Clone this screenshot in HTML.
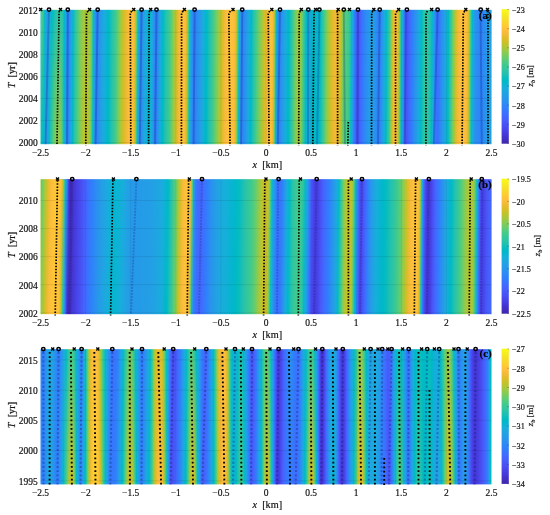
<!DOCTYPE html>
<html lang="en">
<head>
<meta charset="utf-8">
<title>Sand wave bed level evolution</title>
<style>
html,body{margin:0;padding:0;background:#fff;}
body{width:550px;height:515px;overflow:hidden;}
svg{display:block;font-family:'Liberation Serif', serif;fill:#1a1a1a;}
svg text{fill:#111;stroke:#111;stroke-width:0.18px;}
</style>
</head>
<body>
<svg width="550" height="515" viewBox="0 0 550 515">
<rect width="550" height="515" fill="#fff"/>
<defs>
<linearGradient id="cbar" x1="0" y1="0" x2="0" y2="1"><stop offset="0.0000" stop-color="#f9fb15"/><stop offset="0.0156" stop-color="#f7f51b"/><stop offset="0.0312" stop-color="#f6ef20"/><stop offset="0.0469" stop-color="#f5e924"/><stop offset="0.0625" stop-color="#f5e327"/><stop offset="0.0781" stop-color="#f7dd2a"/><stop offset="0.0938" stop-color="#f9d62d"/><stop offset="0.1094" stop-color="#fcd030"/><stop offset="0.1250" stop-color="#feca33"/><stop offset="0.1406" stop-color="#fec437"/><stop offset="0.1562" stop-color="#febe3c"/><stop offset="0.1719" stop-color="#f9bb3d"/><stop offset="0.1875" stop-color="#f1ba37"/><stop offset="0.2031" stop-color="#e8bb2f"/><stop offset="0.2188" stop-color="#debc2a"/><stop offset="0.2344" stop-color="#d4bf28"/><stop offset="0.2500" stop-color="#c8c129"/><stop offset="0.2656" stop-color="#bcc42f"/><stop offset="0.2812" stop-color="#afc637"/><stop offset="0.2969" stop-color="#a2c840"/><stop offset="0.3125" stop-color="#94ca4a"/><stop offset="0.3281" stop-color="#85cb55"/><stop offset="0.3438" stop-color="#77cc60"/><stop offset="0.3594" stop-color="#69cd6b"/><stop offset="0.3750" stop-color="#5ccc76"/><stop offset="0.3906" stop-color="#4fcc80"/><stop offset="0.4062" stop-color="#44ca8a"/><stop offset="0.4219" stop-color="#3ac993"/><stop offset="0.4375" stop-color="#34c79c"/><stop offset="0.4531" stop-color="#2ec5a4"/><stop offset="0.4688" stop-color="#28c2ab"/><stop offset="0.4844" stop-color="#1ec0b2"/><stop offset="0.5000" stop-color="#12beb9"/><stop offset="0.5156" stop-color="#07bcc0"/><stop offset="0.5312" stop-color="#01b9c6"/><stop offset="0.5469" stop-color="#04b6cd"/><stop offset="0.5625" stop-color="#0cb3d3"/><stop offset="0.5781" stop-color="#14b0d8"/><stop offset="0.5938" stop-color="#1aacdd"/><stop offset="0.6094" stop-color="#1ea7e1"/><stop offset="0.6250" stop-color="#21a3e3"/><stop offset="0.6406" stop-color="#249ee6"/><stop offset="0.6562" stop-color="#269ae9"/><stop offset="0.6719" stop-color="#2895ec"/><stop offset="0.6875" stop-color="#2c90f0"/><stop offset="0.7031" stop-color="#2d8bf4"/><stop offset="0.7188" stop-color="#2e85f8"/><stop offset="0.7344" stop-color="#3080fa"/><stop offset="0.7500" stop-color="#347afd"/><stop offset="0.7656" stop-color="#3a74fe"/><stop offset="0.7812" stop-color="#3f6efe"/><stop offset="0.7969" stop-color="#4368fe"/><stop offset="0.8125" stop-color="#4562fc"/><stop offset="0.8281" stop-color="#475dfa"/><stop offset="0.8438" stop-color="#4757f7"/><stop offset="0.8594" stop-color="#4852f4"/><stop offset="0.8750" stop-color="#484cef"/><stop offset="0.8906" stop-color="#4746ea"/><stop offset="0.9062" stop-color="#4741e5"/><stop offset="0.9219" stop-color="#463bdd"/><stop offset="0.9375" stop-color="#4536d5"/><stop offset="0.9531" stop-color="#4332ca"/><stop offset="0.9688" stop-color="#422ebf"/><stop offset="0.9844" stop-color="#402ab4"/><stop offset="1.0000" stop-color="#3e26a8"/></linearGradient>
<linearGradient id="gt1" gradientUnits="userSpaceOnUse" x1="40.5" y1="0" x2="491.5" y2="0"><stop offset="0.0000" stop-color="#64cd6f"/><stop offset="0.0022" stop-color="#5acc77"/><stop offset="0.0044" stop-color="#45cb89"/><stop offset="0.0067" stop-color="#2fc5a2"/><stop offset="0.0089" stop-color="#08bcbf"/><stop offset="0.0111" stop-color="#16afd9"/><stop offset="0.0133" stop-color="#239fe5"/><stop offset="0.0155" stop-color="#269ae9"/><stop offset="0.0177" stop-color="#23a0e5"/><stop offset="0.0200" stop-color="#1caadf"/><stop offset="0.0222" stop-color="#10b2d5"/><stop offset="0.0244" stop-color="#02b7cb"/><stop offset="0.0266" stop-color="#03bbc3"/><stop offset="0.0288" stop-color="#0dbdbc"/><stop offset="0.0310" stop-color="#18bfb6"/><stop offset="0.0333" stop-color="#21c1b0"/><stop offset="0.0355" stop-color="#27c2ab"/><stop offset="0.0377" stop-color="#2cc4a7"/><stop offset="0.0399" stop-color="#2ec5a4"/><stop offset="0.0421" stop-color="#2fc5a2"/><stop offset="0.0443" stop-color="#2fc5a2"/><stop offset="0.0466" stop-color="#2ec4a4"/><stop offset="0.0488" stop-color="#28c3ab"/><stop offset="0.0510" stop-color="#13beb8"/><stop offset="0.0532" stop-color="#03b7cc"/><stop offset="0.0554" stop-color="#1da9e0"/><stop offset="0.0576" stop-color="#2896ec"/><stop offset="0.0599" stop-color="#2e87f7"/><stop offset="0.0621" stop-color="#2e84f8"/><stop offset="0.0643" stop-color="#2d8df2"/><stop offset="0.0665" stop-color="#269ae8"/><stop offset="0.0687" stop-color="#1ea7e1"/><stop offset="0.0710" stop-color="#0eb2d4"/><stop offset="0.0732" stop-color="#03bbc3"/><stop offset="0.0754" stop-color="#1fc0b2"/><stop offset="0.0776" stop-color="#2fc5a3"/><stop offset="0.0798" stop-color="#39c895"/><stop offset="0.0820" stop-color="#48cb86"/><stop offset="0.0843" stop-color="#59cc78"/><stop offset="0.0865" stop-color="#69cd6a"/><stop offset="0.0887" stop-color="#79cc5e"/><stop offset="0.0909" stop-color="#88cb54"/><stop offset="0.0931" stop-color="#93ca4a"/><stop offset="0.0953" stop-color="#9dc943"/><stop offset="0.0976" stop-color="#a5c83d"/><stop offset="0.0998" stop-color="#aac73a"/><stop offset="0.1020" stop-color="#acc738"/><stop offset="0.1042" stop-color="#abc739"/><stop offset="0.1064" stop-color="#a7c73c"/><stop offset="0.1086" stop-color="#9fc942"/><stop offset="0.1109" stop-color="#8ccb50"/><stop offset="0.1131" stop-color="#64cd6f"/><stop offset="0.1153" stop-color="#35c79b"/><stop offset="0.1175" stop-color="#02bac5"/><stop offset="0.1197" stop-color="#20a5e2"/><stop offset="0.1220" stop-color="#2c90f0"/><stop offset="0.1242" stop-color="#2e84f9"/><stop offset="0.1264" stop-color="#2e84f8"/><stop offset="0.1286" stop-color="#2d8bf4"/><stop offset="0.1308" stop-color="#2a93ee"/><stop offset="0.1330" stop-color="#2699e9"/><stop offset="0.1353" stop-color="#249fe5"/><stop offset="0.1375" stop-color="#20a4e3"/><stop offset="0.1397" stop-color="#1da9e0"/><stop offset="0.1419" stop-color="#19acdc"/><stop offset="0.1441" stop-color="#14b0d8"/><stop offset="0.1463" stop-color="#0cb3d3"/><stop offset="0.1486" stop-color="#04b6cd"/><stop offset="0.1508" stop-color="#01b9c7"/><stop offset="0.1530" stop-color="#06bcc0"/><stop offset="0.1552" stop-color="#11beb9"/><stop offset="0.1574" stop-color="#1ec0b2"/><stop offset="0.1596" stop-color="#28c3aa"/><stop offset="0.1619" stop-color="#2fc5a2"/><stop offset="0.1641" stop-color="#36c899"/><stop offset="0.1663" stop-color="#3eca8f"/><stop offset="0.1685" stop-color="#4bcb83"/><stop offset="0.1707" stop-color="#5ccc76"/><stop offset="0.1729" stop-color="#6fcd66"/><stop offset="0.1752" stop-color="#86cb55"/><stop offset="0.1774" stop-color="#9cc944"/><stop offset="0.1796" stop-color="#afc636"/><stop offset="0.1818" stop-color="#bfc32d"/><stop offset="0.1840" stop-color="#cdc028"/><stop offset="0.1863" stop-color="#d9be28"/><stop offset="0.1885" stop-color="#e3bc2c"/><stop offset="0.1907" stop-color="#ecba32"/><stop offset="0.1929" stop-color="#f3ba39"/><stop offset="0.1951" stop-color="#fabb3d"/><stop offset="0.1973" stop-color="#febd3c"/><stop offset="0.1996" stop-color="#fec03a"/><stop offset="0.2018" stop-color="#fec239"/><stop offset="0.2040" stop-color="#fec03a"/><stop offset="0.2062" stop-color="#fdbd3d"/><stop offset="0.2084" stop-color="#f1ba37"/><stop offset="0.2106" stop-color="#c7c129"/><stop offset="0.2129" stop-color="#6ecd67"/><stop offset="0.2151" stop-color="#26c2ad"/><stop offset="0.2173" stop-color="#15afd8"/><stop offset="0.2195" stop-color="#2699e9"/><stop offset="0.2217" stop-color="#2d8af4"/><stop offset="0.2239" stop-color="#2d89f5"/><stop offset="0.2262" stop-color="#2b92ee"/><stop offset="0.2284" stop-color="#259ce7"/><stop offset="0.2306" stop-color="#20a4e3"/><stop offset="0.2328" stop-color="#1caadf"/><stop offset="0.2350" stop-color="#15afd9"/><stop offset="0.2373" stop-color="#0cb3d3"/><stop offset="0.2395" stop-color="#05b6ce"/><stop offset="0.2417" stop-color="#04b6cd"/><stop offset="0.2439" stop-color="#0bb4d2"/><stop offset="0.2461" stop-color="#17aeda"/><stop offset="0.2483" stop-color="#1fa6e2"/><stop offset="0.2506" stop-color="#269ae8"/><stop offset="0.2528" stop-color="#2d8df2"/><stop offset="0.2550" stop-color="#2e83f9"/><stop offset="0.2572" stop-color="#2f81fa"/><stop offset="0.2594" stop-color="#2d88f6"/><stop offset="0.2616" stop-color="#2994ed"/><stop offset="0.2639" stop-color="#249fe5"/><stop offset="0.2661" stop-color="#1ca9df"/><stop offset="0.2683" stop-color="#12b1d7"/><stop offset="0.2705" stop-color="#04b6cd"/><stop offset="0.2727" stop-color="#02bbc3"/><stop offset="0.2749" stop-color="#11beba"/><stop offset="0.2772" stop-color="#20c1b1"/><stop offset="0.2794" stop-color="#29c3a9"/><stop offset="0.2816" stop-color="#30c5a1"/><stop offset="0.2838" stop-color="#36c899"/><stop offset="0.2860" stop-color="#3eca8f"/><stop offset="0.2882" stop-color="#4ccb83"/><stop offset="0.2905" stop-color="#5ecd74"/><stop offset="0.2927" stop-color="#73cd62"/><stop offset="0.2949" stop-color="#8bcb51"/><stop offset="0.2971" stop-color="#a2c840"/><stop offset="0.2993" stop-color="#b8c431"/><stop offset="0.3016" stop-color="#cdc028"/><stop offset="0.3038" stop-color="#dfbc2a"/><stop offset="0.3060" stop-color="#edba34"/><stop offset="0.3082" stop-color="#f8ba3d"/><stop offset="0.3104" stop-color="#fdbd3d"/><stop offset="0.3126" stop-color="#fec03a"/><stop offset="0.3149" stop-color="#fec239"/><stop offset="0.3171" stop-color="#fec13a"/><stop offset="0.3193" stop-color="#febe3c"/><stop offset="0.3215" stop-color="#f9bb3d"/><stop offset="0.3237" stop-color="#e5bb2d"/><stop offset="0.3259" stop-color="#afc636"/><stop offset="0.3282" stop-color="#55cc7c"/><stop offset="0.3304" stop-color="#19bfb6"/><stop offset="0.3326" stop-color="#17aeda"/><stop offset="0.3348" stop-color="#259be8"/><stop offset="0.3370" stop-color="#2c8ef1"/><stop offset="0.3392" stop-color="#2e86f8"/><stop offset="0.3415" stop-color="#2f81fa"/><stop offset="0.3437" stop-color="#2f81fa"/><stop offset="0.3459" stop-color="#2e86f7"/><stop offset="0.3481" stop-color="#2d8cf3"/><stop offset="0.3503" stop-color="#2a92ee"/><stop offset="0.3525" stop-color="#2798ea"/><stop offset="0.3548" stop-color="#249de6"/><stop offset="0.3570" stop-color="#21a3e3"/><stop offset="0.3592" stop-color="#1da8e0"/><stop offset="0.3614" stop-color="#19addc"/><stop offset="0.3636" stop-color="#11b1d6"/><stop offset="0.3659" stop-color="#06b5cf"/><stop offset="0.3681" stop-color="#01b9c8"/><stop offset="0.3703" stop-color="#06bcc0"/><stop offset="0.3725" stop-color="#13beb8"/><stop offset="0.3747" stop-color="#21c1b0"/><stop offset="0.3769" stop-color="#2bc3a8"/><stop offset="0.3792" stop-color="#32c69f"/><stop offset="0.3814" stop-color="#39c995"/><stop offset="0.3836" stop-color="#44cb8a"/><stop offset="0.3858" stop-color="#52cc7e"/><stop offset="0.3880" stop-color="#61cd71"/><stop offset="0.3902" stop-color="#72cd63"/><stop offset="0.3925" stop-color="#84cb56"/><stop offset="0.3947" stop-color="#96ca48"/><stop offset="0.3969" stop-color="#a8c73b"/><stop offset="0.3991" stop-color="#b9c430"/><stop offset="0.4013" stop-color="#c9c129"/><stop offset="0.4035" stop-color="#d8be28"/><stop offset="0.4058" stop-color="#e5bb2d"/><stop offset="0.4080" stop-color="#f0ba36"/><stop offset="0.4102" stop-color="#f8ba3d"/><stop offset="0.4124" stop-color="#fcbc3d"/><stop offset="0.4146" stop-color="#febe3c"/><stop offset="0.4169" stop-color="#fec03a"/><stop offset="0.4191" stop-color="#fec239"/><stop offset="0.4213" stop-color="#fec339"/><stop offset="0.4235" stop-color="#fec239"/><stop offset="0.4257" stop-color="#fec03a"/><stop offset="0.4279" stop-color="#febe3c"/><stop offset="0.4302" stop-color="#fbbc3d"/><stop offset="0.4324" stop-color="#f0ba36"/><stop offset="0.4346" stop-color="#c7c12a"/><stop offset="0.4368" stop-color="#6ecd67"/><stop offset="0.4390" stop-color="#27c2ac"/><stop offset="0.4412" stop-color="#13b0d7"/><stop offset="0.4435" stop-color="#269ae8"/><stop offset="0.4457" stop-color="#2d8af4"/><stop offset="0.4479" stop-color="#2e83f9"/><stop offset="0.4501" stop-color="#2e85f8"/><stop offset="0.4523" stop-color="#2d8cf3"/><stop offset="0.4545" stop-color="#2994ed"/><stop offset="0.4568" stop-color="#269be8"/><stop offset="0.4590" stop-color="#22a1e4"/><stop offset="0.4612" stop-color="#1da8e0"/><stop offset="0.4634" stop-color="#16afd9"/><stop offset="0.4656" stop-color="#07b5d0"/><stop offset="0.4678" stop-color="#02bac4"/><stop offset="0.4701" stop-color="#12beb9"/><stop offset="0.4723" stop-color="#25c2ad"/><stop offset="0.4745" stop-color="#30c5a2"/><stop offset="0.4767" stop-color="#39c895"/><stop offset="0.4789" stop-color="#46cb88"/><stop offset="0.4812" stop-color="#57cc7a"/><stop offset="0.4834" stop-color="#68cd6c"/><stop offset="0.4856" stop-color="#78cc5f"/><stop offset="0.4878" stop-color="#89cb52"/><stop offset="0.4900" stop-color="#9ac945"/><stop offset="0.4922" stop-color="#abc739"/><stop offset="0.4945" stop-color="#bdc32e"/><stop offset="0.4967" stop-color="#cfc028"/><stop offset="0.4989" stop-color="#debc2a"/><stop offset="0.5011" stop-color="#ebba31"/><stop offset="0.5033" stop-color="#f5ba3a"/><stop offset="0.5055" stop-color="#fbbc3d"/><stop offset="0.5078" stop-color="#febf3b"/><stop offset="0.5100" stop-color="#fec13a"/><stop offset="0.5122" stop-color="#fec03b"/><stop offset="0.5144" stop-color="#fbbc3d"/><stop offset="0.5166" stop-color="#e9bb30"/><stop offset="0.5188" stop-color="#abc739"/><stop offset="0.5211" stop-color="#3bc992"/><stop offset="0.5233" stop-color="#0bb3d2"/><stop offset="0.5255" stop-color="#2797ea"/><stop offset="0.5277" stop-color="#2e87f7"/><stop offset="0.5299" stop-color="#2e84f9"/><stop offset="0.5322" stop-color="#2d89f5"/><stop offset="0.5344" stop-color="#2c90f0"/><stop offset="0.5366" stop-color="#2797eb"/><stop offset="0.5388" stop-color="#249ee6"/><stop offset="0.5410" stop-color="#20a4e3"/><stop offset="0.5432" stop-color="#1baade"/><stop offset="0.5455" stop-color="#14b0d8"/><stop offset="0.5477" stop-color="#09b4d1"/><stop offset="0.5499" stop-color="#01b8c9"/><stop offset="0.5521" stop-color="#06bcc0"/><stop offset="0.5543" stop-color="#18bfb6"/><stop offset="0.5565" stop-color="#29c3a9"/><stop offset="0.5588" stop-color="#35c79a"/><stop offset="0.5610" stop-color="#45cb89"/><stop offset="0.5632" stop-color="#5ccc76"/><stop offset="0.5654" stop-color="#71cd64"/><stop offset="0.5676" stop-color="#85cb55"/><stop offset="0.5698" stop-color="#97ca47"/><stop offset="0.5721" stop-color="#a5c83d"/><stop offset="0.5743" stop-color="#a7c73c"/><stop offset="0.5765" stop-color="#99c946"/><stop offset="0.5787" stop-color="#7fcc5a"/><stop offset="0.5809" stop-color="#5fcd73"/><stop offset="0.5831" stop-color="#3fca8e"/><stop offset="0.5854" stop-color="#2dc4a5"/><stop offset="0.5876" stop-color="#13beb9"/><stop offset="0.5898" stop-color="#01b8c9"/><stop offset="0.5920" stop-color="#11b2d5"/><stop offset="0.5942" stop-color="#1aacdd"/><stop offset="0.5965" stop-color="#1babde"/><stop offset="0.5987" stop-color="#17aeda"/><stop offset="0.6009" stop-color="#0cb3d3"/><stop offset="0.6031" stop-color="#01b7ca"/><stop offset="0.6053" stop-color="#02bbc3"/><stop offset="0.6075" stop-color="#05bbc1"/><stop offset="0.6098" stop-color="#01bac6"/><stop offset="0.6120" stop-color="#04b6cd"/><stop offset="0.6142" stop-color="#0bb3d2"/><stop offset="0.6164" stop-color="#0ab4d1"/><stop offset="0.6186" stop-color="#02b7cb"/><stop offset="0.6208" stop-color="#04bbc1"/><stop offset="0.6231" stop-color="#18bfb6"/><stop offset="0.6253" stop-color="#2bc3a8"/><stop offset="0.6275" stop-color="#36c898"/><stop offset="0.6297" stop-color="#48cb86"/><stop offset="0.6319" stop-color="#5fcd73"/><stop offset="0.6341" stop-color="#76cc60"/><stop offset="0.6364" stop-color="#8ecb4f"/><stop offset="0.6386" stop-color="#a4c83e"/><stop offset="0.6408" stop-color="#b7c532"/><stop offset="0.6430" stop-color="#c8c129"/><stop offset="0.6452" stop-color="#d5be28"/><stop offset="0.6475" stop-color="#e0bc2a"/><stop offset="0.6497" stop-color="#e8bb2f"/><stop offset="0.6519" stop-color="#edba33"/><stop offset="0.6541" stop-color="#f1ba36"/><stop offset="0.6563" stop-color="#f2ba38"/><stop offset="0.6585" stop-color="#f1ba37"/><stop offset="0.6608" stop-color="#ecba32"/><stop offset="0.6630" stop-color="#e2bc2b"/><stop offset="0.6652" stop-color="#cfc028"/><stop offset="0.6674" stop-color="#afc636"/><stop offset="0.6696" stop-color="#8ccb50"/><stop offset="0.6718" stop-color="#6dcd67"/><stop offset="0.6741" stop-color="#5bcc77"/><stop offset="0.6763" stop-color="#53cc7d"/><stop offset="0.6785" stop-color="#4ecc81"/><stop offset="0.6807" stop-color="#49cb85"/><stop offset="0.6829" stop-color="#3fca8e"/><stop offset="0.6851" stop-color="#33c79d"/><stop offset="0.6874" stop-color="#25c2ae"/><stop offset="0.6896" stop-color="#02bac4"/><stop offset="0.6918" stop-color="#19addc"/><stop offset="0.6940" stop-color="#2798ea"/><stop offset="0.6962" stop-color="#2e83f9"/><stop offset="0.6984" stop-color="#3d70ff"/><stop offset="0.7007" stop-color="#4562fc"/><stop offset="0.7029" stop-color="#4759f8"/><stop offset="0.7051" stop-color="#4756f6"/><stop offset="0.7073" stop-color="#475af9"/><stop offset="0.7095" stop-color="#4562fc"/><stop offset="0.7118" stop-color="#416cfe"/><stop offset="0.7140" stop-color="#3975fe"/><stop offset="0.7162" stop-color="#317dfc"/><stop offset="0.7184" stop-color="#2e84f9"/><stop offset="0.7206" stop-color="#2d89f5"/><stop offset="0.7228" stop-color="#2d8df2"/><stop offset="0.7251" stop-color="#2b92ee"/><stop offset="0.7273" stop-color="#2796eb"/><stop offset="0.7295" stop-color="#269ae8"/><stop offset="0.7317" stop-color="#249ee6"/><stop offset="0.7339" stop-color="#23a1e4"/><stop offset="0.7361" stop-color="#23a1e4"/><stop offset="0.7384" stop-color="#249ee6"/><stop offset="0.7406" stop-color="#2699e9"/><stop offset="0.7428" stop-color="#2994ed"/><stop offset="0.7450" stop-color="#2d8df2"/><stop offset="0.7472" stop-color="#2e86f7"/><stop offset="0.7494" stop-color="#2f81fa"/><stop offset="0.7517" stop-color="#2f81fa"/><stop offset="0.7539" stop-color="#2e86f7"/><stop offset="0.7561" stop-color="#2c8ef1"/><stop offset="0.7583" stop-color="#2798ea"/><stop offset="0.7605" stop-color="#22a2e4"/><stop offset="0.7627" stop-color="#1babde"/><stop offset="0.7650" stop-color="#0cb3d3"/><stop offset="0.7672" stop-color="#01b9c6"/><stop offset="0.7694" stop-color="#15bfb8"/><stop offset="0.7716" stop-color="#2ac3a8"/><stop offset="0.7738" stop-color="#38c896"/><stop offset="0.7761" stop-color="#58cc79"/><stop offset="0.7783" stop-color="#8ecb4f"/><stop offset="0.7805" stop-color="#c3c22b"/><stop offset="0.7827" stop-color="#e7bb2e"/><stop offset="0.7849" stop-color="#fabb3d"/><stop offset="0.7871" stop-color="#fec13a"/><stop offset="0.7894" stop-color="#fec03b"/><stop offset="0.7916" stop-color="#f4ba39"/><stop offset="0.7938" stop-color="#d1bf27"/><stop offset="0.7960" stop-color="#8fcb4e"/><stop offset="0.7982" stop-color="#42ca8b"/><stop offset="0.8004" stop-color="#11beb9"/><stop offset="0.8027" stop-color="#19addc"/><stop offset="0.8049" stop-color="#2a93ed"/><stop offset="0.8071" stop-color="#3479fd"/><stop offset="0.8093" stop-color="#4563fd"/><stop offset="0.8115" stop-color="#4758f8"/><stop offset="0.8137" stop-color="#4757f7"/><stop offset="0.8160" stop-color="#465efb"/><stop offset="0.8182" stop-color="#4367fd"/><stop offset="0.8204" stop-color="#3e6fff"/><stop offset="0.8226" stop-color="#3777fe"/><stop offset="0.8248" stop-color="#307ffb"/><stop offset="0.8271" stop-color="#2e86f8"/><stop offset="0.8293" stop-color="#2d8cf3"/><stop offset="0.8315" stop-color="#2a93ee"/><stop offset="0.8337" stop-color="#2699e9"/><stop offset="0.8359" stop-color="#239fe5"/><stop offset="0.8381" stop-color="#1fa6e1"/><stop offset="0.8404" stop-color="#18aedb"/><stop offset="0.8426" stop-color="#09b4d1"/><stop offset="0.8448" stop-color="#01bac5"/><stop offset="0.8470" stop-color="#10beba"/><stop offset="0.8492" stop-color="#20c1b1"/><stop offset="0.8514" stop-color="#2bc3a8"/><stop offset="0.8537" stop-color="#30c5a1"/><stop offset="0.8559" stop-color="#32c69e"/><stop offset="0.8581" stop-color="#31c6a0"/><stop offset="0.8603" stop-color="#2dc4a6"/><stop offset="0.8625" stop-color="#27c2ab"/><stop offset="0.8647" stop-color="#1fc0b2"/><stop offset="0.8670" stop-color="#0dbdbc"/><stop offset="0.8692" stop-color="#05b6ce"/><stop offset="0.8714" stop-color="#1ea7e1"/><stop offset="0.8736" stop-color="#2895ec"/><stop offset="0.8758" stop-color="#2e85f8"/><stop offset="0.8780" stop-color="#3678fe"/><stop offset="0.8803" stop-color="#3d70ff"/><stop offset="0.8825" stop-color="#3c72ff"/><stop offset="0.8847" stop-color="#337bfd"/><stop offset="0.8869" stop-color="#2e84f8"/><stop offset="0.8891" stop-color="#2d8df2"/><stop offset="0.8914" stop-color="#2994ed"/><stop offset="0.8936" stop-color="#259be8"/><stop offset="0.8958" stop-color="#22a1e4"/><stop offset="0.8980" stop-color="#1da8e0"/><stop offset="0.9002" stop-color="#16afd9"/><stop offset="0.9024" stop-color="#07b5d0"/><stop offset="0.9047" stop-color="#02bac3"/><stop offset="0.9069" stop-color="#1ac0b5"/><stop offset="0.9091" stop-color="#2fc5a2"/><stop offset="0.9113" stop-color="#42ca8c"/><stop offset="0.9135" stop-color="#5fcd73"/><stop offset="0.9157" stop-color="#7ccc5c"/><stop offset="0.9180" stop-color="#9bc945"/><stop offset="0.9202" stop-color="#bbc430"/><stop offset="0.9224" stop-color="#d8be28"/><stop offset="0.9246" stop-color="#ebba31"/><stop offset="0.9268" stop-color="#f4ba39"/><stop offset="0.9290" stop-color="#f9bb3d"/><stop offset="0.9313" stop-color="#fdbd3d"/><stop offset="0.9335" stop-color="#fec03a"/><stop offset="0.9357" stop-color="#fec239"/><stop offset="0.9379" stop-color="#fec13a"/><stop offset="0.9401" stop-color="#febf3b"/><stop offset="0.9424" stop-color="#fdbd3d"/><stop offset="0.9446" stop-color="#fabb3d"/><stop offset="0.9468" stop-color="#f3ba39"/><stop offset="0.9490" stop-color="#dbbd29"/><stop offset="0.9512" stop-color="#9fc942"/><stop offset="0.9534" stop-color="#4dcc82"/><stop offset="0.9557" stop-color="#23c1af"/><stop offset="0.9579" stop-color="#04b6cd"/><stop offset="0.9601" stop-color="#1da9e0"/><stop offset="0.9623" stop-color="#259ce7"/><stop offset="0.9645" stop-color="#2a93ed"/><stop offset="0.9667" stop-color="#2c8ff1"/><stop offset="0.9690" stop-color="#2d8cf3"/><stop offset="0.9712" stop-color="#2d89f5"/><stop offset="0.9734" stop-color="#2e87f7"/><stop offset="0.9756" stop-color="#2e84f8"/><stop offset="0.9778" stop-color="#2e84f8"/><stop offset="0.9800" stop-color="#2e86f8"/><stop offset="0.9823" stop-color="#2d89f5"/><stop offset="0.9845" stop-color="#2d8cf3"/><stop offset="0.9867" stop-color="#2b91ef"/><stop offset="0.9889" stop-color="#2797ea"/><stop offset="0.9911" stop-color="#249de6"/><stop offset="0.9933" stop-color="#22a2e4"/><stop offset="0.9956" stop-color="#21a3e3"/><stop offset="0.9978" stop-color="#21a3e4"/><stop offset="1.0000" stop-color="#22a2e4"/></linearGradient>
<linearGradient id="gb1" gradientUnits="userSpaceOnUse" x1="40.5" y1="0" x2="491.5" y2="0"><stop offset="0.0000" stop-color="#16bfb7"/><stop offset="0.0022" stop-color="#08bcbf"/><stop offset="0.0044" stop-color="#01bac5"/><stop offset="0.0067" stop-color="#04b6cd"/><stop offset="0.0089" stop-color="#16aeda"/><stop offset="0.0111" stop-color="#22a2e4"/><stop offset="0.0133" stop-color="#259de7"/><stop offset="0.0155" stop-color="#20a4e3"/><stop offset="0.0177" stop-color="#10b2d5"/><stop offset="0.0200" stop-color="#06bcc0"/><stop offset="0.0222" stop-color="#27c2ac"/><stop offset="0.0244" stop-color="#36c898"/><stop offset="0.0266" stop-color="#49cb85"/><stop offset="0.0288" stop-color="#5fcd73"/><stop offset="0.0310" stop-color="#73cd62"/><stop offset="0.0333" stop-color="#84cc56"/><stop offset="0.0355" stop-color="#90ca4d"/><stop offset="0.0377" stop-color="#98c947"/><stop offset="0.0399" stop-color="#99c946"/><stop offset="0.0421" stop-color="#96ca49"/><stop offset="0.0443" stop-color="#8dcb50"/><stop offset="0.0466" stop-color="#71cd64"/><stop offset="0.0488" stop-color="#40ca8d"/><stop offset="0.0510" stop-color="#17bfb6"/><stop offset="0.0532" stop-color="#15afd9"/><stop offset="0.0554" stop-color="#269ae9"/><stop offset="0.0576" stop-color="#2d89f5"/><stop offset="0.0599" stop-color="#2e84f9"/><stop offset="0.0621" stop-color="#2d8bf4"/><stop offset="0.0643" stop-color="#2798ea"/><stop offset="0.0665" stop-color="#20a5e2"/><stop offset="0.0687" stop-color="#13b1d7"/><stop offset="0.0710" stop-color="#01b9c6"/><stop offset="0.0732" stop-color="#19bfb5"/><stop offset="0.0754" stop-color="#2dc4a6"/><stop offset="0.0776" stop-color="#37c898"/><stop offset="0.0798" stop-color="#44cb89"/><stop offset="0.0820" stop-color="#55cc7b"/><stop offset="0.0843" stop-color="#66cd6d"/><stop offset="0.0865" stop-color="#78cc5f"/><stop offset="0.0887" stop-color="#8bcb51"/><stop offset="0.0909" stop-color="#9cc943"/><stop offset="0.0931" stop-color="#acc739"/><stop offset="0.0953" stop-color="#b7c532"/><stop offset="0.0976" stop-color="#bfc32d"/><stop offset="0.0998" stop-color="#c3c22b"/><stop offset="0.1020" stop-color="#c2c22c"/><stop offset="0.1042" stop-color="#bdc32f"/><stop offset="0.1064" stop-color="#b4c533"/><stop offset="0.1086" stop-color="#a1c840"/><stop offset="0.1109" stop-color="#77cc60"/><stop offset="0.1131" stop-color="#3eca8f"/><stop offset="0.1153" stop-color="#0cbdbc"/><stop offset="0.1175" stop-color="#1caadf"/><stop offset="0.1197" stop-color="#2a93ed"/><stop offset="0.1220" stop-color="#2e85f8"/><stop offset="0.1242" stop-color="#2e83f9"/><stop offset="0.1264" stop-color="#2d8af5"/><stop offset="0.1286" stop-color="#2b91ef"/><stop offset="0.1308" stop-color="#2798ea"/><stop offset="0.1330" stop-color="#249ee6"/><stop offset="0.1353" stop-color="#21a3e3"/><stop offset="0.1375" stop-color="#1da8e0"/><stop offset="0.1397" stop-color="#1aacdd"/><stop offset="0.1419" stop-color="#15afd9"/><stop offset="0.1441" stop-color="#0eb3d4"/><stop offset="0.1463" stop-color="#06b6ce"/><stop offset="0.1486" stop-color="#01b8c8"/><stop offset="0.1508" stop-color="#04bbc2"/><stop offset="0.1530" stop-color="#0fbebb"/><stop offset="0.1552" stop-color="#1cc0b4"/><stop offset="0.1574" stop-color="#27c2ac"/><stop offset="0.1596" stop-color="#2ec5a4"/><stop offset="0.1619" stop-color="#35c79b"/><stop offset="0.1641" stop-color="#3cc991"/><stop offset="0.1663" stop-color="#48cb86"/><stop offset="0.1685" stop-color="#58cc79"/><stop offset="0.1707" stop-color="#6bcd69"/><stop offset="0.1729" stop-color="#81cc58"/><stop offset="0.1752" stop-color="#98ca47"/><stop offset="0.1774" stop-color="#acc739"/><stop offset="0.1796" stop-color="#bcc42f"/><stop offset="0.1818" stop-color="#cac129"/><stop offset="0.1840" stop-color="#d6be28"/><stop offset="0.1863" stop-color="#e1bc2b"/><stop offset="0.1885" stop-color="#eaba30"/><stop offset="0.1907" stop-color="#f2ba38"/><stop offset="0.1929" stop-color="#f9ba3d"/><stop offset="0.1951" stop-color="#fdbd3d"/><stop offset="0.1973" stop-color="#fec03b"/><stop offset="0.1996" stop-color="#fec239"/><stop offset="0.2018" stop-color="#fec13a"/><stop offset="0.2040" stop-color="#febe3c"/><stop offset="0.2062" stop-color="#f5ba3a"/><stop offset="0.2084" stop-color="#d3bf27"/><stop offset="0.2106" stop-color="#83cc57"/><stop offset="0.2129" stop-color="#30c5a1"/><stop offset="0.2151" stop-color="#0ab4d2"/><stop offset="0.2173" stop-color="#259de7"/><stop offset="0.2195" stop-color="#2d8cf3"/><stop offset="0.2217" stop-color="#2d89f6"/><stop offset="0.2239" stop-color="#2c90f0"/><stop offset="0.2262" stop-color="#269ae8"/><stop offset="0.2284" stop-color="#22a2e4"/><stop offset="0.2306" stop-color="#1da9e0"/><stop offset="0.2328" stop-color="#17aeda"/><stop offset="0.2350" stop-color="#0eb2d4"/><stop offset="0.2373" stop-color="#06b5ce"/><stop offset="0.2395" stop-color="#04b6cd"/><stop offset="0.2417" stop-color="#08b4d1"/><stop offset="0.2439" stop-color="#14b0d8"/><stop offset="0.2461" stop-color="#1da8e0"/><stop offset="0.2483" stop-color="#259de7"/><stop offset="0.2506" stop-color="#2c8ff0"/><stop offset="0.2528" stop-color="#2e84f8"/><stop offset="0.2550" stop-color="#2f81fa"/><stop offset="0.2572" stop-color="#2e86f7"/><stop offset="0.2594" stop-color="#2b91ef"/><stop offset="0.2616" stop-color="#249de6"/><stop offset="0.2639" stop-color="#1ea7e1"/><stop offset="0.2661" stop-color="#15afd9"/><stop offset="0.2683" stop-color="#06b5cf"/><stop offset="0.2705" stop-color="#01bac5"/><stop offset="0.2727" stop-color="#0dbdbb"/><stop offset="0.2749" stop-color="#1dc0b3"/><stop offset="0.2772" stop-color="#28c2ab"/><stop offset="0.2794" stop-color="#2fc5a3"/><stop offset="0.2816" stop-color="#35c79a"/><stop offset="0.2838" stop-color="#3cc991"/><stop offset="0.2860" stop-color="#49cb85"/><stop offset="0.2882" stop-color="#5acc77"/><stop offset="0.2905" stop-color="#6fcd66"/><stop offset="0.2927" stop-color="#86cb55"/><stop offset="0.2949" stop-color="#9dc943"/><stop offset="0.2971" stop-color="#b4c534"/><stop offset="0.2993" stop-color="#c9c129"/><stop offset="0.3016" stop-color="#dbbd29"/><stop offset="0.3038" stop-color="#ebba31"/><stop offset="0.3060" stop-color="#f6ba3c"/><stop offset="0.3082" stop-color="#fcbd3d"/><stop offset="0.3104" stop-color="#fec03b"/><stop offset="0.3126" stop-color="#fec239"/><stop offset="0.3149" stop-color="#fec13a"/><stop offset="0.3171" stop-color="#febf3b"/><stop offset="0.3193" stop-color="#fbbc3d"/><stop offset="0.3215" stop-color="#ebba32"/><stop offset="0.3237" stop-color="#bec32e"/><stop offset="0.3259" stop-color="#67cd6d"/><stop offset="0.3282" stop-color="#26c2ac"/><stop offset="0.3304" stop-color="#0fb2d5"/><stop offset="0.3326" stop-color="#249fe6"/><stop offset="0.3348" stop-color="#2b90ef"/><stop offset="0.3370" stop-color="#2e87f7"/><stop offset="0.3392" stop-color="#2f81fa"/><stop offset="0.3415" stop-color="#2f81fa"/><stop offset="0.3437" stop-color="#2e85f8"/><stop offset="0.3459" stop-color="#2d8bf4"/><stop offset="0.3481" stop-color="#2b91ef"/><stop offset="0.3503" stop-color="#2797eb"/><stop offset="0.3525" stop-color="#259ce7"/><stop offset="0.3548" stop-color="#22a2e4"/><stop offset="0.3570" stop-color="#1ea7e1"/><stop offset="0.3592" stop-color="#1aacdd"/><stop offset="0.3614" stop-color="#13b0d7"/><stop offset="0.3636" stop-color="#08b4d0"/><stop offset="0.3659" stop-color="#01b8c9"/><stop offset="0.3681" stop-color="#04bbc2"/><stop offset="0.3703" stop-color="#10beba"/><stop offset="0.3725" stop-color="#1fc0b2"/><stop offset="0.3747" stop-color="#29c3a9"/><stop offset="0.3769" stop-color="#31c6a0"/><stop offset="0.3792" stop-color="#37c897"/><stop offset="0.3814" stop-color="#41ca8c"/><stop offset="0.3836" stop-color="#4fcc80"/><stop offset="0.3858" stop-color="#5ecd74"/><stop offset="0.3880" stop-color="#6fcd66"/><stop offset="0.3902" stop-color="#81cc59"/><stop offset="0.3925" stop-color="#93ca4b"/><stop offset="0.3947" stop-color="#a5c83e"/><stop offset="0.3969" stop-color="#b6c532"/><stop offset="0.3991" stop-color="#c6c22a"/><stop offset="0.4013" stop-color="#d5be28"/><stop offset="0.4035" stop-color="#e3bc2c"/><stop offset="0.4058" stop-color="#eeba34"/><stop offset="0.4080" stop-color="#f7ba3c"/><stop offset="0.4102" stop-color="#fbbc3d"/><stop offset="0.4124" stop-color="#febe3c"/><stop offset="0.4146" stop-color="#fec03b"/><stop offset="0.4169" stop-color="#fec239"/><stop offset="0.4191" stop-color="#fec339"/><stop offset="0.4213" stop-color="#fec239"/><stop offset="0.4235" stop-color="#fec13a"/><stop offset="0.4257" stop-color="#febf3c"/><stop offset="0.4279" stop-color="#fcbd3d"/><stop offset="0.4302" stop-color="#f4ba39"/><stop offset="0.4324" stop-color="#d3bf27"/><stop offset="0.4346" stop-color="#83cc57"/><stop offset="0.4368" stop-color="#31c5a1"/><stop offset="0.4390" stop-color="#08b5d0"/><stop offset="0.4412" stop-color="#249ee6"/><stop offset="0.4435" stop-color="#2d8df2"/><stop offset="0.4457" stop-color="#2e84f8"/><stop offset="0.4479" stop-color="#2e84f8"/><stop offset="0.4501" stop-color="#2d8bf4"/><stop offset="0.4523" stop-color="#2a92ee"/><stop offset="0.4545" stop-color="#2699e9"/><stop offset="0.4568" stop-color="#23a0e5"/><stop offset="0.4590" stop-color="#1ea7e1"/><stop offset="0.4612" stop-color="#18addb"/><stop offset="0.4634" stop-color="#0ab4d2"/><stop offset="0.4656" stop-color="#01b9c7"/><stop offset="0.4678" stop-color="#0ebdbb"/><stop offset="0.4701" stop-color="#22c1b0"/><stop offset="0.4723" stop-color="#2ec4a4"/><stop offset="0.4745" stop-color="#36c898"/><stop offset="0.4767" stop-color="#43ca8a"/><stop offset="0.4789" stop-color="#54cc7c"/><stop offset="0.4812" stop-color="#64cd6f"/><stop offset="0.4834" stop-color="#75cc61"/><stop offset="0.4856" stop-color="#86cb55"/><stop offset="0.4878" stop-color="#96ca48"/><stop offset="0.4900" stop-color="#a8c73b"/><stop offset="0.4922" stop-color="#bac430"/><stop offset="0.4945" stop-color="#cbc029"/><stop offset="0.4967" stop-color="#dbbd29"/><stop offset="0.4989" stop-color="#e9bb2f"/><stop offset="0.5011" stop-color="#f3ba39"/><stop offset="0.5033" stop-color="#fabb3d"/><stop offset="0.5055" stop-color="#febe3c"/><stop offset="0.5078" stop-color="#fec13a"/><stop offset="0.5100" stop-color="#fec03a"/><stop offset="0.5122" stop-color="#fdbd3d"/><stop offset="0.5144" stop-color="#efba35"/><stop offset="0.5166" stop-color="#bdc32e"/><stop offset="0.5188" stop-color="#4fcc81"/><stop offset="0.5211" stop-color="#01b8c8"/><stop offset="0.5233" stop-color="#259ce7"/><stop offset="0.5255" stop-color="#2d89f6"/><stop offset="0.5277" stop-color="#2e83f9"/><stop offset="0.5299" stop-color="#2d88f6"/><stop offset="0.5322" stop-color="#2c8ff1"/><stop offset="0.5344" stop-color="#2896ec"/><stop offset="0.5366" stop-color="#259de7"/><stop offset="0.5388" stop-color="#21a3e3"/><stop offset="0.5410" stop-color="#1ca9df"/><stop offset="0.5432" stop-color="#16afda"/><stop offset="0.5455" stop-color="#0cb3d3"/><stop offset="0.5477" stop-color="#02b7cb"/><stop offset="0.5499" stop-color="#03bbc2"/><stop offset="0.5521" stop-color="#13beb8"/><stop offset="0.5543" stop-color="#27c2ac"/><stop offset="0.5565" stop-color="#33c69d"/><stop offset="0.5588" stop-color="#41ca8c"/><stop offset="0.5610" stop-color="#57cc7a"/><stop offset="0.5632" stop-color="#6dcd67"/><stop offset="0.5654" stop-color="#81cc58"/><stop offset="0.5676" stop-color="#94ca4a"/><stop offset="0.5698" stop-color="#a3c83f"/><stop offset="0.5721" stop-color="#a8c73b"/><stop offset="0.5743" stop-color="#9dc943"/><stop offset="0.5765" stop-color="#85cb55"/><stop offset="0.5787" stop-color="#66cd6d"/><stop offset="0.5809" stop-color="#45cb88"/><stop offset="0.5831" stop-color="#30c5a1"/><stop offset="0.5854" stop-color="#19bfb5"/><stop offset="0.5876" stop-color="#01b9c6"/><stop offset="0.5898" stop-color="#0db3d3"/><stop offset="0.5920" stop-color="#19addc"/><stop offset="0.5942" stop-color="#1babde"/><stop offset="0.5965" stop-color="#18addb"/><stop offset="0.5987" stop-color="#0eb2d4"/><stop offset="0.6009" stop-color="#03b7cc"/><stop offset="0.6031" stop-color="#02bac4"/><stop offset="0.6053" stop-color="#06bbc1"/><stop offset="0.6075" stop-color="#02bac4"/><stop offset="0.6098" stop-color="#03b7cb"/><stop offset="0.6120" stop-color="#0ab4d1"/><stop offset="0.6142" stop-color="#0bb4d2"/><stop offset="0.6164" stop-color="#04b6cd"/><stop offset="0.6186" stop-color="#02bac4"/><stop offset="0.6208" stop-color="#13beb8"/><stop offset="0.6231" stop-color="#27c2ab"/><stop offset="0.6253" stop-color="#34c79b"/><stop offset="0.6275" stop-color="#44cb8a"/><stop offset="0.6297" stop-color="#5acc77"/><stop offset="0.6319" stop-color="#71cd64"/><stop offset="0.6341" stop-color="#89cb52"/><stop offset="0.6364" stop-color="#9fc941"/><stop offset="0.6386" stop-color="#b3c534"/><stop offset="0.6408" stop-color="#c5c22a"/><stop offset="0.6430" stop-color="#d3bf27"/><stop offset="0.6452" stop-color="#debc2a"/><stop offset="0.6475" stop-color="#e7bb2e"/><stop offset="0.6497" stop-color="#ecba33"/><stop offset="0.6519" stop-color="#f0ba36"/><stop offset="0.6541" stop-color="#f2ba38"/><stop offset="0.6563" stop-color="#f1ba37"/><stop offset="0.6585" stop-color="#edba33"/><stop offset="0.6608" stop-color="#e5bb2c"/><stop offset="0.6630" stop-color="#d3bf27"/><stop offset="0.6652" stop-color="#b6c532"/><stop offset="0.6674" stop-color="#93ca4b"/><stop offset="0.6696" stop-color="#73cd63"/><stop offset="0.6718" stop-color="#5ecc74"/><stop offset="0.6741" stop-color="#54cc7c"/><stop offset="0.6763" stop-color="#4fcc80"/><stop offset="0.6785" stop-color="#4acb84"/><stop offset="0.6807" stop-color="#41ca8c"/><stop offset="0.6829" stop-color="#35c799"/><stop offset="0.6851" stop-color="#29c3aa"/><stop offset="0.6874" stop-color="#08bcbf"/><stop offset="0.6896" stop-color="#13b0d8"/><stop offset="0.6918" stop-color="#259ce7"/><stop offset="0.6940" stop-color="#2d87f6"/><stop offset="0.6962" stop-color="#3a74fe"/><stop offset="0.6984" stop-color="#4465fd"/><stop offset="0.7007" stop-color="#475af9"/><stop offset="0.7029" stop-color="#4756f6"/><stop offset="0.7051" stop-color="#4759f8"/><stop offset="0.7073" stop-color="#4661fc"/><stop offset="0.7095" stop-color="#426afe"/><stop offset="0.7118" stop-color="#3a73fe"/><stop offset="0.7140" stop-color="#327cfc"/><stop offset="0.7162" stop-color="#2f83f9"/><stop offset="0.7184" stop-color="#2d88f6"/><stop offset="0.7206" stop-color="#2d8df3"/><stop offset="0.7228" stop-color="#2b91ef"/><stop offset="0.7251" stop-color="#2895ec"/><stop offset="0.7273" stop-color="#269ae9"/><stop offset="0.7295" stop-color="#249de6"/><stop offset="0.7317" stop-color="#23a0e5"/><stop offset="0.7339" stop-color="#23a1e4"/><stop offset="0.7361" stop-color="#249ee6"/><stop offset="0.7384" stop-color="#269ae8"/><stop offset="0.7406" stop-color="#2895ec"/><stop offset="0.7428" stop-color="#2c8ff1"/><stop offset="0.7450" stop-color="#2d88f6"/><stop offset="0.7472" stop-color="#2f82f9"/><stop offset="0.7494" stop-color="#2f81fa"/><stop offset="0.7517" stop-color="#2e85f8"/><stop offset="0.7539" stop-color="#2d8cf3"/><stop offset="0.7561" stop-color="#2896ec"/><stop offset="0.7583" stop-color="#23a0e5"/><stop offset="0.7605" stop-color="#1ca9df"/><stop offset="0.7627" stop-color="#11b1d6"/><stop offset="0.7650" stop-color="#01b8c9"/><stop offset="0.7672" stop-color="#0fbebb"/><stop offset="0.7694" stop-color="#27c2ac"/><stop offset="0.7716" stop-color="#35c79a"/><stop offset="0.7738" stop-color="#50cc80"/><stop offset="0.7761" stop-color="#82cc58"/><stop offset="0.7783" stop-color="#b9c430"/><stop offset="0.7805" stop-color="#e1bc2b"/><stop offset="0.7827" stop-color="#f8ba3d"/><stop offset="0.7849" stop-color="#fec03b"/><stop offset="0.7871" stop-color="#fec13a"/><stop offset="0.7894" stop-color="#f8ba3d"/><stop offset="0.7916" stop-color="#dabd28"/><stop offset="0.7938" stop-color="#9ec942"/><stop offset="0.7960" stop-color="#50cc80"/><stop offset="0.7982" stop-color="#20c1b1"/><stop offset="0.8004" stop-color="#12b1d6"/><stop offset="0.8027" stop-color="#2699ea"/><stop offset="0.8049" stop-color="#307efb"/><stop offset="0.8071" stop-color="#4367fd"/><stop offset="0.8093" stop-color="#475af9"/><stop offset="0.8115" stop-color="#4757f7"/><stop offset="0.8137" stop-color="#475cfa"/><stop offset="0.8160" stop-color="#4465fd"/><stop offset="0.8182" stop-color="#406dfe"/><stop offset="0.8204" stop-color="#3875fe"/><stop offset="0.8226" stop-color="#317dfc"/><stop offset="0.8248" stop-color="#2e84f8"/><stop offset="0.8271" stop-color="#2d8bf4"/><stop offset="0.8293" stop-color="#2b92ef"/><stop offset="0.8315" stop-color="#2798ea"/><stop offset="0.8337" stop-color="#249ee6"/><stop offset="0.8359" stop-color="#20a5e2"/><stop offset="0.8381" stop-color="#19acdc"/><stop offset="0.8404" stop-color="#0cb3d3"/><stop offset="0.8426" stop-color="#01b9c7"/><stop offset="0.8448" stop-color="#0cbdbc"/><stop offset="0.8470" stop-color="#1ec0b2"/><stop offset="0.8492" stop-color="#29c3aa"/><stop offset="0.8514" stop-color="#2fc5a2"/><stop offset="0.8537" stop-color="#32c69e"/><stop offset="0.8559" stop-color="#31c69f"/><stop offset="0.8581" stop-color="#2ec4a4"/><stop offset="0.8603" stop-color="#29c3aa"/><stop offset="0.8625" stop-color="#21c1b0"/><stop offset="0.8647" stop-color="#11beb9"/><stop offset="0.8670" stop-color="#01b8ca"/><stop offset="0.8692" stop-color="#1babde"/><stop offset="0.8714" stop-color="#2698ea"/><stop offset="0.8736" stop-color="#2d88f6"/><stop offset="0.8758" stop-color="#337afd"/><stop offset="0.8780" stop-color="#3c71ff"/><stop offset="0.8803" stop-color="#3d71ff"/><stop offset="0.8825" stop-color="#3579fd"/><stop offset="0.8847" stop-color="#2e83f9"/><stop offset="0.8869" stop-color="#2d8bf4"/><stop offset="0.8891" stop-color="#2a93ee"/><stop offset="0.8914" stop-color="#269ae9"/><stop offset="0.8936" stop-color="#23a0e5"/><stop offset="0.8958" stop-color="#1ea7e1"/><stop offset="0.8980" stop-color="#18addb"/><stop offset="0.9002" stop-color="#0ab4d2"/><stop offset="0.9024" stop-color="#01b9c6"/><stop offset="0.9047" stop-color="#14beb8"/><stop offset="0.9069" stop-color="#2cc4a6"/><stop offset="0.9091" stop-color="#3dc990"/><stop offset="0.9113" stop-color="#59cc78"/><stop offset="0.9135" stop-color="#76cc60"/><stop offset="0.9157" stop-color="#94ca4a"/><stop offset="0.9180" stop-color="#b4c533"/><stop offset="0.9202" stop-color="#d4bf27"/><stop offset="0.9224" stop-color="#e8bb2f"/><stop offset="0.9246" stop-color="#f2ba38"/><stop offset="0.9268" stop-color="#f9ba3d"/><stop offset="0.9290" stop-color="#fcbd3d"/><stop offset="0.9313" stop-color="#fec03b"/><stop offset="0.9335" stop-color="#fec239"/><stop offset="0.9357" stop-color="#fec239"/><stop offset="0.9379" stop-color="#fec03b"/><stop offset="0.9401" stop-color="#febd3c"/><stop offset="0.9424" stop-color="#fbbc3d"/><stop offset="0.9446" stop-color="#f6ba3b"/><stop offset="0.9468" stop-color="#e2bc2b"/><stop offset="0.9490" stop-color="#aec637"/><stop offset="0.9512" stop-color="#5ccc76"/><stop offset="0.9534" stop-color="#2bc3a8"/><stop offset="0.9557" stop-color="#01b9c8"/><stop offset="0.9579" stop-color="#1aacdd"/><stop offset="0.9601" stop-color="#249ee6"/><stop offset="0.9623" stop-color="#2995ec"/><stop offset="0.9645" stop-color="#2c8ff0"/><stop offset="0.9667" stop-color="#2d8cf3"/><stop offset="0.9690" stop-color="#2d8af5"/><stop offset="0.9712" stop-color="#2e87f7"/><stop offset="0.9734" stop-color="#2e85f8"/><stop offset="0.9756" stop-color="#2e84f9"/><stop offset="0.9778" stop-color="#2e85f8"/><stop offset="0.9800" stop-color="#2d88f6"/><stop offset="0.9823" stop-color="#2d8cf3"/><stop offset="0.9845" stop-color="#2b90f0"/><stop offset="0.9867" stop-color="#2896eb"/><stop offset="0.9889" stop-color="#259ce7"/><stop offset="0.9911" stop-color="#22a1e4"/><stop offset="0.9933" stop-color="#21a3e3"/><stop offset="0.9956" stop-color="#21a3e3"/><stop offset="0.9978" stop-color="#22a2e4"/><stop offset="1.0000" stop-color="#22a2e4"/></linearGradient>
<linearGradient id="mg1" x1="0" y1="0" x2="0" y2="1"><stop offset="0" stop-color="#fff"/><stop offset="1" stop-color="#000"/></linearGradient>
<mask id="mk1" maskUnits="userSpaceOnUse" x="40.5" y="9.8" width="451" height="134.4"><rect x="40.5" y="9.8" width="451" height="134.4" fill="url(#mg1)"/></mask>
<linearGradient id="gt2" gradientUnits="userSpaceOnUse" x1="40.5" y1="0" x2="491.5" y2="0"><stop offset="0.0000" stop-color="#4dcc82"/><stop offset="0.0022" stop-color="#59cc78"/><stop offset="0.0044" stop-color="#6ccd69"/><stop offset="0.0067" stop-color="#84cc56"/><stop offset="0.0089" stop-color="#9bc944"/><stop offset="0.0111" stop-color="#b1c635"/><stop offset="0.0133" stop-color="#c5c22a"/><stop offset="0.0155" stop-color="#d6be28"/><stop offset="0.0177" stop-color="#e5bb2d"/><stop offset="0.0200" stop-color="#f0ba36"/><stop offset="0.0222" stop-color="#f9ba3d"/><stop offset="0.0244" stop-color="#fdbd3d"/><stop offset="0.0266" stop-color="#fec03a"/><stop offset="0.0288" stop-color="#fec239"/><stop offset="0.0310" stop-color="#fec437"/><stop offset="0.0333" stop-color="#fec636"/><stop offset="0.0355" stop-color="#fec736"/><stop offset="0.0377" stop-color="#fec636"/><stop offset="0.0399" stop-color="#fec537"/><stop offset="0.0421" stop-color="#fec338"/><stop offset="0.0443" stop-color="#fec03b"/><stop offset="0.0466" stop-color="#f9ba3d"/><stop offset="0.0488" stop-color="#d8be28"/><stop offset="0.0510" stop-color="#8bcb51"/><stop offset="0.0532" stop-color="#36c799"/><stop offset="0.0554" stop-color="#02b7cb"/><stop offset="0.0576" stop-color="#2798ea"/><stop offset="0.0599" stop-color="#416bfe"/><stop offset="0.0621" stop-color="#4743e7"/><stop offset="0.0643" stop-color="#422ebf"/><stop offset="0.0665" stop-color="#3f28af"/><stop offset="0.0687" stop-color="#402ab4"/><stop offset="0.0710" stop-color="#422fc0"/><stop offset="0.0732" stop-color="#4433cc"/><stop offset="0.0754" stop-color="#4537d5"/><stop offset="0.0776" stop-color="#463adb"/><stop offset="0.0798" stop-color="#463de0"/><stop offset="0.0820" stop-color="#4741e5"/><stop offset="0.0843" stop-color="#4744e8"/><stop offset="0.0865" stop-color="#4848ec"/><stop offset="0.0887" stop-color="#484bef"/><stop offset="0.0909" stop-color="#484ff2"/><stop offset="0.0931" stop-color="#4853f5"/><stop offset="0.0953" stop-color="#4757f7"/><stop offset="0.0976" stop-color="#475cfa"/><stop offset="0.0998" stop-color="#4661fc"/><stop offset="0.1020" stop-color="#4466fd"/><stop offset="0.1042" stop-color="#416bfe"/><stop offset="0.1064" stop-color="#3e6fff"/><stop offset="0.1086" stop-color="#3a74fe"/><stop offset="0.1109" stop-color="#3678fe"/><stop offset="0.1131" stop-color="#327cfc"/><stop offset="0.1153" stop-color="#307ffb"/><stop offset="0.1175" stop-color="#2e83f9"/><stop offset="0.1197" stop-color="#2e86f7"/><stop offset="0.1220" stop-color="#2d8af5"/><stop offset="0.1242" stop-color="#2d8df2"/><stop offset="0.1264" stop-color="#2b90f0"/><stop offset="0.1286" stop-color="#2a93ed"/><stop offset="0.1308" stop-color="#2797eb"/><stop offset="0.1330" stop-color="#269ae9"/><stop offset="0.1353" stop-color="#259ce7"/><stop offset="0.1375" stop-color="#249fe6"/><stop offset="0.1397" stop-color="#23a1e4"/><stop offset="0.1419" stop-color="#21a3e3"/><stop offset="0.1441" stop-color="#1fa5e2"/><stop offset="0.1463" stop-color="#1ea7e1"/><stop offset="0.1486" stop-color="#1caadf"/><stop offset="0.1508" stop-color="#19acdc"/><stop offset="0.1530" stop-color="#16afd9"/><stop offset="0.1552" stop-color="#11b1d6"/><stop offset="0.1574" stop-color="#0bb4d2"/><stop offset="0.1596" stop-color="#07b5d0"/><stop offset="0.1619" stop-color="#07b5cf"/><stop offset="0.1641" stop-color="#07b5d0"/><stop offset="0.1663" stop-color="#09b4d1"/><stop offset="0.1685" stop-color="#0ab4d2"/><stop offset="0.1707" stop-color="#0cb3d2"/><stop offset="0.1729" stop-color="#0db3d3"/><stop offset="0.1752" stop-color="#0fb2d4"/><stop offset="0.1774" stop-color="#11b1d6"/><stop offset="0.1796" stop-color="#13b0d8"/><stop offset="0.1818" stop-color="#17aeda"/><stop offset="0.1840" stop-color="#1aacdd"/><stop offset="0.1863" stop-color="#1da9e0"/><stop offset="0.1885" stop-color="#1fa6e1"/><stop offset="0.1907" stop-color="#20a4e3"/><stop offset="0.1929" stop-color="#22a2e4"/><stop offset="0.1951" stop-color="#23a0e5"/><stop offset="0.1973" stop-color="#249ee6"/><stop offset="0.1996" stop-color="#259ce7"/><stop offset="0.2018" stop-color="#269be8"/><stop offset="0.2040" stop-color="#2699e9"/><stop offset="0.2062" stop-color="#2699e9"/><stop offset="0.2084" stop-color="#2699e9"/><stop offset="0.2106" stop-color="#2699e9"/><stop offset="0.2129" stop-color="#269ae9"/><stop offset="0.2151" stop-color="#269ae8"/><stop offset="0.2173" stop-color="#269ae8"/><stop offset="0.2195" stop-color="#259be8"/><stop offset="0.2217" stop-color="#259be8"/><stop offset="0.2239" stop-color="#259be7"/><stop offset="0.2262" stop-color="#259ce7"/><stop offset="0.2284" stop-color="#259ce7"/><stop offset="0.2306" stop-color="#259ce7"/><stop offset="0.2328" stop-color="#259de7"/><stop offset="0.2350" stop-color="#249de7"/><stop offset="0.2373" stop-color="#249de6"/><stop offset="0.2395" stop-color="#249ee6"/><stop offset="0.2417" stop-color="#249ee6"/><stop offset="0.2439" stop-color="#249ee6"/><stop offset="0.2461" stop-color="#249fe5"/><stop offset="0.2483" stop-color="#23a0e5"/><stop offset="0.2506" stop-color="#22a1e4"/><stop offset="0.2528" stop-color="#22a2e4"/><stop offset="0.2550" stop-color="#21a3e3"/><stop offset="0.2572" stop-color="#20a4e3"/><stop offset="0.2594" stop-color="#1fa5e2"/><stop offset="0.2616" stop-color="#1ea6e1"/><stop offset="0.2639" stop-color="#1ea8e1"/><stop offset="0.2661" stop-color="#1da9e0"/><stop offset="0.2683" stop-color="#1caadf"/><stop offset="0.2705" stop-color="#1aacdd"/><stop offset="0.2727" stop-color="#17aeda"/><stop offset="0.2749" stop-color="#12b1d7"/><stop offset="0.2772" stop-color="#0cb3d3"/><stop offset="0.2794" stop-color="#06b5cf"/><stop offset="0.2816" stop-color="#01b8ca"/><stop offset="0.2838" stop-color="#02bac4"/><stop offset="0.2860" stop-color="#0cbdbc"/><stop offset="0.2882" stop-color="#1dc0b3"/><stop offset="0.2905" stop-color="#2ac3a9"/><stop offset="0.2927" stop-color="#33c69e"/><stop offset="0.2949" stop-color="#3cc991"/><stop offset="0.2971" stop-color="#4bcb84"/><stop offset="0.2993" stop-color="#5dcc75"/><stop offset="0.3016" stop-color="#71cd64"/><stop offset="0.3038" stop-color="#8acb52"/><stop offset="0.3060" stop-color="#a4c83e"/><stop offset="0.3082" stop-color="#bdc42f"/><stop offset="0.3104" stop-color="#d3bf27"/><stop offset="0.3126" stop-color="#e5bb2c"/><stop offset="0.3149" stop-color="#f1ba37"/><stop offset="0.3171" stop-color="#f9bb3d"/><stop offset="0.3193" stop-color="#fdbd3d"/><stop offset="0.3215" stop-color="#febf3b"/><stop offset="0.3237" stop-color="#fec239"/><stop offset="0.3259" stop-color="#fec339"/><stop offset="0.3282" stop-color="#fec239"/><stop offset="0.3304" stop-color="#febf3b"/><stop offset="0.3326" stop-color="#f8ba3d"/><stop offset="0.3348" stop-color="#c9c129"/><stop offset="0.3370" stop-color="#50cc80"/><stop offset="0.3392" stop-color="#05b6ce"/><stop offset="0.3415" stop-color="#2896eb"/><stop offset="0.3437" stop-color="#2f80fa"/><stop offset="0.3459" stop-color="#3974fe"/><stop offset="0.3481" stop-color="#3f6efe"/><stop offset="0.3503" stop-color="#4269fe"/><stop offset="0.3525" stop-color="#4367fd"/><stop offset="0.3548" stop-color="#4466fd"/><stop offset="0.3570" stop-color="#4367fd"/><stop offset="0.3592" stop-color="#426afe"/><stop offset="0.3614" stop-color="#3f6efe"/><stop offset="0.3636" stop-color="#3c71ff"/><stop offset="0.3659" stop-color="#3975fe"/><stop offset="0.3681" stop-color="#347afd"/><stop offset="0.3703" stop-color="#307ffb"/><stop offset="0.3725" stop-color="#2e83f9"/><stop offset="0.3747" stop-color="#2d88f6"/><stop offset="0.3769" stop-color="#2d8df2"/><stop offset="0.3792" stop-color="#2b90ef"/><stop offset="0.3814" stop-color="#2994ed"/><stop offset="0.3836" stop-color="#2796eb"/><stop offset="0.3858" stop-color="#2699e9"/><stop offset="0.3880" stop-color="#259ce7"/><stop offset="0.3902" stop-color="#249fe6"/><stop offset="0.3925" stop-color="#22a1e4"/><stop offset="0.3947" stop-color="#20a4e3"/><stop offset="0.3969" stop-color="#1fa6e1"/><stop offset="0.3991" stop-color="#1da9e0"/><stop offset="0.4013" stop-color="#1baade"/><stop offset="0.4035" stop-color="#1aacdd"/><stop offset="0.4058" stop-color="#19addc"/><stop offset="0.4080" stop-color="#18aedb"/><stop offset="0.4102" stop-color="#16afd9"/><stop offset="0.4124" stop-color="#14b0d8"/><stop offset="0.4146" stop-color="#13b1d7"/><stop offset="0.4169" stop-color="#11b1d6"/><stop offset="0.4191" stop-color="#0eb2d4"/><stop offset="0.4213" stop-color="#0cb3d3"/><stop offset="0.4235" stop-color="#09b4d1"/><stop offset="0.4257" stop-color="#07b5d0"/><stop offset="0.4279" stop-color="#05b6ce"/><stop offset="0.4302" stop-color="#03b7cc"/><stop offset="0.4324" stop-color="#01b8c9"/><stop offset="0.4346" stop-color="#01b9c7"/><stop offset="0.4368" stop-color="#02bac4"/><stop offset="0.4390" stop-color="#04bbc2"/><stop offset="0.4412" stop-color="#07bcbf"/><stop offset="0.4435" stop-color="#0bbdbd"/><stop offset="0.4457" stop-color="#10beba"/><stop offset="0.4479" stop-color="#17bfb6"/><stop offset="0.4501" stop-color="#1ec0b2"/><stop offset="0.4523" stop-color="#24c1ae"/><stop offset="0.4545" stop-color="#29c3aa"/><stop offset="0.4568" stop-color="#2dc4a6"/><stop offset="0.4590" stop-color="#30c5a1"/><stop offset="0.4612" stop-color="#33c79c"/><stop offset="0.4634" stop-color="#37c898"/><stop offset="0.4656" stop-color="#3bc992"/><stop offset="0.4678" stop-color="#40ca8d"/><stop offset="0.4701" stop-color="#47cb87"/><stop offset="0.4723" stop-color="#4ecc81"/><stop offset="0.4745" stop-color="#56cc7b"/><stop offset="0.4767" stop-color="#60cd72"/><stop offset="0.4789" stop-color="#6ccd68"/><stop offset="0.4812" stop-color="#7acc5e"/><stop offset="0.4834" stop-color="#88cb53"/><stop offset="0.4856" stop-color="#97ca48"/><stop offset="0.4878" stop-color="#a5c83d"/><stop offset="0.4900" stop-color="#b2c535"/><stop offset="0.4922" stop-color="#bdc32e"/><stop offset="0.4945" stop-color="#c5c22a"/><stop offset="0.4967" stop-color="#ccc028"/><stop offset="0.4989" stop-color="#cfc028"/><stop offset="0.5011" stop-color="#cfc028"/><stop offset="0.5033" stop-color="#cbc129"/><stop offset="0.5055" stop-color="#bdc32e"/><stop offset="0.5078" stop-color="#98ca47"/><stop offset="0.5100" stop-color="#52cc7e"/><stop offset="0.5122" stop-color="#1ec0b2"/><stop offset="0.5144" stop-color="#0db3d4"/><stop offset="0.5166" stop-color="#20a4e3"/><stop offset="0.5188" stop-color="#2797eb"/><stop offset="0.5211" stop-color="#2d8af4"/><stop offset="0.5233" stop-color="#307ffb"/><stop offset="0.5255" stop-color="#3875fe"/><stop offset="0.5277" stop-color="#3d70ff"/><stop offset="0.5299" stop-color="#3d70ff"/><stop offset="0.5322" stop-color="#3974fe"/><stop offset="0.5344" stop-color="#337afd"/><stop offset="0.5366" stop-color="#2f81fa"/><stop offset="0.5388" stop-color="#2d8af4"/><stop offset="0.5410" stop-color="#2994ed"/><stop offset="0.5432" stop-color="#249ee6"/><stop offset="0.5455" stop-color="#1ea8e1"/><stop offset="0.5477" stop-color="#15afd9"/><stop offset="0.5499" stop-color="#07b5d0"/><stop offset="0.5521" stop-color="#01b9c7"/><stop offset="0.5543" stop-color="#0abdbd"/><stop offset="0.5565" stop-color="#1bc0b4"/><stop offset="0.5588" stop-color="#27c2ac"/><stop offset="0.5610" stop-color="#2ec4a4"/><stop offset="0.5632" stop-color="#33c69d"/><stop offset="0.5654" stop-color="#38c896"/><stop offset="0.5676" stop-color="#3cc991"/><stop offset="0.5698" stop-color="#40ca8d"/><stop offset="0.5721" stop-color="#43ca8b"/><stop offset="0.5743" stop-color="#43ca8a"/><stop offset="0.5765" stop-color="#3fca8e"/><stop offset="0.5787" stop-color="#39c895"/><stop offset="0.5809" stop-color="#32c69e"/><stop offset="0.5831" stop-color="#29c3aa"/><stop offset="0.5854" stop-color="#12beb9"/><stop offset="0.5876" stop-color="#02b7cb"/><stop offset="0.5898" stop-color="#18addb"/><stop offset="0.5920" stop-color="#23a0e5"/><stop offset="0.5942" stop-color="#2b90ef"/><stop offset="0.5965" stop-color="#307ffb"/><stop offset="0.5987" stop-color="#406dfe"/><stop offset="0.6009" stop-color="#475cfa"/><stop offset="0.6031" stop-color="#4850f3"/><stop offset="0.6053" stop-color="#4747eb"/><stop offset="0.6075" stop-color="#4740e3"/><stop offset="0.6098" stop-color="#463cdf"/><stop offset="0.6120" stop-color="#463de0"/><stop offset="0.6142" stop-color="#473fe3"/><stop offset="0.6164" stop-color="#4743e7"/><stop offset="0.6186" stop-color="#4849ed"/><stop offset="0.6208" stop-color="#484ff2"/><stop offset="0.6231" stop-color="#4756f7"/><stop offset="0.6253" stop-color="#465dfa"/><stop offset="0.6275" stop-color="#4563fc"/><stop offset="0.6297" stop-color="#4368fd"/><stop offset="0.6319" stop-color="#406cfe"/><stop offset="0.6341" stop-color="#3c71ff"/><stop offset="0.6364" stop-color="#3777fe"/><stop offset="0.6386" stop-color="#327cfc"/><stop offset="0.6408" stop-color="#2f81fa"/><stop offset="0.6430" stop-color="#2e86f7"/><stop offset="0.6452" stop-color="#2d8cf3"/><stop offset="0.6475" stop-color="#2b92ef"/><stop offset="0.6497" stop-color="#2797eb"/><stop offset="0.6519" stop-color="#259ce7"/><stop offset="0.6541" stop-color="#22a2e4"/><stop offset="0.6563" stop-color="#1ea7e1"/><stop offset="0.6585" stop-color="#17aeda"/><stop offset="0.6608" stop-color="#05b6cd"/><stop offset="0.6630" stop-color="#0abdbd"/><stop offset="0.6652" stop-color="#28c3ab"/><stop offset="0.6674" stop-color="#38c896"/><stop offset="0.6696" stop-color="#52cc7e"/><stop offset="0.6718" stop-color="#71cd64"/><stop offset="0.6741" stop-color="#8fca4d"/><stop offset="0.6763" stop-color="#a7c73c"/><stop offset="0.6785" stop-color="#b7c532"/><stop offset="0.6807" stop-color="#c0c32d"/><stop offset="0.6829" stop-color="#c6c22a"/><stop offset="0.6851" stop-color="#c8c129"/><stop offset="0.6874" stop-color="#c6c22a"/><stop offset="0.6896" stop-color="#bec32e"/><stop offset="0.6918" stop-color="#a8c73b"/><stop offset="0.6940" stop-color="#78cc5f"/><stop offset="0.6962" stop-color="#3bc993"/><stop offset="0.6984" stop-color="#08bcbe"/><stop offset="0.7007" stop-color="#1ea7e1"/><stop offset="0.7029" stop-color="#2d89f5"/><stop offset="0.7051" stop-color="#406dfe"/><stop offset="0.7073" stop-color="#4758f8"/><stop offset="0.7095" stop-color="#484aee"/><stop offset="0.7118" stop-color="#4746ea"/><stop offset="0.7140" stop-color="#484bef"/><stop offset="0.7162" stop-color="#4854f5"/><stop offset="0.7184" stop-color="#475cfa"/><stop offset="0.7206" stop-color="#4466fd"/><stop offset="0.7228" stop-color="#3e6fff"/><stop offset="0.7251" stop-color="#3479fd"/><stop offset="0.7273" stop-color="#2e83f9"/><stop offset="0.7295" stop-color="#2d8bf3"/><stop offset="0.7317" stop-color="#2a93ee"/><stop offset="0.7339" stop-color="#2699ea"/><stop offset="0.7361" stop-color="#249de6"/><stop offset="0.7384" stop-color="#22a1e4"/><stop offset="0.7406" stop-color="#1fa5e2"/><stop offset="0.7428" stop-color="#1ca9df"/><stop offset="0.7450" stop-color="#19addc"/><stop offset="0.7472" stop-color="#15afd8"/><stop offset="0.7494" stop-color="#11b1d6"/><stop offset="0.7517" stop-color="#0cb3d3"/><stop offset="0.7539" stop-color="#08b4d0"/><stop offset="0.7561" stop-color="#05b6ce"/><stop offset="0.7583" stop-color="#02b7cb"/><stop offset="0.7605" stop-color="#01b8c8"/><stop offset="0.7627" stop-color="#01bac5"/><stop offset="0.7650" stop-color="#03bbc2"/><stop offset="0.7672" stop-color="#07bcc0"/><stop offset="0.7694" stop-color="#0bbdbd"/><stop offset="0.7716" stop-color="#12beb9"/><stop offset="0.7738" stop-color="#19bfb5"/><stop offset="0.7761" stop-color="#1fc1b1"/><stop offset="0.7783" stop-color="#25c2ad"/><stop offset="0.7805" stop-color="#2ac3a9"/><stop offset="0.7827" stop-color="#2ec4a4"/><stop offset="0.7849" stop-color="#31c69f"/><stop offset="0.7871" stop-color="#35c79a"/><stop offset="0.7894" stop-color="#3ac993"/><stop offset="0.7916" stop-color="#41ca8c"/><stop offset="0.7938" stop-color="#4acb84"/><stop offset="0.7960" stop-color="#54cc7c"/><stop offset="0.7982" stop-color="#60cd73"/><stop offset="0.8004" stop-color="#6dcd67"/><stop offset="0.8027" stop-color="#7dcc5c"/><stop offset="0.8049" stop-color="#8dcb4f"/><stop offset="0.8071" stop-color="#9ec942"/><stop offset="0.8093" stop-color="#b1c635"/><stop offset="0.8115" stop-color="#c3c22b"/><stop offset="0.8137" stop-color="#d4bf28"/><stop offset="0.8160" stop-color="#e2bc2b"/><stop offset="0.8182" stop-color="#edba34"/><stop offset="0.8204" stop-color="#f6ba3b"/><stop offset="0.8226" stop-color="#fabb3d"/><stop offset="0.8248" stop-color="#febe3c"/><stop offset="0.8271" stop-color="#fec03a"/><stop offset="0.8293" stop-color="#fec239"/><stop offset="0.8315" stop-color="#fec339"/><stop offset="0.8337" stop-color="#fec239"/><stop offset="0.8359" stop-color="#fec03b"/><stop offset="0.8381" stop-color="#fcbd3d"/><stop offset="0.8404" stop-color="#eabb30"/><stop offset="0.8426" stop-color="#a2c840"/><stop offset="0.8448" stop-color="#30c5a2"/><stop offset="0.8470" stop-color="#1ea8e1"/><stop offset="0.8492" stop-color="#307ffb"/><stop offset="0.8514" stop-color="#465efb"/><stop offset="0.8537" stop-color="#484bef"/><stop offset="0.8559" stop-color="#473fe3"/><stop offset="0.8581" stop-color="#4639d9"/><stop offset="0.8603" stop-color="#4537d5"/><stop offset="0.8625" stop-color="#4538d8"/><stop offset="0.8647" stop-color="#463de0"/><stop offset="0.8670" stop-color="#4744e8"/><stop offset="0.8692" stop-color="#484cef"/><stop offset="0.8714" stop-color="#4755f6"/><stop offset="0.8736" stop-color="#465dfb"/><stop offset="0.8758" stop-color="#4465fd"/><stop offset="0.8780" stop-color="#416bfe"/><stop offset="0.8803" stop-color="#3c72ff"/><stop offset="0.8825" stop-color="#3578fd"/><stop offset="0.8847" stop-color="#307ffb"/><stop offset="0.8869" stop-color="#2e85f8"/><stop offset="0.8891" stop-color="#2d8bf4"/><stop offset="0.8914" stop-color="#2b91ef"/><stop offset="0.8936" stop-color="#2797eb"/><stop offset="0.8958" stop-color="#259de7"/><stop offset="0.8980" stop-color="#21a3e4"/><stop offset="0.9002" stop-color="#1da8e0"/><stop offset="0.9024" stop-color="#19acdc"/><stop offset="0.9047" stop-color="#13b0d7"/><stop offset="0.9069" stop-color="#0ab4d2"/><stop offset="0.9091" stop-color="#03b7cc"/><stop offset="0.9113" stop-color="#01bac5"/><stop offset="0.9135" stop-color="#08bcbf"/><stop offset="0.9157" stop-color="#13beb8"/><stop offset="0.9180" stop-color="#1fc0b2"/><stop offset="0.9202" stop-color="#27c2ab"/><stop offset="0.9224" stop-color="#2ec4a5"/><stop offset="0.9246" stop-color="#33c69d"/><stop offset="0.9268" stop-color="#38c896"/><stop offset="0.9290" stop-color="#3fca8e"/><stop offset="0.9313" stop-color="#49cb85"/><stop offset="0.9335" stop-color="#55cc7c"/><stop offset="0.9357" stop-color="#61cd72"/><stop offset="0.9379" stop-color="#6ecd66"/><stop offset="0.9401" stop-color="#7ecc5b"/><stop offset="0.9424" stop-color="#8ecb4f"/><stop offset="0.9446" stop-color="#9bc944"/><stop offset="0.9468" stop-color="#a5c83d"/><stop offset="0.9490" stop-color="#adc638"/><stop offset="0.9512" stop-color="#b3c534"/><stop offset="0.9534" stop-color="#b4c533"/><stop offset="0.9557" stop-color="#b2c635"/><stop offset="0.9579" stop-color="#adc638"/><stop offset="0.9601" stop-color="#9fc942"/><stop offset="0.9623" stop-color="#7bcc5d"/><stop offset="0.9645" stop-color="#45cb89"/><stop offset="0.9667" stop-color="#19bfb5"/><stop offset="0.9690" stop-color="#1caadf"/><stop offset="0.9712" stop-color="#2e87f7"/><stop offset="0.9734" stop-color="#4465fd"/><stop offset="0.9756" stop-color="#4850f3"/><stop offset="0.9778" stop-color="#4744e8"/><stop offset="0.9800" stop-color="#473fe2"/><stop offset="0.9823" stop-color="#4741e4"/><stop offset="0.9845" stop-color="#4746eb"/><stop offset="0.9867" stop-color="#484df0"/><stop offset="0.9889" stop-color="#4853f5"/><stop offset="0.9911" stop-color="#4759f8"/><stop offset="0.9933" stop-color="#465efb"/><stop offset="0.9956" stop-color="#4561fc"/><stop offset="0.9978" stop-color="#4564fd"/><stop offset="1.0000" stop-color="#4465fd"/></linearGradient>
<linearGradient id="gb2" gradientUnits="userSpaceOnUse" x1="40.5" y1="0" x2="491.5" y2="0"><stop offset="0.0000" stop-color="#9cc944"/><stop offset="0.0022" stop-color="#9ec942"/><stop offset="0.0044" stop-color="#a8c73b"/><stop offset="0.0067" stop-color="#b9c430"/><stop offset="0.0089" stop-color="#ccc028"/><stop offset="0.0111" stop-color="#dcbd29"/><stop offset="0.0133" stop-color="#eabb30"/><stop offset="0.0155" stop-color="#f4ba39"/><stop offset="0.0177" stop-color="#fabc3d"/><stop offset="0.0200" stop-color="#febe3c"/><stop offset="0.0222" stop-color="#fec13a"/><stop offset="0.0244" stop-color="#fec338"/><stop offset="0.0266" stop-color="#fec537"/><stop offset="0.0288" stop-color="#fec636"/><stop offset="0.0310" stop-color="#fec736"/><stop offset="0.0333" stop-color="#fec636"/><stop offset="0.0355" stop-color="#fec437"/><stop offset="0.0377" stop-color="#fec239"/><stop offset="0.0399" stop-color="#febe3c"/><stop offset="0.0421" stop-color="#f2ba37"/><stop offset="0.0443" stop-color="#c4c22b"/><stop offset="0.0466" stop-color="#6acd6a"/><stop offset="0.0488" stop-color="#28c2ab"/><stop offset="0.0510" stop-color="#15afd9"/><stop offset="0.0532" stop-color="#2d8bf4"/><stop offset="0.0554" stop-color="#465dfa"/><stop offset="0.0576" stop-color="#463adb"/><stop offset="0.0599" stop-color="#402bb7"/><stop offset="0.0621" stop-color="#3f28af"/><stop offset="0.0643" stop-color="#402bb7"/><stop offset="0.0665" stop-color="#4230c4"/><stop offset="0.0687" stop-color="#4434cf"/><stop offset="0.0710" stop-color="#4538d7"/><stop offset="0.0732" stop-color="#463bdc"/><stop offset="0.0754" stop-color="#473ee1"/><stop offset="0.0776" stop-color="#4742e6"/><stop offset="0.0798" stop-color="#4745e9"/><stop offset="0.0820" stop-color="#4849ed"/><stop offset="0.0843" stop-color="#484cf0"/><stop offset="0.0865" stop-color="#4850f3"/><stop offset="0.0887" stop-color="#4854f5"/><stop offset="0.0909" stop-color="#4758f8"/><stop offset="0.0931" stop-color="#465dfa"/><stop offset="0.0953" stop-color="#4562fc"/><stop offset="0.0976" stop-color="#4367fd"/><stop offset="0.0998" stop-color="#406cfe"/><stop offset="0.1020" stop-color="#3d70ff"/><stop offset="0.1042" stop-color="#3975fe"/><stop offset="0.1064" stop-color="#3579fd"/><stop offset="0.1086" stop-color="#327cfc"/><stop offset="0.1109" stop-color="#3080fa"/><stop offset="0.1131" stop-color="#2e84f9"/><stop offset="0.1153" stop-color="#2e87f7"/><stop offset="0.1175" stop-color="#2d8af4"/><stop offset="0.1197" stop-color="#2c8ef2"/><stop offset="0.1220" stop-color="#2b91ef"/><stop offset="0.1242" stop-color="#2994ed"/><stop offset="0.1264" stop-color="#2797ea"/><stop offset="0.1286" stop-color="#269ae8"/><stop offset="0.1308" stop-color="#259de7"/><stop offset="0.1330" stop-color="#249fe5"/><stop offset="0.1353" stop-color="#22a1e4"/><stop offset="0.1375" stop-color="#21a4e3"/><stop offset="0.1397" stop-color="#1fa6e2"/><stop offset="0.1419" stop-color="#1da8e0"/><stop offset="0.1441" stop-color="#1baade"/><stop offset="0.1463" stop-color="#19addc"/><stop offset="0.1486" stop-color="#15afd9"/><stop offset="0.1508" stop-color="#10b2d5"/><stop offset="0.1530" stop-color="#0ab4d1"/><stop offset="0.1552" stop-color="#07b5d0"/><stop offset="0.1574" stop-color="#07b5cf"/><stop offset="0.1596" stop-color="#08b5d0"/><stop offset="0.1619" stop-color="#09b4d1"/><stop offset="0.1641" stop-color="#0ab4d2"/><stop offset="0.1663" stop-color="#0cb3d3"/><stop offset="0.1685" stop-color="#0db3d3"/><stop offset="0.1707" stop-color="#0fb2d4"/><stop offset="0.1729" stop-color="#11b1d6"/><stop offset="0.1752" stop-color="#14b0d8"/><stop offset="0.1774" stop-color="#18aedb"/><stop offset="0.1796" stop-color="#1aabdd"/><stop offset="0.1818" stop-color="#1da9e0"/><stop offset="0.1840" stop-color="#1fa6e2"/><stop offset="0.1863" stop-color="#21a4e3"/><stop offset="0.1885" stop-color="#22a2e4"/><stop offset="0.1907" stop-color="#23a0e5"/><stop offset="0.1929" stop-color="#249ee6"/><stop offset="0.1951" stop-color="#259ce7"/><stop offset="0.1973" stop-color="#269ae8"/><stop offset="0.1996" stop-color="#2699e9"/><stop offset="0.2018" stop-color="#2699e9"/><stop offset="0.2040" stop-color="#2699e9"/><stop offset="0.2062" stop-color="#269ae9"/><stop offset="0.2084" stop-color="#269ae9"/><stop offset="0.2106" stop-color="#269ae8"/><stop offset="0.2129" stop-color="#269be8"/><stop offset="0.2151" stop-color="#259be8"/><stop offset="0.2173" stop-color="#259be8"/><stop offset="0.2195" stop-color="#259be7"/><stop offset="0.2217" stop-color="#259ce7"/><stop offset="0.2239" stop-color="#259ce7"/><stop offset="0.2262" stop-color="#259ce7"/><stop offset="0.2284" stop-color="#259de7"/><stop offset="0.2306" stop-color="#249de6"/><stop offset="0.2328" stop-color="#249de6"/><stop offset="0.2350" stop-color="#249ee6"/><stop offset="0.2373" stop-color="#249ee6"/><stop offset="0.2395" stop-color="#249fe6"/><stop offset="0.2417" stop-color="#249fe5"/><stop offset="0.2439" stop-color="#23a0e5"/><stop offset="0.2461" stop-color="#22a1e4"/><stop offset="0.2483" stop-color="#22a2e4"/><stop offset="0.2506" stop-color="#21a3e3"/><stop offset="0.2528" stop-color="#20a4e3"/><stop offset="0.2550" stop-color="#1fa5e2"/><stop offset="0.2572" stop-color="#1ea7e1"/><stop offset="0.2594" stop-color="#1ea8e1"/><stop offset="0.2616" stop-color="#1da9e0"/><stop offset="0.2639" stop-color="#1caadf"/><stop offset="0.2661" stop-color="#1aacdd"/><stop offset="0.2683" stop-color="#17aeda"/><stop offset="0.2705" stop-color="#12b1d7"/><stop offset="0.2727" stop-color="#0cb3d3"/><stop offset="0.2749" stop-color="#06b5cf"/><stop offset="0.2772" stop-color="#01b8ca"/><stop offset="0.2794" stop-color="#02bac4"/><stop offset="0.2816" stop-color="#0cbdbc"/><stop offset="0.2838" stop-color="#1dc0b3"/><stop offset="0.2860" stop-color="#2ac3a9"/><stop offset="0.2882" stop-color="#33c69e"/><stop offset="0.2905" stop-color="#3cc991"/><stop offset="0.2927" stop-color="#4acb84"/><stop offset="0.2949" stop-color="#5dcc75"/><stop offset="0.2971" stop-color="#71cd64"/><stop offset="0.2993" stop-color="#89cb52"/><stop offset="0.3016" stop-color="#a3c83f"/><stop offset="0.3038" stop-color="#bcc42f"/><stop offset="0.3060" stop-color="#d2bf27"/><stop offset="0.3082" stop-color="#e4bb2c"/><stop offset="0.3104" stop-color="#f1ba37"/><stop offset="0.3126" stop-color="#f9ba3d"/><stop offset="0.3149" stop-color="#fcbd3d"/><stop offset="0.3171" stop-color="#febf3b"/><stop offset="0.3193" stop-color="#fec239"/><stop offset="0.3215" stop-color="#fec339"/><stop offset="0.3237" stop-color="#fec239"/><stop offset="0.3259" stop-color="#fec03b"/><stop offset="0.3282" stop-color="#f9bb3d"/><stop offset="0.3304" stop-color="#cfc028"/><stop offset="0.3326" stop-color="#59cc78"/><stop offset="0.3348" stop-color="#01b8c9"/><stop offset="0.3370" stop-color="#2698ea"/><stop offset="0.3392" stop-color="#2f82fa"/><stop offset="0.3415" stop-color="#3875fe"/><stop offset="0.3437" stop-color="#3f6eff"/><stop offset="0.3459" stop-color="#426afe"/><stop offset="0.3481" stop-color="#4367fd"/><stop offset="0.3503" stop-color="#4466fd"/><stop offset="0.3525" stop-color="#4367fd"/><stop offset="0.3548" stop-color="#426afe"/><stop offset="0.3570" stop-color="#406dfe"/><stop offset="0.3592" stop-color="#3d71ff"/><stop offset="0.3614" stop-color="#3975fe"/><stop offset="0.3636" stop-color="#3579fd"/><stop offset="0.3659" stop-color="#317efb"/><stop offset="0.3681" stop-color="#2e83f9"/><stop offset="0.3703" stop-color="#2d88f6"/><stop offset="0.3725" stop-color="#2d8cf3"/><stop offset="0.3747" stop-color="#2c90f0"/><stop offset="0.3769" stop-color="#2a93ed"/><stop offset="0.3792" stop-color="#2896eb"/><stop offset="0.3814" stop-color="#2699e9"/><stop offset="0.3836" stop-color="#259ce7"/><stop offset="0.3858" stop-color="#249ee6"/><stop offset="0.3880" stop-color="#23a1e4"/><stop offset="0.3902" stop-color="#21a3e3"/><stop offset="0.3925" stop-color="#1fa6e2"/><stop offset="0.3947" stop-color="#1da8e0"/><stop offset="0.3969" stop-color="#1baade"/><stop offset="0.3991" stop-color="#1aabdd"/><stop offset="0.4013" stop-color="#19addc"/><stop offset="0.4035" stop-color="#18aedb"/><stop offset="0.4058" stop-color="#16aeda"/><stop offset="0.4080" stop-color="#15afd8"/><stop offset="0.4102" stop-color="#13b0d7"/><stop offset="0.4124" stop-color="#11b1d6"/><stop offset="0.4146" stop-color="#0fb2d4"/><stop offset="0.4169" stop-color="#0cb3d3"/><stop offset="0.4191" stop-color="#0ab4d1"/><stop offset="0.4213" stop-color="#07b5d0"/><stop offset="0.4235" stop-color="#06b6ce"/><stop offset="0.4257" stop-color="#03b7cc"/><stop offset="0.4279" stop-color="#01b8ca"/><stop offset="0.4302" stop-color="#01b9c7"/><stop offset="0.4324" stop-color="#02bac5"/><stop offset="0.4346" stop-color="#03bbc2"/><stop offset="0.4368" stop-color="#06bcc0"/><stop offset="0.4390" stop-color="#0abdbd"/><stop offset="0.4412" stop-color="#0fbeba"/><stop offset="0.4435" stop-color="#16bfb7"/><stop offset="0.4457" stop-color="#1cc0b3"/><stop offset="0.4479" stop-color="#23c1af"/><stop offset="0.4501" stop-color="#28c2ab"/><stop offset="0.4523" stop-color="#2cc4a7"/><stop offset="0.4545" stop-color="#2fc5a2"/><stop offset="0.4568" stop-color="#33c69e"/><stop offset="0.4590" stop-color="#36c899"/><stop offset="0.4612" stop-color="#3ac994"/><stop offset="0.4634" stop-color="#3fca8e"/><stop offset="0.4656" stop-color="#45cb89"/><stop offset="0.4678" stop-color="#4ccb83"/><stop offset="0.4701" stop-color="#54cc7d"/><stop offset="0.4723" stop-color="#5dcc75"/><stop offset="0.4745" stop-color="#69cd6b"/><stop offset="0.4767" stop-color="#76cc60"/><stop offset="0.4789" stop-color="#84cb56"/><stop offset="0.4812" stop-color="#93ca4b"/><stop offset="0.4834" stop-color="#a1c840"/><stop offset="0.4856" stop-color="#afc637"/><stop offset="0.4878" stop-color="#bac430"/><stop offset="0.4900" stop-color="#c3c22b"/><stop offset="0.4922" stop-color="#cac129"/><stop offset="0.4945" stop-color="#cfc028"/><stop offset="0.4967" stop-color="#d0c028"/><stop offset="0.4989" stop-color="#cdc028"/><stop offset="0.5011" stop-color="#c3c22b"/><stop offset="0.5033" stop-color="#a7c73c"/><stop offset="0.5055" stop-color="#68cd6c"/><stop offset="0.5078" stop-color="#2ec4a4"/><stop offset="0.5100" stop-color="#02b7cb"/><stop offset="0.5122" stop-color="#1da9e0"/><stop offset="0.5144" stop-color="#259be8"/><stop offset="0.5166" stop-color="#2c8ef1"/><stop offset="0.5188" stop-color="#2f82f9"/><stop offset="0.5211" stop-color="#3678fd"/><stop offset="0.5233" stop-color="#3c71ff"/><stop offset="0.5255" stop-color="#3e70ff"/><stop offset="0.5277" stop-color="#3b73fe"/><stop offset="0.5299" stop-color="#3578fd"/><stop offset="0.5322" stop-color="#307ffb"/><stop offset="0.5344" stop-color="#2e87f7"/><stop offset="0.5366" stop-color="#2b91ef"/><stop offset="0.5388" stop-color="#259be8"/><stop offset="0.5410" stop-color="#20a4e3"/><stop offset="0.5432" stop-color="#19addc"/><stop offset="0.5455" stop-color="#0cb3d3"/><stop offset="0.5477" stop-color="#01b8ca"/><stop offset="0.5499" stop-color="#05bbc1"/><stop offset="0.5521" stop-color="#15bfb7"/><stop offset="0.5543" stop-color="#23c1af"/><stop offset="0.5565" stop-color="#2cc4a7"/><stop offset="0.5588" stop-color="#31c6a0"/><stop offset="0.5610" stop-color="#36c899"/><stop offset="0.5632" stop-color="#3bc993"/><stop offset="0.5654" stop-color="#3eca8f"/><stop offset="0.5676" stop-color="#42ca8c"/><stop offset="0.5698" stop-color="#43ca8a"/><stop offset="0.5721" stop-color="#41ca8c"/><stop offset="0.5743" stop-color="#3cc992"/><stop offset="0.5765" stop-color="#35c79a"/><stop offset="0.5787" stop-color="#2ec4a5"/><stop offset="0.5809" stop-color="#1ec0b2"/><stop offset="0.5831" stop-color="#02bbc3"/><stop offset="0.5854" stop-color="#0fb2d4"/><stop offset="0.5876" stop-color="#1fa6e2"/><stop offset="0.5898" stop-color="#2797eb"/><stop offset="0.5920" stop-color="#2e87f7"/><stop offset="0.5942" stop-color="#3975fe"/><stop offset="0.5965" stop-color="#4563fc"/><stop offset="0.5987" stop-color="#4755f6"/><stop offset="0.6009" stop-color="#484bee"/><stop offset="0.6031" stop-color="#4742e7"/><stop offset="0.6053" stop-color="#463de0"/><stop offset="0.6075" stop-color="#463cdf"/><stop offset="0.6098" stop-color="#463ee1"/><stop offset="0.6120" stop-color="#4741e5"/><stop offset="0.6142" stop-color="#4746ea"/><stop offset="0.6164" stop-color="#484cf0"/><stop offset="0.6186" stop-color="#4853f5"/><stop offset="0.6208" stop-color="#475af9"/><stop offset="0.6231" stop-color="#4660fb"/><stop offset="0.6253" stop-color="#4465fd"/><stop offset="0.6275" stop-color="#426afe"/><stop offset="0.6297" stop-color="#3e6fff"/><stop offset="0.6319" stop-color="#3a74fe"/><stop offset="0.6341" stop-color="#3579fd"/><stop offset="0.6364" stop-color="#317efb"/><stop offset="0.6386" stop-color="#2e83f9"/><stop offset="0.6408" stop-color="#2d89f5"/><stop offset="0.6430" stop-color="#2c8ff1"/><stop offset="0.6452" stop-color="#2994ed"/><stop offset="0.6475" stop-color="#269ae9"/><stop offset="0.6497" stop-color="#249fe6"/><stop offset="0.6519" stop-color="#20a4e3"/><stop offset="0.6541" stop-color="#1babde"/><stop offset="0.6563" stop-color="#0fb2d5"/><stop offset="0.6585" stop-color="#01b9c6"/><stop offset="0.6608" stop-color="#1ac0b4"/><stop offset="0.6630" stop-color="#30c5a1"/><stop offset="0.6652" stop-color="#42ca8b"/><stop offset="0.6674" stop-color="#60cd72"/><stop offset="0.6696" stop-color="#80cc59"/><stop offset="0.6718" stop-color="#9bc945"/><stop offset="0.6741" stop-color="#afc637"/><stop offset="0.6763" stop-color="#bcc42f"/><stop offset="0.6785" stop-color="#c4c22b"/><stop offset="0.6807" stop-color="#c8c129"/><stop offset="0.6829" stop-color="#c8c129"/><stop offset="0.6851" stop-color="#c4c22b"/><stop offset="0.6874" stop-color="#b7c532"/><stop offset="0.6896" stop-color="#97ca48"/><stop offset="0.6918" stop-color="#5ccc76"/><stop offset="0.6940" stop-color="#2cc4a6"/><stop offset="0.6962" stop-color="#07b5cf"/><stop offset="0.6984" stop-color="#269be8"/><stop offset="0.7007" stop-color="#317dfc"/><stop offset="0.7029" stop-color="#4563fd"/><stop offset="0.7051" stop-color="#4851f3"/><stop offset="0.7073" stop-color="#4747eb"/><stop offset="0.7095" stop-color="#4747eb"/><stop offset="0.7118" stop-color="#484ef1"/><stop offset="0.7140" stop-color="#4757f7"/><stop offset="0.7162" stop-color="#4660fc"/><stop offset="0.7184" stop-color="#4269fe"/><stop offset="0.7206" stop-color="#3a73fe"/><stop offset="0.7228" stop-color="#317dfc"/><stop offset="0.7251" stop-color="#2e86f7"/><stop offset="0.7273" stop-color="#2c8ef1"/><stop offset="0.7295" stop-color="#2895ec"/><stop offset="0.7317" stop-color="#269ae8"/><stop offset="0.7339" stop-color="#249fe6"/><stop offset="0.7361" stop-color="#21a3e3"/><stop offset="0.7384" stop-color="#1ea7e1"/><stop offset="0.7406" stop-color="#1babde"/><stop offset="0.7428" stop-color="#17aedb"/><stop offset="0.7450" stop-color="#13b0d7"/><stop offset="0.7472" stop-color="#0fb2d5"/><stop offset="0.7494" stop-color="#0bb3d2"/><stop offset="0.7517" stop-color="#07b5d0"/><stop offset="0.7539" stop-color="#04b6cd"/><stop offset="0.7561" stop-color="#01b8ca"/><stop offset="0.7583" stop-color="#01b9c7"/><stop offset="0.7605" stop-color="#02bac4"/><stop offset="0.7627" stop-color="#04bbc2"/><stop offset="0.7650" stop-color="#08bcbf"/><stop offset="0.7672" stop-color="#0dbdbb"/><stop offset="0.7694" stop-color="#14beb8"/><stop offset="0.7716" stop-color="#1bc0b4"/><stop offset="0.7738" stop-color="#21c1b0"/><stop offset="0.7761" stop-color="#27c2ac"/><stop offset="0.7783" stop-color="#2bc3a7"/><stop offset="0.7805" stop-color="#2fc5a3"/><stop offset="0.7827" stop-color="#32c69e"/><stop offset="0.7849" stop-color="#37c898"/><stop offset="0.7871" stop-color="#3cc991"/><stop offset="0.7894" stop-color="#44cb8a"/><stop offset="0.7916" stop-color="#4dcc82"/><stop offset="0.7938" stop-color="#57cc7a"/><stop offset="0.7960" stop-color="#63cd70"/><stop offset="0.7982" stop-color="#71cd64"/><stop offset="0.8004" stop-color="#81cc58"/><stop offset="0.8027" stop-color="#92ca4c"/><stop offset="0.8049" stop-color="#a3c83e"/><stop offset="0.8071" stop-color="#b6c532"/><stop offset="0.8093" stop-color="#c8c129"/><stop offset="0.8115" stop-color="#d8be28"/><stop offset="0.8137" stop-color="#e5bb2d"/><stop offset="0.8160" stop-color="#f0ba36"/><stop offset="0.8182" stop-color="#f7ba3c"/><stop offset="0.8204" stop-color="#fbbc3d"/><stop offset="0.8226" stop-color="#febe3c"/><stop offset="0.8248" stop-color="#fec13a"/><stop offset="0.8271" stop-color="#fec339"/><stop offset="0.8293" stop-color="#fec239"/><stop offset="0.8315" stop-color="#fec13a"/><stop offset="0.8337" stop-color="#febf3b"/><stop offset="0.8359" stop-color="#fbbc3d"/><stop offset="0.8381" stop-color="#e0bc2a"/><stop offset="0.8404" stop-color="#86cb55"/><stop offset="0.8426" stop-color="#1dc0b3"/><stop offset="0.8448" stop-color="#249fe6"/><stop offset="0.8470" stop-color="#3777fe"/><stop offset="0.8492" stop-color="#475af9"/><stop offset="0.8514" stop-color="#4848ec"/><stop offset="0.8537" stop-color="#463ee1"/><stop offset="0.8559" stop-color="#4538d8"/><stop offset="0.8581" stop-color="#4537d5"/><stop offset="0.8603" stop-color="#4639d9"/><stop offset="0.8625" stop-color="#463ee1"/><stop offset="0.8647" stop-color="#4745e9"/><stop offset="0.8670" stop-color="#484ef1"/><stop offset="0.8692" stop-color="#4757f7"/><stop offset="0.8714" stop-color="#465ffb"/><stop offset="0.8736" stop-color="#4466fd"/><stop offset="0.8758" stop-color="#406cfe"/><stop offset="0.8780" stop-color="#3b73fe"/><stop offset="0.8803" stop-color="#3479fd"/><stop offset="0.8825" stop-color="#3080fb"/><stop offset="0.8847" stop-color="#2e86f8"/><stop offset="0.8869" stop-color="#2d8cf3"/><stop offset="0.8891" stop-color="#2b92ee"/><stop offset="0.8914" stop-color="#2798ea"/><stop offset="0.8936" stop-color="#249ee6"/><stop offset="0.8958" stop-color="#21a3e3"/><stop offset="0.8980" stop-color="#1da9e0"/><stop offset="0.9002" stop-color="#19addc"/><stop offset="0.9024" stop-color="#12b1d7"/><stop offset="0.9047" stop-color="#09b4d1"/><stop offset="0.9069" stop-color="#02b7cb"/><stop offset="0.9091" stop-color="#02bac5"/><stop offset="0.9113" stop-color="#09bcbe"/><stop offset="0.9135" stop-color="#15bfb8"/><stop offset="0.9157" stop-color="#20c1b1"/><stop offset="0.9180" stop-color="#28c3ab"/><stop offset="0.9202" stop-color="#2ec5a4"/><stop offset="0.9224" stop-color="#33c79d"/><stop offset="0.9246" stop-color="#39c895"/><stop offset="0.9268" stop-color="#40ca8d"/><stop offset="0.9290" stop-color="#4acb84"/><stop offset="0.9313" stop-color="#56cc7b"/><stop offset="0.9335" stop-color="#62cd71"/><stop offset="0.9357" stop-color="#70cd65"/><stop offset="0.9379" stop-color="#80cc5a"/><stop offset="0.9401" stop-color="#8fcb4e"/><stop offset="0.9424" stop-color="#9cc944"/><stop offset="0.9446" stop-color="#a6c83d"/><stop offset="0.9468" stop-color="#aec637"/><stop offset="0.9490" stop-color="#b3c534"/><stop offset="0.9512" stop-color="#b4c533"/><stop offset="0.9534" stop-color="#b2c635"/><stop offset="0.9557" stop-color="#acc738"/><stop offset="0.9579" stop-color="#9ec942"/><stop offset="0.9601" stop-color="#79cc5f"/><stop offset="0.9623" stop-color="#42ca8b"/><stop offset="0.9645" stop-color="#15bfb7"/><stop offset="0.9667" stop-color="#1da8e0"/><stop offset="0.9690" stop-color="#2e85f8"/><stop offset="0.9712" stop-color="#4464fd"/><stop offset="0.9734" stop-color="#4850f2"/><stop offset="0.9756" stop-color="#4743e7"/><stop offset="0.9778" stop-color="#473fe2"/><stop offset="0.9800" stop-color="#4741e5"/><stop offset="0.9823" stop-color="#4747eb"/><stop offset="0.9845" stop-color="#484df1"/><stop offset="0.9867" stop-color="#4854f5"/><stop offset="0.9889" stop-color="#4759f8"/><stop offset="0.9911" stop-color="#465efb"/><stop offset="0.9933" stop-color="#4561fc"/><stop offset="0.9956" stop-color="#4564fd"/><stop offset="0.9978" stop-color="#4367fd"/><stop offset="1.0000" stop-color="#416bfe"/></linearGradient>
<linearGradient id="mg2" x1="0" y1="0" x2="0" y2="1"><stop offset="0" stop-color="#fff"/><stop offset="1" stop-color="#000"/></linearGradient>
<mask id="mk2" maskUnits="userSpaceOnUse" x="40.5" y="179.3" width="451" height="134.9"><rect x="40.5" y="179.3" width="451" height="134.9" fill="url(#mg2)"/></mask>
<linearGradient id="gt3" gradientUnits="userSpaceOnUse" x1="40.5" y1="0" x2="491.5" y2="0"><stop offset="0.0000" stop-color="#2d89f5"/><stop offset="0.0022" stop-color="#2e85f8"/><stop offset="0.0044" stop-color="#2f81fa"/><stop offset="0.0067" stop-color="#2f81fa"/><stop offset="0.0089" stop-color="#2e86f7"/><stop offset="0.0111" stop-color="#2c8ef1"/><stop offset="0.0133" stop-color="#2896eb"/><stop offset="0.0155" stop-color="#249ee6"/><stop offset="0.0177" stop-color="#20a5e2"/><stop offset="0.0200" stop-color="#1caadf"/><stop offset="0.0222" stop-color="#1baade"/><stop offset="0.0244" stop-color="#1ea7e1"/><stop offset="0.0266" stop-color="#22a1e4"/><stop offset="0.0288" stop-color="#259ce7"/><stop offset="0.0310" stop-color="#2895ec"/><stop offset="0.0333" stop-color="#2c8ef1"/><stop offset="0.0355" stop-color="#2e87f7"/><stop offset="0.0377" stop-color="#2f81fa"/><stop offset="0.0399" stop-color="#317efb"/><stop offset="0.0421" stop-color="#2f81fa"/><stop offset="0.0443" stop-color="#2d89f5"/><stop offset="0.0466" stop-color="#2b92ee"/><stop offset="0.0488" stop-color="#259be8"/><stop offset="0.0510" stop-color="#20a4e3"/><stop offset="0.0532" stop-color="#18addb"/><stop offset="0.0554" stop-color="#06b5cf"/><stop offset="0.0576" stop-color="#05bbc1"/><stop offset="0.0599" stop-color="#1dc0b3"/><stop offset="0.0621" stop-color="#2ec4a5"/><stop offset="0.0643" stop-color="#38c896"/><stop offset="0.0665" stop-color="#45cb89"/><stop offset="0.0687" stop-color="#48cb86"/><stop offset="0.0710" stop-color="#40ca8d"/><stop offset="0.0732" stop-color="#36c799"/><stop offset="0.0754" stop-color="#2ac3a9"/><stop offset="0.0776" stop-color="#0abdbd"/><stop offset="0.0798" stop-color="#0db3d3"/><stop offset="0.0820" stop-color="#1fa5e2"/><stop offset="0.0843" stop-color="#2798ea"/><stop offset="0.0865" stop-color="#2d8cf3"/><stop offset="0.0887" stop-color="#2f83f9"/><stop offset="0.0909" stop-color="#2f81fa"/><stop offset="0.0931" stop-color="#2d8bf4"/><stop offset="0.0953" stop-color="#259de7"/><stop offset="0.0976" stop-color="#16afd9"/><stop offset="0.0998" stop-color="#07bcc0"/><stop offset="0.1020" stop-color="#30c5a1"/><stop offset="0.1042" stop-color="#58cc79"/><stop offset="0.1064" stop-color="#94ca4a"/><stop offset="0.1086" stop-color="#c5c22a"/><stop offset="0.1109" stop-color="#e4bb2c"/><stop offset="0.1131" stop-color="#f4ba3a"/><stop offset="0.1153" stop-color="#fbbc3d"/><stop offset="0.1175" stop-color="#febe3c"/><stop offset="0.1197" stop-color="#febf3b"/><stop offset="0.1220" stop-color="#febe3c"/><stop offset="0.1242" stop-color="#fcbd3d"/><stop offset="0.1264" stop-color="#f8ba3d"/><stop offset="0.1286" stop-color="#eabb30"/><stop offset="0.1308" stop-color="#cfc028"/><stop offset="0.1330" stop-color="#a5c83d"/><stop offset="0.1353" stop-color="#73cd63"/><stop offset="0.1375" stop-color="#47cb87"/><stop offset="0.1397" stop-color="#30c5a2"/><stop offset="0.1419" stop-color="#14bfb8"/><stop offset="0.1441" stop-color="#03b7cc"/><stop offset="0.1463" stop-color="#1aabdd"/><stop offset="0.1486" stop-color="#249ee6"/><stop offset="0.1508" stop-color="#2a93ee"/><stop offset="0.1530" stop-color="#2d89f5"/><stop offset="0.1552" stop-color="#2f80fa"/><stop offset="0.1574" stop-color="#3678fd"/><stop offset="0.1596" stop-color="#3b73fe"/><stop offset="0.1619" stop-color="#3b72ff"/><stop offset="0.1641" stop-color="#3974fe"/><stop offset="0.1663" stop-color="#3777fe"/><stop offset="0.1685" stop-color="#337afd"/><stop offset="0.1707" stop-color="#307ffb"/><stop offset="0.1729" stop-color="#2e87f7"/><stop offset="0.1752" stop-color="#2a93ee"/><stop offset="0.1774" stop-color="#249fe6"/><stop offset="0.1796" stop-color="#1caadf"/><stop offset="0.1818" stop-color="#0ab4d2"/><stop offset="0.1840" stop-color="#03bbc2"/><stop offset="0.1863" stop-color="#1ec0b2"/><stop offset="0.1885" stop-color="#2fc5a2"/><stop offset="0.1907" stop-color="#3cc991"/><stop offset="0.1929" stop-color="#51cc7f"/><stop offset="0.1951" stop-color="#67cd6c"/><stop offset="0.1973" stop-color="#77cc60"/><stop offset="0.1996" stop-color="#77cc60"/><stop offset="0.2018" stop-color="#66cd6d"/><stop offset="0.2040" stop-color="#4fcc81"/><stop offset="0.2062" stop-color="#37c897"/><stop offset="0.2084" stop-color="#24c1ae"/><stop offset="0.2106" stop-color="#02bac3"/><stop offset="0.2129" stop-color="#11b1d6"/><stop offset="0.2151" stop-color="#1fa6e2"/><stop offset="0.2173" stop-color="#269ae8"/><stop offset="0.2195" stop-color="#2c90f0"/><stop offset="0.2217" stop-color="#2e85f8"/><stop offset="0.2239" stop-color="#317dfc"/><stop offset="0.2262" stop-color="#327bfc"/><stop offset="0.2284" stop-color="#2f81fa"/><stop offset="0.2306" stop-color="#2d89f5"/><stop offset="0.2328" stop-color="#2b91ef"/><stop offset="0.2350" stop-color="#2699e9"/><stop offset="0.2373" stop-color="#22a2e4"/><stop offset="0.2395" stop-color="#1babde"/><stop offset="0.2417" stop-color="#0ab4d1"/><stop offset="0.2439" stop-color="#06bcc0"/><stop offset="0.2461" stop-color="#29c3aa"/><stop offset="0.2483" stop-color="#43ca8b"/><stop offset="0.2506" stop-color="#76cc60"/><stop offset="0.2528" stop-color="#abc739"/><stop offset="0.2550" stop-color="#ccc028"/><stop offset="0.2572" stop-color="#dbbd28"/><stop offset="0.2594" stop-color="#e2bc2b"/><stop offset="0.2616" stop-color="#e5bb2d"/><stop offset="0.2639" stop-color="#e3bc2c"/><stop offset="0.2661" stop-color="#ddbd29"/><stop offset="0.2683" stop-color="#d4bf28"/><stop offset="0.2705" stop-color="#c0c32d"/><stop offset="0.2727" stop-color="#97ca47"/><stop offset="0.2749" stop-color="#5fcd73"/><stop offset="0.2772" stop-color="#33c69d"/><stop offset="0.2794" stop-color="#08bcbf"/><stop offset="0.2816" stop-color="#18addb"/><stop offset="0.2838" stop-color="#2699e9"/><stop offset="0.2860" stop-color="#2e83f9"/><stop offset="0.2882" stop-color="#406cfe"/><stop offset="0.2905" stop-color="#4759f9"/><stop offset="0.2927" stop-color="#484df1"/><stop offset="0.2949" stop-color="#484bef"/><stop offset="0.2971" stop-color="#4850f2"/><stop offset="0.2993" stop-color="#4756f7"/><stop offset="0.3016" stop-color="#465dfa"/><stop offset="0.3038" stop-color="#4465fd"/><stop offset="0.3060" stop-color="#3f6dfe"/><stop offset="0.3082" stop-color="#3677fe"/><stop offset="0.3104" stop-color="#2f81fa"/><stop offset="0.3126" stop-color="#2d8bf3"/><stop offset="0.3149" stop-color="#2896eb"/><stop offset="0.3171" stop-color="#23a0e5"/><stop offset="0.3193" stop-color="#1caadf"/><stop offset="0.3215" stop-color="#0eb2d4"/><stop offset="0.3237" stop-color="#01b9c6"/><stop offset="0.3259" stop-color="#15bfb7"/><stop offset="0.3282" stop-color="#2cc4a7"/><stop offset="0.3304" stop-color="#3ac993"/><stop offset="0.3326" stop-color="#4fcc80"/><stop offset="0.3348" stop-color="#59cc78"/><stop offset="0.3370" stop-color="#4ecc81"/><stop offset="0.3392" stop-color="#3bc992"/><stop offset="0.3415" stop-color="#2ec4a4"/><stop offset="0.3437" stop-color="#17bfb7"/><stop offset="0.3459" stop-color="#01b8c8"/><stop offset="0.3481" stop-color="#14b0d8"/><stop offset="0.3503" stop-color="#1fa6e2"/><stop offset="0.3525" stop-color="#259be8"/><stop offset="0.3548" stop-color="#2b91ef"/><stop offset="0.3570" stop-color="#2e86f8"/><stop offset="0.3592" stop-color="#347afd"/><stop offset="0.3614" stop-color="#3f6eff"/><stop offset="0.3636" stop-color="#4466fd"/><stop offset="0.3659" stop-color="#4465fd"/><stop offset="0.3681" stop-color="#416cfe"/><stop offset="0.3703" stop-color="#3876fe"/><stop offset="0.3725" stop-color="#2f81fa"/><stop offset="0.3747" stop-color="#2d8cf3"/><stop offset="0.3769" stop-color="#2699e9"/><stop offset="0.3792" stop-color="#20a5e2"/><stop offset="0.3814" stop-color="#12b1d6"/><stop offset="0.3836" stop-color="#03bbc3"/><stop offset="0.3858" stop-color="#27c2ab"/><stop offset="0.3880" stop-color="#42ca8c"/><stop offset="0.3902" stop-color="#7bcc5d"/><stop offset="0.3925" stop-color="#b8c431"/><stop offset="0.3947" stop-color="#debc2a"/><stop offset="0.3969" stop-color="#f1ba37"/><stop offset="0.3991" stop-color="#fabb3d"/><stop offset="0.4013" stop-color="#fdbd3d"/><stop offset="0.4035" stop-color="#fdbd3d"/><stop offset="0.4058" stop-color="#fdbd3d"/><stop offset="0.4080" stop-color="#fcbd3d"/><stop offset="0.4102" stop-color="#f7ba3c"/><stop offset="0.4124" stop-color="#e5bb2d"/><stop offset="0.4146" stop-color="#c2c32c"/><stop offset="0.4169" stop-color="#88cb53"/><stop offset="0.4191" stop-color="#49cb85"/><stop offset="0.4213" stop-color="#2cc4a7"/><stop offset="0.4235" stop-color="#0dbdbb"/><stop offset="0.4257" stop-color="#03b7cc"/><stop offset="0.4279" stop-color="#14b0d8"/><stop offset="0.4302" stop-color="#1aacdd"/><stop offset="0.4324" stop-color="#18aedb"/><stop offset="0.4346" stop-color="#0cb3d3"/><stop offset="0.4368" stop-color="#01b8c8"/><stop offset="0.4390" stop-color="#0abdbd"/><stop offset="0.4412" stop-color="#1cc0b3"/><stop offset="0.4435" stop-color="#25c2ad"/><stop offset="0.4457" stop-color="#21c1b0"/><stop offset="0.4479" stop-color="#0cbdbc"/><stop offset="0.4501" stop-color="#02b7cb"/><stop offset="0.4523" stop-color="#16afd9"/><stop offset="0.4545" stop-color="#20a4e3"/><stop offset="0.4568" stop-color="#2699ea"/><stop offset="0.4590" stop-color="#2d8cf3"/><stop offset="0.4612" stop-color="#317efb"/><stop offset="0.4634" stop-color="#3f6eff"/><stop offset="0.4656" stop-color="#4660fc"/><stop offset="0.4678" stop-color="#4756f7"/><stop offset="0.4701" stop-color="#4854f5"/><stop offset="0.4723" stop-color="#475af9"/><stop offset="0.4745" stop-color="#4564fd"/><stop offset="0.4767" stop-color="#3e6fff"/><stop offset="0.4789" stop-color="#327cfc"/><stop offset="0.4812" stop-color="#2d8af5"/><stop offset="0.4834" stop-color="#2797ea"/><stop offset="0.4856" stop-color="#20a4e3"/><stop offset="0.4878" stop-color="#13b1d7"/><stop offset="0.4900" stop-color="#02bac4"/><stop offset="0.4922" stop-color="#22c1af"/><stop offset="0.4945" stop-color="#34c79c"/><stop offset="0.4967" stop-color="#46cb88"/><stop offset="0.4989" stop-color="#5bcc76"/><stop offset="0.5011" stop-color="#63cd70"/><stop offset="0.5033" stop-color="#58cc79"/><stop offset="0.5055" stop-color="#41ca8c"/><stop offset="0.5078" stop-color="#30c5a2"/><stop offset="0.5100" stop-color="#13beb8"/><stop offset="0.5122" stop-color="#07b5d0"/><stop offset="0.5144" stop-color="#20a5e2"/><stop offset="0.5166" stop-color="#2b91ef"/><stop offset="0.5188" stop-color="#3578fd"/><stop offset="0.5211" stop-color="#4660fb"/><stop offset="0.5233" stop-color="#484df1"/><stop offset="0.5255" stop-color="#4741e5"/><stop offset="0.5277" stop-color="#463bdd"/><stop offset="0.5299" stop-color="#463cdf"/><stop offset="0.5322" stop-color="#4742e6"/><stop offset="0.5344" stop-color="#484aee"/><stop offset="0.5366" stop-color="#4755f6"/><stop offset="0.5388" stop-color="#4660fc"/><stop offset="0.5410" stop-color="#416bfe"/><stop offset="0.5432" stop-color="#3975fe"/><stop offset="0.5455" stop-color="#317efb"/><stop offset="0.5477" stop-color="#2e87f7"/><stop offset="0.5499" stop-color="#2c8ef2"/><stop offset="0.5521" stop-color="#2b91ef"/><stop offset="0.5543" stop-color="#2c90f0"/><stop offset="0.5565" stop-color="#2d8cf3"/><stop offset="0.5588" stop-color="#2d88f6"/><stop offset="0.5610" stop-color="#2e83f9"/><stop offset="0.5632" stop-color="#317efb"/><stop offset="0.5654" stop-color="#3678fd"/><stop offset="0.5676" stop-color="#3c72ff"/><stop offset="0.5698" stop-color="#3f6eff"/><stop offset="0.5721" stop-color="#3d71ff"/><stop offset="0.5743" stop-color="#337bfd"/><stop offset="0.5765" stop-color="#2e87f7"/><stop offset="0.5787" stop-color="#2a93ed"/><stop offset="0.5809" stop-color="#249ee6"/><stop offset="0.5831" stop-color="#1da8e0"/><stop offset="0.5854" stop-color="#13b0d7"/><stop offset="0.5876" stop-color="#03b7cc"/><stop offset="0.5898" stop-color="#07bcbf"/><stop offset="0.5920" stop-color="#1ec0b2"/><stop offset="0.5942" stop-color="#2ec5a3"/><stop offset="0.5965" stop-color="#39c994"/><stop offset="0.5987" stop-color="#43ca8a"/><stop offset="0.6009" stop-color="#40ca8d"/><stop offset="0.6031" stop-color="#35c79a"/><stop offset="0.6053" stop-color="#27c2ab"/><stop offset="0.6075" stop-color="#08bcbf"/><stop offset="0.6098" stop-color="#0eb2d4"/><stop offset="0.6120" stop-color="#22a2e4"/><stop offset="0.6142" stop-color="#2d8bf4"/><stop offset="0.6164" stop-color="#3e6fff"/><stop offset="0.6186" stop-color="#4854f6"/><stop offset="0.6208" stop-color="#4740e4"/><stop offset="0.6231" stop-color="#4536d3"/><stop offset="0.6253" stop-color="#4434d0"/><stop offset="0.6275" stop-color="#463adb"/><stop offset="0.6297" stop-color="#4747eb"/><stop offset="0.6319" stop-color="#4759f8"/><stop offset="0.6341" stop-color="#406dfe"/><stop offset="0.6364" stop-color="#307ffb"/><stop offset="0.6386" stop-color="#2d8df2"/><stop offset="0.6408" stop-color="#2699e9"/><stop offset="0.6430" stop-color="#21a2e4"/><stop offset="0.6452" stop-color="#1ca9df"/><stop offset="0.6475" stop-color="#19addc"/><stop offset="0.6497" stop-color="#1aacdd"/><stop offset="0.6519" stop-color="#1ea7e1"/><stop offset="0.6541" stop-color="#249ee6"/><stop offset="0.6563" stop-color="#2b92ee"/><stop offset="0.6585" stop-color="#2f82fa"/><stop offset="0.6608" stop-color="#406dfe"/><stop offset="0.6630" stop-color="#4759f8"/><stop offset="0.6652" stop-color="#4848ec"/><stop offset="0.6674" stop-color="#463ddf"/><stop offset="0.6696" stop-color="#4538d8"/><stop offset="0.6718" stop-color="#463adb"/><stop offset="0.6741" stop-color="#4741e5"/><stop offset="0.6763" stop-color="#484ef1"/><stop offset="0.6785" stop-color="#465efb"/><stop offset="0.6807" stop-color="#3e6fff"/><stop offset="0.6829" stop-color="#2f80fa"/><stop offset="0.6851" stop-color="#2c8ef2"/><stop offset="0.6874" stop-color="#269ae9"/><stop offset="0.6896" stop-color="#20a5e3"/><stop offset="0.6918" stop-color="#17aeda"/><stop offset="0.6940" stop-color="#05b6ce"/><stop offset="0.6962" stop-color="#08bcbf"/><stop offset="0.6984" stop-color="#25c2ad"/><stop offset="0.7007" stop-color="#37c897"/><stop offset="0.7029" stop-color="#55cc7c"/><stop offset="0.7051" stop-color="#78cc5f"/><stop offset="0.7073" stop-color="#94ca4a"/><stop offset="0.7095" stop-color="#9ac946"/><stop offset="0.7118" stop-color="#8bcb51"/><stop offset="0.7140" stop-color="#6fcd66"/><stop offset="0.7162" stop-color="#4dcc82"/><stop offset="0.7184" stop-color="#32c69f"/><stop offset="0.7206" stop-color="#17bfb6"/><stop offset="0.7228" stop-color="#01b8c9"/><stop offset="0.7251" stop-color="#14b0d8"/><stop offset="0.7273" stop-color="#1da8e0"/><stop offset="0.7295" stop-color="#21a2e4"/><stop offset="0.7317" stop-color="#23a0e5"/><stop offset="0.7339" stop-color="#22a1e4"/><stop offset="0.7361" stop-color="#1fa5e2"/><stop offset="0.7384" stop-color="#1ca9df"/><stop offset="0.7406" stop-color="#1aacdd"/><stop offset="0.7428" stop-color="#1aabdd"/><stop offset="0.7450" stop-color="#1da9e0"/><stop offset="0.7472" stop-color="#20a5e2"/><stop offset="0.7494" stop-color="#23a0e5"/><stop offset="0.7517" stop-color="#269ae8"/><stop offset="0.7539" stop-color="#2a93ee"/><stop offset="0.7561" stop-color="#2d8bf4"/><stop offset="0.7583" stop-color="#2e83f9"/><stop offset="0.7605" stop-color="#337afd"/><stop offset="0.7627" stop-color="#3b72ff"/><stop offset="0.7650" stop-color="#416bfe"/><stop offset="0.7672" stop-color="#4563fd"/><stop offset="0.7694" stop-color="#465dfb"/><stop offset="0.7716" stop-color="#475cfa"/><stop offset="0.7738" stop-color="#4561fc"/><stop offset="0.7761" stop-color="#406cfe"/><stop offset="0.7783" stop-color="#3479fd"/><stop offset="0.7805" stop-color="#2d89f6"/><stop offset="0.7827" stop-color="#2698ea"/><stop offset="0.7849" stop-color="#1ea7e1"/><stop offset="0.7871" stop-color="#12b1d6"/><stop offset="0.7894" stop-color="#02b7cb"/><stop offset="0.7916" stop-color="#07bcc0"/><stop offset="0.7938" stop-color="#15bfb7"/><stop offset="0.7960" stop-color="#18bfb6"/><stop offset="0.7982" stop-color="#0bbdbd"/><stop offset="0.8004" stop-color="#01b9c8"/><stop offset="0.8027" stop-color="#0fb2d5"/><stop offset="0.8049" stop-color="#1ea7e1"/><stop offset="0.8071" stop-color="#269ae8"/><stop offset="0.8093" stop-color="#2d8df2"/><stop offset="0.8115" stop-color="#2f81fa"/><stop offset="0.8137" stop-color="#3776fe"/><stop offset="0.8160" stop-color="#3a73fe"/><stop offset="0.8182" stop-color="#327cfc"/><stop offset="0.8204" stop-color="#2d8bf4"/><stop offset="0.8226" stop-color="#269ae8"/><stop offset="0.8248" stop-color="#1ea7e1"/><stop offset="0.8271" stop-color="#14b0d8"/><stop offset="0.8293" stop-color="#07b5d0"/><stop offset="0.8315" stop-color="#01b8c9"/><stop offset="0.8337" stop-color="#03bbc2"/><stop offset="0.8359" stop-color="#0cbdbc"/><stop offset="0.8381" stop-color="#12beb9"/><stop offset="0.8404" stop-color="#10beba"/><stop offset="0.8426" stop-color="#0abdbd"/><stop offset="0.8448" stop-color="#05bbc1"/><stop offset="0.8470" stop-color="#02bac4"/><stop offset="0.8492" stop-color="#01b9c7"/><stop offset="0.8514" stop-color="#01b9c8"/><stop offset="0.8537" stop-color="#01b9c7"/><stop offset="0.8559" stop-color="#02bac5"/><stop offset="0.8581" stop-color="#02bbc3"/><stop offset="0.8603" stop-color="#05bbc1"/><stop offset="0.8625" stop-color="#06bcc0"/><stop offset="0.8647" stop-color="#04bbc2"/><stop offset="0.8670" stop-color="#01b9c6"/><stop offset="0.8692" stop-color="#02b7cb"/><stop offset="0.8714" stop-color="#07b5d0"/><stop offset="0.8736" stop-color="#0fb2d5"/><stop offset="0.8758" stop-color="#15afd9"/><stop offset="0.8780" stop-color="#18addb"/><stop offset="0.8803" stop-color="#17aeda"/><stop offset="0.8825" stop-color="#10b2d5"/><stop offset="0.8847" stop-color="#05b6ce"/><stop offset="0.8869" stop-color="#02bac4"/><stop offset="0.8891" stop-color="#15bfb7"/><stop offset="0.8914" stop-color="#2cc4a7"/><stop offset="0.8936" stop-color="#3ac993"/><stop offset="0.8958" stop-color="#52cc7e"/><stop offset="0.8980" stop-color="#6ccd68"/><stop offset="0.9002" stop-color="#87cb54"/><stop offset="0.9024" stop-color="#99c946"/><stop offset="0.9047" stop-color="#9ac945"/><stop offset="0.9069" stop-color="#89cb53"/><stop offset="0.9091" stop-color="#6dcd67"/><stop offset="0.9113" stop-color="#4dcb82"/><stop offset="0.9135" stop-color="#31c6a0"/><stop offset="0.9157" stop-color="#0dbdbc"/><stop offset="0.9180" stop-color="#0cb3d3"/><stop offset="0.9202" stop-color="#1fa6e2"/><stop offset="0.9224" stop-color="#2798ea"/><stop offset="0.9246" stop-color="#2d8af5"/><stop offset="0.9268" stop-color="#2f81fa"/><stop offset="0.9290" stop-color="#2f82fa"/><stop offset="0.9313" stop-color="#2d89f5"/><stop offset="0.9335" stop-color="#2b91ef"/><stop offset="0.9357" stop-color="#2798ea"/><stop offset="0.9379" stop-color="#249ee6"/><stop offset="0.9401" stop-color="#21a3e3"/><stop offset="0.9424" stop-color="#21a3e3"/><stop offset="0.9446" stop-color="#259ce7"/><stop offset="0.9468" stop-color="#2b90f0"/><stop offset="0.9490" stop-color="#2f81fa"/><stop offset="0.9512" stop-color="#3e70ff"/><stop offset="0.9534" stop-color="#465efb"/><stop offset="0.9557" stop-color="#484ef1"/><stop offset="0.9579" stop-color="#4743e7"/><stop offset="0.9601" stop-color="#463cde"/><stop offset="0.9623" stop-color="#4538d7"/><stop offset="0.9645" stop-color="#4536d3"/><stop offset="0.9667" stop-color="#4537d5"/><stop offset="0.9690" stop-color="#463ada"/><stop offset="0.9712" stop-color="#463de0"/><stop offset="0.9734" stop-color="#4742e6"/><stop offset="0.9756" stop-color="#4747eb"/><stop offset="0.9778" stop-color="#484ef1"/><stop offset="0.9800" stop-color="#4755f6"/><stop offset="0.9823" stop-color="#475cfa"/><stop offset="0.9845" stop-color="#4564fd"/><stop offset="0.9867" stop-color="#406cfe"/><stop offset="0.9889" stop-color="#3776fe"/><stop offset="0.9911" stop-color="#2f82f9"/><stop offset="0.9933" stop-color="#2b91ef"/><stop offset="0.9956" stop-color="#1fa6e2"/><stop offset="0.9978" stop-color="#01b9c6"/><stop offset="1.0000" stop-color="#2cc4a7"/></linearGradient>
<linearGradient id="gb3" gradientUnits="userSpaceOnUse" x1="40.5" y1="0" x2="491.5" y2="0"><stop offset="0.0000" stop-color="#2d8af5"/><stop offset="0.0022" stop-color="#2e86f8"/><stop offset="0.0044" stop-color="#2f81fa"/><stop offset="0.0067" stop-color="#2f80fa"/><stop offset="0.0089" stop-color="#2e85f8"/><stop offset="0.0111" stop-color="#2c8ef2"/><stop offset="0.0133" stop-color="#2797eb"/><stop offset="0.0155" stop-color="#249fe5"/><stop offset="0.0177" stop-color="#1fa6e2"/><stop offset="0.0200" stop-color="#1caadf"/><stop offset="0.0222" stop-color="#1ea7e1"/><stop offset="0.0244" stop-color="#22a1e4"/><stop offset="0.0266" stop-color="#269ae9"/><stop offset="0.0288" stop-color="#2a93ee"/><stop offset="0.0310" stop-color="#2d8cf3"/><stop offset="0.0333" stop-color="#2e85f8"/><stop offset="0.0355" stop-color="#307ffb"/><stop offset="0.0377" stop-color="#317efb"/><stop offset="0.0399" stop-color="#2e84f8"/><stop offset="0.0421" stop-color="#2c8ff1"/><stop offset="0.0443" stop-color="#269ae8"/><stop offset="0.0466" stop-color="#1fa6e2"/><stop offset="0.0488" stop-color="#10b2d5"/><stop offset="0.0510" stop-color="#02bbc3"/><stop offset="0.0532" stop-color="#24c1af"/><stop offset="0.0554" stop-color="#37c898"/><stop offset="0.0576" stop-color="#55cc7c"/><stop offset="0.0599" stop-color="#7ccc5c"/><stop offset="0.0621" stop-color="#a2c83f"/><stop offset="0.0643" stop-color="#bfc32d"/><stop offset="0.0665" stop-color="#d0c028"/><stop offset="0.0687" stop-color="#d3bf27"/><stop offset="0.0710" stop-color="#c9c129"/><stop offset="0.0732" stop-color="#acc738"/><stop offset="0.0754" stop-color="#71cd64"/><stop offset="0.0776" stop-color="#33c79c"/><stop offset="0.0798" stop-color="#02bac3"/><stop offset="0.0820" stop-color="#1aacdd"/><stop offset="0.0843" stop-color="#259be8"/><stop offset="0.0865" stop-color="#2d8cf3"/><stop offset="0.0887" stop-color="#2e85f8"/><stop offset="0.0909" stop-color="#2d8cf3"/><stop offset="0.0931" stop-color="#269ae9"/><stop offset="0.0953" stop-color="#1da9e0"/><stop offset="0.0976" stop-color="#05b6cd"/><stop offset="0.0998" stop-color="#1ac0b4"/><stop offset="0.1020" stop-color="#37c897"/><stop offset="0.1042" stop-color="#62cd71"/><stop offset="0.1064" stop-color="#9ac945"/><stop offset="0.1086" stop-color="#cac129"/><stop offset="0.1109" stop-color="#ebba31"/><stop offset="0.1131" stop-color="#fdbd3d"/><stop offset="0.1153" stop-color="#fec735"/><stop offset="0.1175" stop-color="#fdce31"/><stop offset="0.1197" stop-color="#fbd22f"/><stop offset="0.1220" stop-color="#fbd32e"/><stop offset="0.1242" stop-color="#fbd12f"/><stop offset="0.1264" stop-color="#fdcb33"/><stop offset="0.1286" stop-color="#fec03a"/><stop offset="0.1308" stop-color="#efba35"/><stop offset="0.1330" stop-color="#cec028"/><stop offset="0.1353" stop-color="#9dc943"/><stop offset="0.1375" stop-color="#63cd70"/><stop offset="0.1397" stop-color="#37c897"/><stop offset="0.1419" stop-color="#1ac0b5"/><stop offset="0.1441" stop-color="#05b6ce"/><stop offset="0.1463" stop-color="#1da8e0"/><stop offset="0.1486" stop-color="#269ae9"/><stop offset="0.1508" stop-color="#2d8cf3"/><stop offset="0.1530" stop-color="#2f80fa"/><stop offset="0.1552" stop-color="#3578fd"/><stop offset="0.1574" stop-color="#3777fe"/><stop offset="0.1596" stop-color="#3578fd"/><stop offset="0.1619" stop-color="#337bfc"/><stop offset="0.1641" stop-color="#317efb"/><stop offset="0.1663" stop-color="#2f82fa"/><stop offset="0.1685" stop-color="#2d89f5"/><stop offset="0.1707" stop-color="#2b92ee"/><stop offset="0.1729" stop-color="#259ce7"/><stop offset="0.1752" stop-color="#1fa6e2"/><stop offset="0.1774" stop-color="#17aeda"/><stop offset="0.1796" stop-color="#05b6ce"/><stop offset="0.1818" stop-color="#08bcbe"/><stop offset="0.1840" stop-color="#28c3ab"/><stop offset="0.1863" stop-color="#3dca90"/><stop offset="0.1885" stop-color="#66cd6d"/><stop offset="0.1907" stop-color="#93ca4b"/><stop offset="0.1929" stop-color="#b6c532"/><stop offset="0.1951" stop-color="#cac129"/><stop offset="0.1973" stop-color="#d4bf28"/><stop offset="0.1996" stop-color="#d5be28"/><stop offset="0.2018" stop-color="#ccc028"/><stop offset="0.2040" stop-color="#b5c533"/><stop offset="0.2062" stop-color="#87cb54"/><stop offset="0.2084" stop-color="#4bcb84"/><stop offset="0.2106" stop-color="#28c3ab"/><stop offset="0.2129" stop-color="#01b9c8"/><stop offset="0.2151" stop-color="#1aacdd"/><stop offset="0.2173" stop-color="#249ee6"/><stop offset="0.2195" stop-color="#2b91ef"/><stop offset="0.2217" stop-color="#2e86f8"/><stop offset="0.2239" stop-color="#2f80fa"/><stop offset="0.2262" stop-color="#2e84f9"/><stop offset="0.2284" stop-color="#2d8df2"/><stop offset="0.2306" stop-color="#2796eb"/><stop offset="0.2328" stop-color="#23a0e5"/><stop offset="0.2350" stop-color="#1da9e0"/><stop offset="0.2373" stop-color="#13b0d7"/><stop offset="0.2395" stop-color="#03b7cc"/><stop offset="0.2417" stop-color="#09bcbe"/><stop offset="0.2439" stop-color="#25c2ad"/><stop offset="0.2461" stop-color="#37c897"/><stop offset="0.2483" stop-color="#58cc7a"/><stop offset="0.2506" stop-color="#88cb53"/><stop offset="0.2528" stop-color="#b8c431"/><stop offset="0.2550" stop-color="#dabd28"/><stop offset="0.2572" stop-color="#edba33"/><stop offset="0.2594" stop-color="#f8ba3d"/><stop offset="0.2616" stop-color="#fcbc3d"/><stop offset="0.2639" stop-color="#fdbd3d"/><stop offset="0.2661" stop-color="#fdbd3d"/><stop offset="0.2683" stop-color="#fbbc3d"/><stop offset="0.2705" stop-color="#f0ba36"/><stop offset="0.2727" stop-color="#d4bf28"/><stop offset="0.2749" stop-color="#9bc945"/><stop offset="0.2772" stop-color="#4ccb83"/><stop offset="0.2794" stop-color="#1bc0b4"/><stop offset="0.2816" stop-color="#16afd9"/><stop offset="0.2838" stop-color="#2a92ee"/><stop offset="0.2860" stop-color="#3e6fff"/><stop offset="0.2882" stop-color="#4755f6"/><stop offset="0.2905" stop-color="#484df0"/><stop offset="0.2927" stop-color="#4850f3"/><stop offset="0.2949" stop-color="#4756f7"/><stop offset="0.2971" stop-color="#465dfa"/><stop offset="0.2993" stop-color="#4564fd"/><stop offset="0.3016" stop-color="#416bfe"/><stop offset="0.3038" stop-color="#3b72ff"/><stop offset="0.3060" stop-color="#337afd"/><stop offset="0.3082" stop-color="#2f82f9"/><stop offset="0.3104" stop-color="#2d8cf3"/><stop offset="0.3126" stop-color="#2896eb"/><stop offset="0.3149" stop-color="#23a0e5"/><stop offset="0.3171" stop-color="#1caadf"/><stop offset="0.3193" stop-color="#0eb2d4"/><stop offset="0.3215" stop-color="#01b9c6"/><stop offset="0.3237" stop-color="#1bc0b4"/><stop offset="0.3259" stop-color="#35c79a"/><stop offset="0.3282" stop-color="#5fcd73"/><stop offset="0.3304" stop-color="#97ca48"/><stop offset="0.3326" stop-color="#c4c22a"/><stop offset="0.3348" stop-color="#dcbd29"/><stop offset="0.3370" stop-color="#e1bc2b"/><stop offset="0.3392" stop-color="#d8be28"/><stop offset="0.3415" stop-color="#bec32e"/><stop offset="0.3437" stop-color="#85cb55"/><stop offset="0.3459" stop-color="#3dc991"/><stop offset="0.3481" stop-color="#0cbdbc"/><stop offset="0.3503" stop-color="#17aeda"/><stop offset="0.3525" stop-color="#269ae8"/><stop offset="0.3548" stop-color="#2e84f9"/><stop offset="0.3570" stop-color="#406dfe"/><stop offset="0.3592" stop-color="#4660fb"/><stop offset="0.3614" stop-color="#465ffb"/><stop offset="0.3636" stop-color="#4464fd"/><stop offset="0.3659" stop-color="#416bfe"/><stop offset="0.3681" stop-color="#3b73fe"/><stop offset="0.3703" stop-color="#327cfc"/><stop offset="0.3725" stop-color="#2e86f7"/><stop offset="0.3747" stop-color="#2a92ee"/><stop offset="0.3769" stop-color="#249ee6"/><stop offset="0.3792" stop-color="#1ca9df"/><stop offset="0.3814" stop-color="#0fb2d4"/><stop offset="0.3836" stop-color="#01b9c6"/><stop offset="0.3858" stop-color="#1bc0b4"/><stop offset="0.3880" stop-color="#35c79a"/><stop offset="0.3902" stop-color="#5ecc74"/><stop offset="0.3925" stop-color="#94ca4a"/><stop offset="0.3947" stop-color="#c3c22b"/><stop offset="0.3969" stop-color="#e1bc2b"/><stop offset="0.3991" stop-color="#f2ba37"/><stop offset="0.4013" stop-color="#fabb3d"/><stop offset="0.4035" stop-color="#fdbd3d"/><stop offset="0.4058" stop-color="#fdbd3d"/><stop offset="0.4080" stop-color="#fdbd3d"/><stop offset="0.4102" stop-color="#fabb3d"/><stop offset="0.4124" stop-color="#edba33"/><stop offset="0.4146" stop-color="#ccc028"/><stop offset="0.4169" stop-color="#91ca4c"/><stop offset="0.4191" stop-color="#4bcb83"/><stop offset="0.4213" stop-color="#29c3aa"/><stop offset="0.4235" stop-color="#03bbc3"/><stop offset="0.4257" stop-color="#0bb3d2"/><stop offset="0.4279" stop-color="#12b1d7"/><stop offset="0.4302" stop-color="#0bb4d2"/><stop offset="0.4324" stop-color="#01b8c9"/><stop offset="0.4346" stop-color="#09bcbe"/><stop offset="0.4368" stop-color="#1ec0b2"/><stop offset="0.4390" stop-color="#2dc4a6"/><stop offset="0.4412" stop-color="#37c898"/><stop offset="0.4435" stop-color="#41ca8c"/><stop offset="0.4457" stop-color="#40ca8d"/><stop offset="0.4479" stop-color="#34c79c"/><stop offset="0.4501" stop-color="#22c1af"/><stop offset="0.4523" stop-color="#03bbc3"/><stop offset="0.4545" stop-color="#10b2d5"/><stop offset="0.4568" stop-color="#1fa5e2"/><stop offset="0.4590" stop-color="#2796eb"/><stop offset="0.4612" stop-color="#2e85f8"/><stop offset="0.4634" stop-color="#3b72fe"/><stop offset="0.4656" stop-color="#4563fd"/><stop offset="0.4678" stop-color="#465dfa"/><stop offset="0.4701" stop-color="#4660fc"/><stop offset="0.4723" stop-color="#4367fd"/><stop offset="0.4745" stop-color="#3f6eff"/><stop offset="0.4767" stop-color="#3678fe"/><stop offset="0.4789" stop-color="#2e83f9"/><stop offset="0.4812" stop-color="#2c8ff0"/><stop offset="0.4834" stop-color="#259ce7"/><stop offset="0.4856" stop-color="#1da9e0"/><stop offset="0.4878" stop-color="#08b4d0"/><stop offset="0.4900" stop-color="#11beba"/><stop offset="0.4922" stop-color="#34c79b"/><stop offset="0.4945" stop-color="#63cd70"/><stop offset="0.4967" stop-color="#9fc942"/><stop offset="0.4989" stop-color="#c8c129"/><stop offset="0.5011" stop-color="#dbbd29"/><stop offset="0.5033" stop-color="#dbbd29"/><stop offset="0.5055" stop-color="#c7c129"/><stop offset="0.5078" stop-color="#96ca48"/><stop offset="0.5100" stop-color="#4bcb83"/><stop offset="0.5122" stop-color="#1ac0b5"/><stop offset="0.5144" stop-color="#17aeda"/><stop offset="0.5166" stop-color="#2b91ef"/><stop offset="0.5188" stop-color="#406cfe"/><stop offset="0.5211" stop-color="#484ff2"/><stop offset="0.5233" stop-color="#463ee1"/><stop offset="0.5255" stop-color="#4539d9"/><stop offset="0.5277" stop-color="#463bdd"/><stop offset="0.5299" stop-color="#4741e5"/><stop offset="0.5322" stop-color="#484aee"/><stop offset="0.5344" stop-color="#4755f6"/><stop offset="0.5366" stop-color="#465ffb"/><stop offset="0.5388" stop-color="#4367fd"/><stop offset="0.5410" stop-color="#406cfe"/><stop offset="0.5432" stop-color="#3d71ff"/><stop offset="0.5455" stop-color="#3975fe"/><stop offset="0.5477" stop-color="#3579fd"/><stop offset="0.5499" stop-color="#327cfc"/><stop offset="0.5521" stop-color="#317efb"/><stop offset="0.5543" stop-color="#317dfc"/><stop offset="0.5565" stop-color="#347afd"/><stop offset="0.5588" stop-color="#3875fe"/><stop offset="0.5610" stop-color="#3d71ff"/><stop offset="0.5632" stop-color="#406dfe"/><stop offset="0.5654" stop-color="#416bfe"/><stop offset="0.5676" stop-color="#3f6efe"/><stop offset="0.5698" stop-color="#3a74fe"/><stop offset="0.5721" stop-color="#337bfc"/><stop offset="0.5743" stop-color="#2e83f9"/><stop offset="0.5765" stop-color="#2d8df2"/><stop offset="0.5787" stop-color="#2699e9"/><stop offset="0.5809" stop-color="#20a4e3"/><stop offset="0.5831" stop-color="#16afd9"/><stop offset="0.5854" stop-color="#02b7cb"/><stop offset="0.5876" stop-color="#13beb8"/><stop offset="0.5898" stop-color="#32c69f"/><stop offset="0.5920" stop-color="#59cc78"/><stop offset="0.5942" stop-color="#94ca4a"/><stop offset="0.5965" stop-color="#c3c22b"/><stop offset="0.5987" stop-color="#dabd28"/><stop offset="0.6009" stop-color="#dfbc2a"/><stop offset="0.6031" stop-color="#d4bf27"/><stop offset="0.6053" stop-color="#b3c534"/><stop offset="0.6075" stop-color="#70cd65"/><stop offset="0.6098" stop-color="#31c6a0"/><stop offset="0.6120" stop-color="#06b6ce"/><stop offset="0.6142" stop-color="#2798ea"/><stop offset="0.6164" stop-color="#3d71ff"/><stop offset="0.6186" stop-color="#484ff1"/><stop offset="0.6208" stop-color="#463adc"/><stop offset="0.6231" stop-color="#4435d0"/><stop offset="0.6253" stop-color="#4537d6"/><stop offset="0.6275" stop-color="#4740e4"/><stop offset="0.6297" stop-color="#484ef1"/><stop offset="0.6319" stop-color="#465efb"/><stop offset="0.6341" stop-color="#3e70ff"/><stop offset="0.6364" stop-color="#2f81fa"/><stop offset="0.6386" stop-color="#2b90f0"/><stop offset="0.6408" stop-color="#249de6"/><stop offset="0.6430" stop-color="#1da8e0"/><stop offset="0.6452" stop-color="#14b0d8"/><stop offset="0.6475" stop-color="#08b4d1"/><stop offset="0.6497" stop-color="#07b5d0"/><stop offset="0.6519" stop-color="#13b0d7"/><stop offset="0.6541" stop-color="#1fa6e1"/><stop offset="0.6563" stop-color="#2896eb"/><stop offset="0.6585" stop-color="#307ffb"/><stop offset="0.6608" stop-color="#4465fd"/><stop offset="0.6630" stop-color="#4850f3"/><stop offset="0.6652" stop-color="#4741e5"/><stop offset="0.6674" stop-color="#4639da"/><stop offset="0.6696" stop-color="#4538d8"/><stop offset="0.6718" stop-color="#463de0"/><stop offset="0.6741" stop-color="#4746ea"/><stop offset="0.6763" stop-color="#4853f5"/><stop offset="0.6785" stop-color="#4562fc"/><stop offset="0.6807" stop-color="#3c71ff"/><stop offset="0.6829" stop-color="#2f81fa"/><stop offset="0.6851" stop-color="#2c8ef2"/><stop offset="0.6874" stop-color="#269ae9"/><stop offset="0.6896" stop-color="#20a5e2"/><stop offset="0.6918" stop-color="#15afd9"/><stop offset="0.6940" stop-color="#01b8c9"/><stop offset="0.6962" stop-color="#19bfb6"/><stop offset="0.6984" stop-color="#34c79b"/><stop offset="0.7007" stop-color="#5ecc74"/><stop offset="0.7029" stop-color="#9cc944"/><stop offset="0.7051" stop-color="#ccc028"/><stop offset="0.7073" stop-color="#e4bb2c"/><stop offset="0.7095" stop-color="#ecba32"/><stop offset="0.7118" stop-color="#e7bb2e"/><stop offset="0.7140" stop-color="#d5be28"/><stop offset="0.7162" stop-color="#aec637"/><stop offset="0.7184" stop-color="#6ccd68"/><stop offset="0.7206" stop-color="#35c79b"/><stop offset="0.7228" stop-color="#0bbdbd"/><stop offset="0.7251" stop-color="#0fb2d5"/><stop offset="0.7273" stop-color="#1da8e0"/><stop offset="0.7295" stop-color="#20a4e3"/><stop offset="0.7317" stop-color="#1fa5e2"/><stop offset="0.7339" stop-color="#1da8e0"/><stop offset="0.7361" stop-color="#1babde"/><stop offset="0.7384" stop-color="#19acdc"/><stop offset="0.7406" stop-color="#19addc"/><stop offset="0.7428" stop-color="#1babde"/><stop offset="0.7450" stop-color="#1fa6e2"/><stop offset="0.7472" stop-color="#249fe6"/><stop offset="0.7494" stop-color="#2797eb"/><stop offset="0.7517" stop-color="#2c8ef1"/><stop offset="0.7539" stop-color="#2e85f8"/><stop offset="0.7561" stop-color="#317efb"/><stop offset="0.7583" stop-color="#347afd"/><stop offset="0.7605" stop-color="#3678fe"/><stop offset="0.7627" stop-color="#3975fe"/><stop offset="0.7650" stop-color="#3f6eff"/><stop offset="0.7672" stop-color="#4465fd"/><stop offset="0.7694" stop-color="#475bf9"/><stop offset="0.7716" stop-color="#4854f6"/><stop offset="0.7738" stop-color="#4757f7"/><stop offset="0.7761" stop-color="#4562fc"/><stop offset="0.7783" stop-color="#3b73fe"/><stop offset="0.7805" stop-color="#2e86f7"/><stop offset="0.7827" stop-color="#2699e9"/><stop offset="0.7849" stop-color="#1aabdd"/><stop offset="0.7871" stop-color="#01bac5"/><stop offset="0.7894" stop-color="#2ac3a9"/><stop offset="0.7916" stop-color="#3dc990"/><stop offset="0.7938" stop-color="#52cc7e"/><stop offset="0.7960" stop-color="#5ccc75"/><stop offset="0.7982" stop-color="#54cc7d"/><stop offset="0.8004" stop-color="#3dc990"/><stop offset="0.8027" stop-color="#2bc3a8"/><stop offset="0.8049" stop-color="#04bbc2"/><stop offset="0.8071" stop-color="#17aeda"/><stop offset="0.8093" stop-color="#259de7"/><stop offset="0.8115" stop-color="#2d8bf4"/><stop offset="0.8137" stop-color="#327cfc"/><stop offset="0.8160" stop-color="#3777fe"/><stop offset="0.8182" stop-color="#307ffb"/><stop offset="0.8204" stop-color="#2c8ef2"/><stop offset="0.8226" stop-color="#259ce7"/><stop offset="0.8248" stop-color="#1da9e0"/><stop offset="0.8271" stop-color="#0eb2d4"/><stop offset="0.8293" stop-color="#01b9c6"/><stop offset="0.8315" stop-color="#13beb8"/><stop offset="0.8337" stop-color="#27c2ab"/><stop offset="0.8359" stop-color="#31c5a1"/><stop offset="0.8381" stop-color="#33c79d"/><stop offset="0.8404" stop-color="#30c5a2"/><stop offset="0.8426" stop-color="#27c2ab"/><stop offset="0.8448" stop-color="#1abfb5"/><stop offset="0.8470" stop-color="#09bcbe"/><stop offset="0.8492" stop-color="#01b9c7"/><stop offset="0.8514" stop-color="#03b7cb"/><stop offset="0.8537" stop-color="#01b7ca"/><stop offset="0.8559" stop-color="#02bac5"/><stop offset="0.8581" stop-color="#0abdbe"/><stop offset="0.8603" stop-color="#16bfb7"/><stop offset="0.8625" stop-color="#1bc0b4"/><stop offset="0.8647" stop-color="#11beb9"/><stop offset="0.8670" stop-color="#02bac5"/><stop offset="0.8692" stop-color="#09b4d1"/><stop offset="0.8714" stop-color="#18addb"/><stop offset="0.8736" stop-color="#1fa6e2"/><stop offset="0.8758" stop-color="#249fe5"/><stop offset="0.8780" stop-color="#259be7"/><stop offset="0.8803" stop-color="#249de6"/><stop offset="0.8825" stop-color="#21a3e3"/><stop offset="0.8847" stop-color="#1caadf"/><stop offset="0.8869" stop-color="#12b1d7"/><stop offset="0.8891" stop-color="#01b8c9"/><stop offset="0.8914" stop-color="#19bfb6"/><stop offset="0.8936" stop-color="#34c79c"/><stop offset="0.8958" stop-color="#57cc7a"/><stop offset="0.8980" stop-color="#8acb52"/><stop offset="0.9002" stop-color="#b2c635"/><stop offset="0.9024" stop-color="#c8c129"/><stop offset="0.9047" stop-color="#d2bf27"/><stop offset="0.9069" stop-color="#d4bf27"/><stop offset="0.9091" stop-color="#cac129"/><stop offset="0.9113" stop-color="#b2c635"/><stop offset="0.9135" stop-color="#83cc57"/><stop offset="0.9157" stop-color="#47cb87"/><stop offset="0.9180" stop-color="#23c1af"/><stop offset="0.9202" stop-color="#06b5cf"/><stop offset="0.9224" stop-color="#21a3e3"/><stop offset="0.9246" stop-color="#2c8ef2"/><stop offset="0.9268" stop-color="#327bfc"/><stop offset="0.9290" stop-color="#3875fe"/><stop offset="0.9313" stop-color="#327cfc"/><stop offset="0.9335" stop-color="#2e86f7"/><stop offset="0.9357" stop-color="#2c8ff1"/><stop offset="0.9379" stop-color="#2797eb"/><stop offset="0.9401" stop-color="#259ce7"/><stop offset="0.9424" stop-color="#259ce7"/><stop offset="0.9446" stop-color="#2895ec"/><stop offset="0.9468" stop-color="#2d89f6"/><stop offset="0.9490" stop-color="#3579fd"/><stop offset="0.9512" stop-color="#4466fd"/><stop offset="0.9534" stop-color="#4756f6"/><stop offset="0.9557" stop-color="#4849ed"/><stop offset="0.9579" stop-color="#4740e4"/><stop offset="0.9601" stop-color="#463adb"/><stop offset="0.9623" stop-color="#4537d5"/><stop offset="0.9645" stop-color="#4537d6"/><stop offset="0.9667" stop-color="#463adc"/><stop offset="0.9690" stop-color="#473fe2"/><stop offset="0.9712" stop-color="#4743e7"/><stop offset="0.9734" stop-color="#4848ec"/><stop offset="0.9756" stop-color="#484df0"/><stop offset="0.9778" stop-color="#4853f5"/><stop offset="0.9800" stop-color="#4758f8"/><stop offset="0.9823" stop-color="#465efb"/><stop offset="0.9845" stop-color="#4465fd"/><stop offset="0.9867" stop-color="#406dfe"/><stop offset="0.9889" stop-color="#3776fe"/><stop offset="0.9911" stop-color="#2f82f9"/><stop offset="0.9933" stop-color="#2b91ef"/><stop offset="0.9956" stop-color="#1fa6e2"/><stop offset="0.9978" stop-color="#01b9c6"/><stop offset="1.0000" stop-color="#2cc4a7"/></linearGradient>
<linearGradient id="mg3" x1="0" y1="0" x2="0" y2="1"><stop offset="0" stop-color="#fff"/><stop offset="1" stop-color="#000"/></linearGradient>
<mask id="mk3" maskUnits="userSpaceOnUse" x="40.5" y="349.3" width="451" height="135.1"><rect x="40.5" y="349.3" width="451" height="135.1" fill="url(#mg3)"/></mask>
</defs>
<g id="panel-a">
<rect x="40.5" y="9.8" width="451" height="134.4" fill="url(#gb1)"/>
<rect x="40.5" y="9.8" width="451" height="134.4" fill="url(#gt1)" mask="url(#mk1)"/>
<line x1="40.5" y1="142.5" x2="491.5" y2="142.5" stroke="#000" stroke-opacity="0.14" stroke-width="0.6"/>
<line x1="40.5" y1="120.47" x2="491.5" y2="120.47" stroke="#000" stroke-opacity="0.14" stroke-width="0.6"/>
<line x1="40.5" y1="98.44" x2="491.5" y2="98.44" stroke="#000" stroke-opacity="0.14" stroke-width="0.6"/>
<line x1="40.5" y1="76.41" x2="491.5" y2="76.41" stroke="#000" stroke-opacity="0.14" stroke-width="0.6"/>
<line x1="40.5" y1="54.38" x2="491.5" y2="54.38" stroke="#000" stroke-opacity="0.14" stroke-width="0.6"/>
<line x1="40.5" y1="32.35" x2="491.5" y2="32.35" stroke="#000" stroke-opacity="0.14" stroke-width="0.6"/>
<line x1="85.6" y1="9.8" x2="85.6" y2="144.2" stroke="#000" stroke-opacity="0.10" stroke-width="0.6"/>
<line x1="130.7" y1="9.8" x2="130.7" y2="144.2" stroke="#000" stroke-opacity="0.10" stroke-width="0.6"/>
<line x1="175.8" y1="9.8" x2="175.8" y2="144.2" stroke="#000" stroke-opacity="0.10" stroke-width="0.6"/>
<line x1="220.9" y1="9.8" x2="220.9" y2="144.2" stroke="#000" stroke-opacity="0.10" stroke-width="0.6"/>
<line x1="266" y1="9.8" x2="266" y2="144.2" stroke="#000" stroke-opacity="0.10" stroke-width="0.6"/>
<line x1="311.1" y1="9.8" x2="311.1" y2="144.2" stroke="#000" stroke-opacity="0.10" stroke-width="0.6"/>
<line x1="356.2" y1="9.8" x2="356.2" y2="144.2" stroke="#000" stroke-opacity="0.10" stroke-width="0.6"/>
<line x1="401.3" y1="9.8" x2="401.3" y2="144.2" stroke="#000" stroke-opacity="0.10" stroke-width="0.6"/>
<line x1="446.4" y1="9.8" x2="446.4" y2="144.2" stroke="#000" stroke-opacity="0.10" stroke-width="0.6"/>
<line x1="49" y1="11" x2="45.5" y2="144.2" stroke="#061266" stroke-opacity="0.23" stroke-width="1.9"/>
<line x1="67.8" y1="11" x2="67" y2="144.2" stroke="#061266" stroke-opacity="0.23" stroke-width="1.9"/>
<line x1="97.7" y1="11" x2="95.5" y2="144.2" stroke="#061266" stroke-opacity="0.23" stroke-width="1.9"/>
<line x1="141.6" y1="11" x2="139.8" y2="144.2" stroke="#061266" stroke-opacity="0.23" stroke-width="1.9"/>
<line x1="156.5" y1="11" x2="155" y2="144.2" stroke="#061266" stroke-opacity="0.23" stroke-width="1.9"/>
<line x1="194.6" y1="11" x2="193.6" y2="144.2" stroke="#061266" stroke-opacity="0.23" stroke-width="1.9"/>
<line x1="242.2" y1="11" x2="241" y2="144.2" stroke="#061266" stroke-opacity="0.23" stroke-width="1.9"/>
<line x1="280" y1="11" x2="277.8" y2="144.2" stroke="#061266" stroke-opacity="0.23" stroke-width="1.9"/>
<line x1="308.3" y1="11" x2="308" y2="144.2" stroke="#061266" stroke-opacity="0.23" stroke-width="1.9"/>
<line x1="319.4" y1="11" x2="317" y2="144.2" stroke="#061266" stroke-opacity="0.23" stroke-width="1.9"/>
<line x1="343.8" y1="11" x2="345" y2="144.2" stroke="#061266" stroke-opacity="0.23" stroke-width="1.9"/>
<line x1="358" y1="11" x2="357.5" y2="144.2" stroke="#061266" stroke-opacity="0.23" stroke-width="1.9"/>
<line x1="379.7" y1="11" x2="378" y2="144.2" stroke="#061266" stroke-opacity="0.23" stroke-width="1.9"/>
<line x1="405.8" y1="11" x2="404.8" y2="144.2" stroke="#061266" stroke-opacity="0.23" stroke-width="1.9"/>
<line x1="437.6" y1="11" x2="433.8" y2="144.2" stroke="#061266" stroke-opacity="0.23" stroke-width="1.9"/>
<line x1="480.5" y1="11" x2="481.8" y2="144.2" stroke="#061266" stroke-opacity="0.23" stroke-width="1.9"/>
<path d="M59.3 11L59 13.86L57 145.6" stroke="#000" stroke-width="1.7" stroke-dasharray="1.5 1.36" fill="none"/>
<path d="M87.8 11L86.5 13.86L85.8 145.6" stroke="#000" stroke-width="1.7" stroke-dasharray="1.5 1.36" fill="none"/>
<path d="M131.6 11L130.3 13.86L130.8 145.6" stroke="#000" stroke-width="1.7" stroke-dasharray="1.5 1.36" fill="none"/>
<path d="M149.5 11L149.1 13.86L148.6 145.6" stroke="#000" stroke-width="1.7" stroke-dasharray="1.5 1.36" fill="none"/>
<path d="M182.9 11L181.6 13.86L181.4 145.6" stroke="#000" stroke-width="1.7" stroke-dasharray="1.5 1.36" fill="none"/>
<path d="M230.2 11L228.9 13.86L230 145.6" stroke="#000" stroke-width="1.7" stroke-dasharray="1.5 1.36" fill="none"/>
<path d="M269.6 11L268.3 13.86L269 145.6" stroke="#000" stroke-width="1.7" stroke-dasharray="1.5 1.36" fill="none"/>
<path d="M300.1 11L299.2 13.86L298.7 145.6" stroke="#000" stroke-width="1.7" stroke-dasharray="1.5 1.36" fill="none"/>
<path d="M314.4 11L314 13.86L312.8 145.6" stroke="#000" stroke-width="1.7" stroke-dasharray="1.5 1.36" fill="none"/>
<path d="M337 11L337.6 13.86L337.6 145.6" stroke="#000" stroke-width="1.7" stroke-dasharray="1.5 1.36" fill="none"/>
<path d="M372.6 11L371.7 13.86L371.5 145.6" stroke="#000" stroke-width="1.7" stroke-dasharray="1.5 1.36" fill="none"/>
<path d="M396.9 11L395.6 13.86L395.5 145.6" stroke="#000" stroke-width="1.7" stroke-dasharray="1.5 1.36" fill="none"/>
<path d="M427.3 11L426 13.86L425.9 145.6" stroke="#000" stroke-width="1.7" stroke-dasharray="1.5 1.36" fill="none"/>
<path d="M464.6 11L463.3 13.86L462.1 145.6" stroke="#000" stroke-width="1.7" stroke-dasharray="1.5 1.36" fill="none"/>
<path d="M487.5 11L488 13.86L488 145.6" stroke="#000" stroke-width="1.7" stroke-dasharray="1.5 1.36" fill="none"/>
<path d="M348.3 122L347.8 145.6" stroke="#000" stroke-width="1.7" stroke-dasharray="1.5 1.36" fill="none"/>
<path d="M39.2 8.1L42.2 11.1M39.2 11.1L42.2 8.1" stroke="#000" stroke-width="1.4" fill="none"/>
<path d="M59 8.1L62 11.1M59 11.1L62 8.1" stroke="#000" stroke-width="1.4" fill="none"/>
<path d="M88.1 8.1L91.1 11.1M88.1 11.1L91.1 8.1" stroke="#000" stroke-width="1.4" fill="none"/>
<path d="M132.2 8.1L135.2 11.1M132.2 11.1L135.2 8.1" stroke="#000" stroke-width="1.4" fill="none"/>
<path d="M149.2 8.1L152.2 11.1M149.2 11.1L152.2 8.1" stroke="#000" stroke-width="1.4" fill="none"/>
<path d="M182.9 8.1L185.9 11.1M182.9 11.1L185.9 8.1" stroke="#000" stroke-width="1.4" fill="none"/>
<path d="M231.5 8.1L234.5 11.1M231.5 11.1L234.5 8.1" stroke="#000" stroke-width="1.4" fill="none"/>
<path d="M270.3 8.1L273.3 11.1M270.3 11.1L273.3 8.1" stroke="#000" stroke-width="1.4" fill="none"/>
<path d="M299.8 8.1L302.8 11.1M299.8 11.1L302.8 8.1" stroke="#000" stroke-width="1.4" fill="none"/>
<path d="M314.1 8.1L317.1 11.1M314.1 11.1L317.1 8.1" stroke="#000" stroke-width="1.4" fill="none"/>
<path d="M336.7 8.1L339.7 11.1M336.7 11.1L339.7 8.1" stroke="#000" stroke-width="1.4" fill="none"/>
<path d="M348 8.1L351 11.1M348 11.1L351 8.1" stroke="#000" stroke-width="1.4" fill="none"/>
<path d="M372.3 8.1L375.3 11.1M372.3 11.1L375.3 8.1" stroke="#000" stroke-width="1.4" fill="none"/>
<path d="M397.1 8.1L400.1 11.1M397.1 11.1L400.1 8.1" stroke="#000" stroke-width="1.4" fill="none"/>
<path d="M430.1 8.1L433.1 11.1M430.1 11.1L433.1 8.1" stroke="#000" stroke-width="1.4" fill="none"/>
<path d="M464.3 8.1L467.3 11.1M464.3 11.1L467.3 8.1" stroke="#000" stroke-width="1.4" fill="none"/>
<path d="M486 8.1L489 11.1M486 11.1L489 8.1" stroke="#000" stroke-width="1.4" fill="none"/>
<circle cx="49" cy="9.6" r="1.7" stroke="#000" stroke-width="1.45" fill="none"/>
<circle cx="67.8" cy="9.6" r="1.7" stroke="#000" stroke-width="1.45" fill="none"/>
<circle cx="97.7" cy="9.6" r="1.7" stroke="#000" stroke-width="1.45" fill="none"/>
<circle cx="141.6" cy="9.6" r="1.7" stroke="#000" stroke-width="1.45" fill="none"/>
<circle cx="156.5" cy="9.6" r="1.7" stroke="#000" stroke-width="1.45" fill="none"/>
<circle cx="194.6" cy="9.6" r="1.7" stroke="#000" stroke-width="1.45" fill="none"/>
<circle cx="242.2" cy="9.6" r="1.7" stroke="#000" stroke-width="1.45" fill="none"/>
<circle cx="280" cy="9.6" r="1.7" stroke="#000" stroke-width="1.45" fill="none"/>
<circle cx="308.3" cy="9.6" r="1.7" stroke="#000" stroke-width="1.45" fill="none"/>
<circle cx="319.4" cy="9.6" r="1.7" stroke="#000" stroke-width="1.45" fill="none"/>
<circle cx="343.8" cy="9.6" r="1.7" stroke="#000" stroke-width="1.45" fill="none"/>
<circle cx="358" cy="9.6" r="1.7" stroke="#000" stroke-width="1.45" fill="none"/>
<circle cx="379.7" cy="9.6" r="1.7" stroke="#000" stroke-width="1.45" fill="none"/>
<circle cx="406.9" cy="9.6" r="1.7" stroke="#000" stroke-width="1.45" fill="none"/>
<circle cx="437.6" cy="9.6" r="1.7" stroke="#000" stroke-width="1.45" fill="none"/>
<circle cx="480.7" cy="9.6" r="1.7" stroke="#000" stroke-width="1.45" fill="none"/>
<text x="37.7" y="146.3" font-size="9.5" text-anchor="end" >2000</text>
<text x="37.7" y="124.27" font-size="9.5" text-anchor="end" >2002</text>
<text x="37.7" y="102.24" font-size="9.5" text-anchor="end" >2004</text>
<text x="37.7" y="80.21" font-size="9.5" text-anchor="end" >2006</text>
<text x="37.7" y="58.18" font-size="9.5" text-anchor="end" >2008</text>
<text x="37.7" y="36.15" font-size="9.5" text-anchor="end" >2010</text>
<text x="37.7" y="14.12" font-size="9.5" text-anchor="end" >2012</text>
<text x="40.5" y="155.9" font-size="9.5" text-anchor="middle" >−2.5</text>
<text x="85.6" y="155.9" font-size="9.5" text-anchor="middle" >−2</text>
<text x="130.7" y="155.9" font-size="9.5" text-anchor="middle" >−1.5</text>
<text x="175.8" y="155.9" font-size="9.5" text-anchor="middle" >−1</text>
<text x="220.9" y="155.9" font-size="9.5" text-anchor="middle" >−0.5</text>
<text x="266" y="155.9" font-size="9.5" text-anchor="middle" >0</text>
<text x="311.1" y="155.9" font-size="9.5" text-anchor="middle" >0.5</text>
<text x="356.2" y="155.9" font-size="9.5" text-anchor="middle" >1</text>
<text x="401.3" y="155.9" font-size="9.5" text-anchor="middle" >1.5</text>
<text x="446.4" y="155.9" font-size="9.5" text-anchor="middle" >2</text>
<text x="491.5" y="155.9" font-size="9.5" text-anchor="middle" >2.5</text>
<text x="267.3" y="167.6" font-size="10.3" text-anchor="middle"><tspan font-style="italic">x</tspan>  [km]</text>
<text transform="translate(14.8 75.2) rotate(-90)" font-size="10.3" text-anchor="middle"><tspan font-style="italic">T</tspan>  [yr]</text>
<rect x="501.6" y="9.2" width="7.2" height="134.5" fill="url(#cbar)"/>
<line x1="507.6" y1="9.5" x2="508.8" y2="9.5" stroke="#333" stroke-width="0.5"/>
<text x="512" y="12.8" font-size="8.2" text-anchor="start" >−23</text>
<line x1="507.6" y1="28.6429" x2="508.8" y2="28.6429" stroke="#333" stroke-width="0.5"/>
<text x="512" y="31.9429" font-size="8.2" text-anchor="start" >−24</text>
<line x1="507.6" y1="47.7857" x2="508.8" y2="47.7857" stroke="#333" stroke-width="0.5"/>
<text x="512" y="51.0857" font-size="8.2" text-anchor="start" >−25</text>
<line x1="507.6" y1="66.9286" x2="508.8" y2="66.9286" stroke="#333" stroke-width="0.5"/>
<text x="512" y="70.2286" font-size="8.2" text-anchor="start" >−26</text>
<line x1="507.6" y1="86.0714" x2="508.8" y2="86.0714" stroke="#333" stroke-width="0.5"/>
<text x="512" y="89.3714" font-size="8.2" text-anchor="start" >−27</text>
<line x1="507.6" y1="105.214" x2="508.8" y2="105.214" stroke="#333" stroke-width="0.5"/>
<text x="512" y="108.514" font-size="8.2" text-anchor="start" >−28</text>
<line x1="507.6" y1="124.357" x2="508.8" y2="124.357" stroke="#333" stroke-width="0.5"/>
<text x="512" y="127.657" font-size="8.2" text-anchor="start" >−29</text>
<line x1="507.6" y1="143.5" x2="508.8" y2="143.5" stroke="#333" stroke-width="0.5"/>
<text x="512" y="146.8" font-size="8.2" text-anchor="start" >−30</text>
<text transform="translate(533.3 75.7) rotate(-90)" font-size="8.8" text-anchor="middle"><tspan font-style="italic">z</tspan><tspan font-style="italic" font-size="6.16" dy="2">b</tspan><tspan dy="-2"> [m]</tspan></text>
<text x="491.7" y="19.4" font-size="11" font-weight="bold" text-anchor="end" style="fill:#000" stroke="#000" stroke-width="0.25">(a)</text>
</g>
<g id="panel-b">
<rect x="40.5" y="179.3" width="451" height="134.9" fill="url(#gb2)"/>
<rect x="40.5" y="179.3" width="451" height="134.9" fill="url(#gt2)" mask="url(#mk2)"/>
<line x1="40.5" y1="312.8" x2="491.5" y2="312.8" stroke="#000" stroke-opacity="0.14" stroke-width="0.6"/>
<line x1="40.5" y1="284.72" x2="491.5" y2="284.72" stroke="#000" stroke-opacity="0.14" stroke-width="0.6"/>
<line x1="40.5" y1="256.64" x2="491.5" y2="256.64" stroke="#000" stroke-opacity="0.14" stroke-width="0.6"/>
<line x1="40.5" y1="228.56" x2="491.5" y2="228.56" stroke="#000" stroke-opacity="0.14" stroke-width="0.6"/>
<line x1="40.5" y1="200.48" x2="491.5" y2="200.48" stroke="#000" stroke-opacity="0.14" stroke-width="0.6"/>
<line x1="85.6" y1="179.3" x2="85.6" y2="314.2" stroke="#000" stroke-opacity="0.10" stroke-width="0.6"/>
<line x1="130.7" y1="179.3" x2="130.7" y2="314.2" stroke="#000" stroke-opacity="0.10" stroke-width="0.6"/>
<line x1="175.8" y1="179.3" x2="175.8" y2="314.2" stroke="#000" stroke-opacity="0.10" stroke-width="0.6"/>
<line x1="220.9" y1="179.3" x2="220.9" y2="314.2" stroke="#000" stroke-opacity="0.10" stroke-width="0.6"/>
<line x1="266" y1="179.3" x2="266" y2="314.2" stroke="#000" stroke-opacity="0.10" stroke-width="0.6"/>
<line x1="311.1" y1="179.3" x2="311.1" y2="314.2" stroke="#000" stroke-opacity="0.10" stroke-width="0.6"/>
<line x1="356.2" y1="179.3" x2="356.2" y2="314.2" stroke="#000" stroke-opacity="0.10" stroke-width="0.6"/>
<line x1="401.3" y1="179.3" x2="401.3" y2="314.2" stroke="#000" stroke-opacity="0.10" stroke-width="0.6"/>
<line x1="446.4" y1="179.3" x2="446.4" y2="314.2" stroke="#000" stroke-opacity="0.10" stroke-width="0.6"/>
<line x1="72.2" y1="180.3" x2="69.9" y2="314.2" stroke="#1a2a80" stroke-opacity="0.3" stroke-width="1.9" stroke-dasharray="1.9 1.15"/>
<line x1="136.4" y1="180.3" x2="131" y2="314.2" stroke="#1a2a80" stroke-opacity="0.3" stroke-width="1.9" stroke-dasharray="1.9 1.15"/>
<line x1="202" y1="180.3" x2="199" y2="314.2" stroke="#1a2a80" stroke-opacity="0.3" stroke-width="1.9" stroke-dasharray="1.9 1.15"/>
<line x1="278" y1="180.3" x2="277" y2="314.2" stroke="#1a2a80" stroke-opacity="0.3" stroke-width="1.9" stroke-dasharray="1.9 1.15"/>
<line x1="316.7" y1="180.3" x2="314" y2="314.2" stroke="#1a2a80" stroke-opacity="0.3" stroke-width="1.9" stroke-dasharray="1.9 1.15"/>
<line x1="362" y1="180.3" x2="360" y2="314.2" stroke="#1a2a80" stroke-opacity="0.3" stroke-width="1.9" stroke-dasharray="1.9 1.15"/>
<line x1="428.6" y1="180.3" x2="426.8" y2="314.2" stroke="#1a2a80" stroke-opacity="0.3" stroke-width="1.9" stroke-dasharray="1.9 1.15"/>
<line x1="482" y1="180.3" x2="481" y2="314.2" stroke="#1a2a80" stroke-opacity="0.3" stroke-width="1.9" stroke-dasharray="1.9 1.15"/>
<path d="M57.5 180.3L55.2 315.6" stroke="#000" stroke-width="1.7" stroke-dasharray="1.5 1.55" fill="none"/>
<path d="M112.9 180.3L110.6 315.6" stroke="#000" stroke-width="1.7" stroke-dasharray="1.5 1.55" fill="none"/>
<path d="M188.6 180.3L187.2 315.6" stroke="#000" stroke-width="1.7" stroke-dasharray="1.5 1.55" fill="none"/>
<path d="M264.8 180.3L263.6 315.6" stroke="#000" stroke-width="1.7" stroke-dasharray="1.5 1.55" fill="none"/>
<path d="M299.2 180.3L298.3 315.6" stroke="#000" stroke-width="1.7" stroke-dasharray="1.5 1.55" fill="none"/>
<path d="M348.4 180.3L348.4 315.6" stroke="#000" stroke-width="1.7" stroke-dasharray="1.5 1.55" fill="none"/>
<path d="M415.6 180.3L414.3 315.6" stroke="#000" stroke-width="1.7" stroke-dasharray="1.5 1.55" fill="none"/>
<path d="M470.2 180.3L469.2 315.6" stroke="#000" stroke-width="1.7" stroke-dasharray="1.5 1.55" fill="none"/>
<path d="M56 177.6L59 180.6M56 180.6L59 177.6" stroke="#000" stroke-width="1.4" fill="none"/>
<path d="M111.9 177.6L114.9 180.6M111.9 180.6L114.9 177.6" stroke="#000" stroke-width="1.4" fill="none"/>
<path d="M187.8 177.6L190.8 180.6M187.8 180.6L190.8 177.6" stroke="#000" stroke-width="1.4" fill="none"/>
<path d="M264.5 177.6L267.5 180.6M264.5 180.6L267.5 177.6" stroke="#000" stroke-width="1.4" fill="none"/>
<path d="M299 177.6L302 180.6M299 180.6L302 177.6" stroke="#000" stroke-width="1.4" fill="none"/>
<path d="M349.7 177.6L352.7 180.6M349.7 180.6L352.7 177.6" stroke="#000" stroke-width="1.4" fill="none"/>
<path d="M414.9 177.6L417.9 180.6M414.9 180.6L417.9 177.6" stroke="#000" stroke-width="1.4" fill="none"/>
<path d="M469.7 177.6L472.7 180.6M469.7 180.6L472.7 177.6" stroke="#000" stroke-width="1.4" fill="none"/>
<circle cx="72.2" cy="179.1" r="1.7" stroke="#000" stroke-width="1.45" fill="none"/>
<circle cx="136.4" cy="179.1" r="1.7" stroke="#000" stroke-width="1.45" fill="none"/>
<circle cx="202" cy="179.1" r="1.7" stroke="#000" stroke-width="1.45" fill="none"/>
<circle cx="278.6" cy="179.1" r="1.7" stroke="#000" stroke-width="1.45" fill="none"/>
<circle cx="316.7" cy="179.1" r="1.7" stroke="#000" stroke-width="1.45" fill="none"/>
<circle cx="362" cy="179.1" r="1.7" stroke="#000" stroke-width="1.45" fill="none"/>
<circle cx="428.9" cy="179.1" r="1.7" stroke="#000" stroke-width="1.45" fill="none"/>
<circle cx="481.8" cy="179.1" r="1.7" stroke="#000" stroke-width="1.45" fill="none"/>
<text x="37.7" y="316.6" font-size="9.5" text-anchor="end" >2002</text>
<text x="37.7" y="288.52" font-size="9.5" text-anchor="end" >2004</text>
<text x="37.7" y="260.44" font-size="9.5" text-anchor="end" >2006</text>
<text x="37.7" y="232.36" font-size="9.5" text-anchor="end" >2008</text>
<text x="37.7" y="204.28" font-size="9.5" text-anchor="end" >2010</text>
<text x="40.5" y="325.9" font-size="9.5" text-anchor="middle" >−2.5</text>
<text x="85.6" y="325.9" font-size="9.5" text-anchor="middle" >−2</text>
<text x="130.7" y="325.9" font-size="9.5" text-anchor="middle" >−1.5</text>
<text x="175.8" y="325.9" font-size="9.5" text-anchor="middle" >−1</text>
<text x="220.9" y="325.9" font-size="9.5" text-anchor="middle" >−0.5</text>
<text x="266" y="325.9" font-size="9.5" text-anchor="middle" >0</text>
<text x="311.1" y="325.9" font-size="9.5" text-anchor="middle" >0.5</text>
<text x="356.2" y="325.9" font-size="9.5" text-anchor="middle" >1</text>
<text x="401.3" y="325.9" font-size="9.5" text-anchor="middle" >1.5</text>
<text x="446.4" y="325.9" font-size="9.5" text-anchor="middle" >2</text>
<text x="491.5" y="325.9" font-size="9.5" text-anchor="middle" >2.5</text>
<text x="267.3" y="337.6" font-size="10.3" text-anchor="middle"><tspan font-style="italic">x</tspan>  [km]</text>
<text transform="translate(14.8 244.95) rotate(-90)" font-size="10.3" text-anchor="middle"><tspan font-style="italic">T</tspan>  [yr]</text>
<rect x="501.6" y="178.7" width="7.2" height="135" fill="url(#cbar)"/>
<line x1="507.6" y1="179" x2="508.8" y2="179" stroke="#333" stroke-width="0.5"/>
<text x="512" y="182.3" font-size="8.2" text-anchor="start" >−19.5</text>
<line x1="507.6" y1="201.417" x2="508.8" y2="201.417" stroke="#333" stroke-width="0.5"/>
<text x="512" y="204.717" font-size="8.2" text-anchor="start" >−20</text>
<line x1="507.6" y1="223.833" x2="508.8" y2="223.833" stroke="#333" stroke-width="0.5"/>
<text x="512" y="227.133" font-size="8.2" text-anchor="start" >−20.5</text>
<line x1="507.6" y1="246.25" x2="508.8" y2="246.25" stroke="#333" stroke-width="0.5"/>
<text x="512" y="249.55" font-size="8.2" text-anchor="start" >−21</text>
<line x1="507.6" y1="268.667" x2="508.8" y2="268.667" stroke="#333" stroke-width="0.5"/>
<text x="512" y="271.967" font-size="8.2" text-anchor="start" >−21.5</text>
<line x1="507.6" y1="291.083" x2="508.8" y2="291.083" stroke="#333" stroke-width="0.5"/>
<text x="512" y="294.383" font-size="8.2" text-anchor="start" >−22</text>
<line x1="507.6" y1="313.5" x2="508.8" y2="313.5" stroke="#333" stroke-width="0.5"/>
<text x="512" y="316.8" font-size="8.2" text-anchor="start" >−22.5</text>
<text transform="translate(540 245.45) rotate(-90)" font-size="8.8" text-anchor="middle"><tspan font-style="italic">z</tspan><tspan font-style="italic" font-size="6.16" dy="2">b</tspan><tspan dy="-2"> [m]</tspan></text>
<text x="491.7" y="188" font-size="11" font-weight="bold" text-anchor="end" style="fill:#000" stroke="#000" stroke-width="0.25">(b)</text>
</g>
<g id="panel-c">
<rect x="40.5" y="349.3" width="451" height="135.1" fill="url(#gb3)"/>
<rect x="40.5" y="349.3" width="451" height="135.1" fill="url(#gt3)" mask="url(#mk3)"/>
<line x1="40.5" y1="480.8" x2="491.5" y2="480.8" stroke="#000" stroke-opacity="0.14" stroke-width="0.6"/>
<line x1="40.5" y1="450.575" x2="491.5" y2="450.575" stroke="#000" stroke-opacity="0.14" stroke-width="0.6"/>
<line x1="40.5" y1="420.35" x2="491.5" y2="420.35" stroke="#000" stroke-opacity="0.14" stroke-width="0.6"/>
<line x1="40.5" y1="390.125" x2="491.5" y2="390.125" stroke="#000" stroke-opacity="0.14" stroke-width="0.6"/>
<line x1="40.5" y1="359.9" x2="491.5" y2="359.9" stroke="#000" stroke-opacity="0.14" stroke-width="0.6"/>
<line x1="85.6" y1="349.3" x2="85.6" y2="484.4" stroke="#000" stroke-opacity="0.10" stroke-width="0.6"/>
<line x1="130.7" y1="349.3" x2="130.7" y2="484.4" stroke="#000" stroke-opacity="0.10" stroke-width="0.6"/>
<line x1="175.8" y1="349.3" x2="175.8" y2="484.4" stroke="#000" stroke-opacity="0.10" stroke-width="0.6"/>
<line x1="220.9" y1="349.3" x2="220.9" y2="484.4" stroke="#000" stroke-opacity="0.10" stroke-width="0.6"/>
<line x1="266" y1="349.3" x2="266" y2="484.4" stroke="#000" stroke-opacity="0.10" stroke-width="0.6"/>
<line x1="311.1" y1="349.3" x2="311.1" y2="484.4" stroke="#000" stroke-opacity="0.10" stroke-width="0.6"/>
<line x1="356.2" y1="349.3" x2="356.2" y2="484.4" stroke="#000" stroke-opacity="0.10" stroke-width="0.6"/>
<line x1="401.3" y1="349.3" x2="401.3" y2="484.4" stroke="#000" stroke-opacity="0.10" stroke-width="0.6"/>
<line x1="446.4" y1="349.3" x2="446.4" y2="484.4" stroke="#000" stroke-opacity="0.10" stroke-width="0.6"/>
<line x1="43.3" y1="352.05" x2="43.5" y2="484.4" stroke="#0c1a66" stroke-opacity="0.36" stroke-width="2" stroke-dasharray="1.9 2.32"/>
<line x1="58.6" y1="352.05" x2="57.5" y2="484.4" stroke="#0c1a66" stroke-opacity="0.36" stroke-width="2" stroke-dasharray="1.9 2.32"/>
<line x1="81.6" y1="352.05" x2="80.5" y2="484.4" stroke="#0c1a66" stroke-opacity="0.36" stroke-width="2" stroke-dasharray="1.9 2.32"/>
<line x1="112.3" y1="352.05" x2="110.3" y2="484.4" stroke="#0c1a66" stroke-opacity="0.36" stroke-width="2" stroke-dasharray="1.9 2.32"/>
<line x1="142" y1="352.05" x2="141.5" y2="484.4" stroke="#0c1a66" stroke-opacity="0.36" stroke-width="2" stroke-dasharray="1.9 2.32"/>
<line x1="173.2" y1="352.05" x2="170.5" y2="484.4" stroke="#0c1a66" stroke-opacity="0.36" stroke-width="2" stroke-dasharray="1.9 2.32"/>
<line x1="206.3" y1="352.05" x2="202.3" y2="484.4" stroke="#0c1a66" stroke-opacity="0.36" stroke-width="2" stroke-dasharray="1.9 2.32"/>
<line x1="235" y1="352.05" x2="233" y2="484.4" stroke="#0c1a66" stroke-opacity="0.36" stroke-width="2" stroke-dasharray="1.9 2.32"/>
<line x1="252" y1="352.05" x2="251" y2="484.4" stroke="#0c1a66" stroke-opacity="0.36" stroke-width="2" stroke-dasharray="1.9 2.32"/>
<line x1="278.6" y1="352.05" x2="277" y2="484.4" stroke="#0c1a66" stroke-opacity="0.36" stroke-width="2" stroke-dasharray="1.9 2.32"/>
<line x1="298.5" y1="352.05" x2="295.7" y2="484.4" stroke="#0c1a66" stroke-opacity="0.36" stroke-width="2" stroke-dasharray="1.9 2.32"/>
<line x1="322.3" y1="352.05" x2="321.3" y2="484.4" stroke="#0c1a66" stroke-opacity="0.36" stroke-width="2" stroke-dasharray="1.9 2.32"/>
<line x1="342.8" y1="352.05" x2="342" y2="484.4" stroke="#0c1a66" stroke-opacity="0.36" stroke-width="2" stroke-dasharray="1.9 2.32"/>
<line x1="370.6" y1="352.05" x2="368.7" y2="484.4" stroke="#0c1a66" stroke-opacity="0.36" stroke-width="2" stroke-dasharray="1.9 2.32"/>
<line x1="382.2" y1="352.05" x2="381.5" y2="484.4" stroke="#0c1a66" stroke-opacity="0.36" stroke-width="2" stroke-dasharray="1.9 2.32"/>
<line x1="391.6" y1="352.05" x2="389" y2="484.4" stroke="#0c1a66" stroke-opacity="0.36" stroke-width="2" stroke-dasharray="1.9 2.32"/>
<line x1="408.7" y1="352.05" x2="408.2" y2="484.4" stroke="#0c1a66" stroke-opacity="0.36" stroke-width="2" stroke-dasharray="1.9 2.32"/>
<line x1="427.2" y1="352.05" x2="424.7" y2="484.4" stroke="#0c1a66" stroke-opacity="0.36" stroke-width="2" stroke-dasharray="1.9 2.32"/>
<line x1="439.2" y1="352.05" x2="436.5" y2="484.4" stroke="#0c1a66" stroke-opacity="0.36" stroke-width="2" stroke-dasharray="1.9 2.32"/>
<line x1="458.5" y1="352.05" x2="458.8" y2="484.4" stroke="#0c1a66" stroke-opacity="0.36" stroke-width="2" stroke-dasharray="1.9 2.32"/>
<line x1="475.6" y1="352.05" x2="474.6" y2="484.4" stroke="#0c1a66" stroke-opacity="0.36" stroke-width="2" stroke-dasharray="1.9 2.32"/>
<path d="M49.7 352.05L49.6 485.8" stroke="#000" stroke-width="1.9" stroke-dasharray="1.75 2.47" fill="none"/>
<path d="M70.9 352.05L71.9 485.8" stroke="#000" stroke-width="1.9" stroke-dasharray="1.75 2.47" fill="none"/>
<path d="M94.3 352.05L95.5 485.8" stroke="#000" stroke-width="1.9" stroke-dasharray="1.75 2.47" fill="none"/>
<path d="M129.7 352.05L129.9 485.8" stroke="#000" stroke-width="1.9" stroke-dasharray="1.75 2.47" fill="none"/>
<path d="M158.3 352.05L161.1 485.8" stroke="#000" stroke-width="1.9" stroke-dasharray="1.75 2.47" fill="none"/>
<path d="M191.1 352.05L193 485.8" stroke="#000" stroke-width="1.9" stroke-dasharray="1.75 2.47" fill="none"/>
<path d="M222.4 352.05L224.4 485.8" stroke="#000" stroke-width="1.9" stroke-dasharray="1.75 2.47" fill="none"/>
<path d="M240.8 352.05L241.4 485.8" stroke="#000" stroke-width="1.9" stroke-dasharray="1.75 2.47" fill="none"/>
<path d="M266.2 352.05L266.9 485.8" stroke="#000" stroke-width="1.9" stroke-dasharray="1.75 2.47" fill="none"/>
<path d="M289 352.05L290 485.8" stroke="#000" stroke-width="1.9" stroke-dasharray="1.75 2.47" fill="none"/>
<path d="M310.6 352.05L311.4 485.8" stroke="#000" stroke-width="1.9" stroke-dasharray="1.75 2.47" fill="none"/>
<path d="M332.8 352.05L333.4 485.8" stroke="#000" stroke-width="1.9" stroke-dasharray="1.75 2.47" fill="none"/>
<path d="M359.6 352.05L361 485.8" stroke="#000" stroke-width="1.9" stroke-dasharray="1.75 2.47" fill="none"/>
<path d="M374.9 352.05L374.9 485.8" stroke="#000" stroke-width="1.9" stroke-dasharray="1.75 2.47" fill="none"/>
<path d="M399.1 352.05L399.8 485.8" stroke="#000" stroke-width="1.9" stroke-dasharray="1.75 2.47" fill="none"/>
<path d="M418.5 352.05L418.5 485.8" stroke="#000" stroke-width="1.9" stroke-dasharray="1.75 2.47" fill="none"/>
<path d="M447.8 352.05L450.3 485.8" stroke="#000" stroke-width="1.9" stroke-dasharray="1.75 2.47" fill="none"/>
<path d="M465.4 352.05L465.4 485.8" stroke="#000" stroke-width="1.9" stroke-dasharray="1.75 2.47" fill="none"/>
<path d="M384.2 458L384.2 485.8" stroke="#000" stroke-width="1.9" stroke-dasharray="1.75 2.47" fill="none"/>
<path d="M429.5 390L429.7 485.8" stroke="#000" stroke-width="1.9" stroke-dasharray="1.75 2.47" fill="none"/>
<path d="M51.2 347.6L54.2 350.6M51.2 350.6L54.2 347.6" stroke="#000" stroke-width="1.4" fill="none"/>
<path d="M72.7 347.6L75.7 350.6M72.7 350.6L75.7 347.6" stroke="#000" stroke-width="1.4" fill="none"/>
<path d="M96.3 347.6L99.3 350.6M96.3 350.6L99.3 347.6" stroke="#000" stroke-width="1.4" fill="none"/>
<path d="M130.5 347.6L133.5 350.6M130.5 350.6L133.5 347.6" stroke="#000" stroke-width="1.4" fill="none"/>
<path d="M162.7 347.6L165.7 350.6M162.7 350.6L165.7 347.6" stroke="#000" stroke-width="1.4" fill="none"/>
<path d="M193.2 347.6L196.2 350.6M193.2 350.6L196.2 347.6" stroke="#000" stroke-width="1.4" fill="none"/>
<path d="M224.5 347.6L227.5 350.6M224.5 350.6L227.5 347.6" stroke="#000" stroke-width="1.4" fill="none"/>
<path d="M241.8 347.6L244.8 350.6M241.8 350.6L244.8 347.6" stroke="#000" stroke-width="1.4" fill="none"/>
<path d="M268.5 347.6L271.5 350.6M268.5 350.6L271.5 347.6" stroke="#000" stroke-width="1.4" fill="none"/>
<path d="M292.2 347.6L295.2 350.6M292.2 350.6L295.2 347.6" stroke="#000" stroke-width="1.4" fill="none"/>
<path d="M314.1 347.6L317.1 350.6M314.1 350.6L317.1 347.6" stroke="#000" stroke-width="1.4" fill="none"/>
<path d="M334.5 347.6L337.5 350.6M334.5 350.6L337.5 347.6" stroke="#000" stroke-width="1.4" fill="none"/>
<path d="M362.8 347.6L365.8 350.6M362.8 350.6L365.8 347.6" stroke="#000" stroke-width="1.4" fill="none"/>
<path d="M376.5 347.6L379.5 350.6M376.5 350.6L379.5 347.6" stroke="#000" stroke-width="1.4" fill="none"/>
<path d="M386.3 347.6L389.3 350.6M386.3 350.6L389.3 347.6" stroke="#000" stroke-width="1.4" fill="none"/>
<path d="M401.1 347.6L404.1 350.6M401.1 350.6L404.1 347.6" stroke="#000" stroke-width="1.4" fill="none"/>
<path d="M420.1 347.6L423.1 350.6M420.1 350.6L423.1 347.6" stroke="#000" stroke-width="1.4" fill="none"/>
<path d="M432.9 347.6L435.9 350.6M432.9 350.6L435.9 347.6" stroke="#000" stroke-width="1.4" fill="none"/>
<path d="M452.5 347.6L455.5 350.6M452.5 350.6L455.5 347.6" stroke="#000" stroke-width="1.4" fill="none"/>
<path d="M465.7 347.6L468.7 350.6M465.7 350.6L468.7 347.6" stroke="#000" stroke-width="1.4" fill="none"/>
<circle cx="43.3" cy="349.1" r="1.7" stroke="#000" stroke-width="1.45" fill="none"/>
<circle cx="58.6" cy="349.1" r="1.7" stroke="#000" stroke-width="1.45" fill="none"/>
<circle cx="81.6" cy="349.1" r="1.7" stroke="#000" stroke-width="1.45" fill="none"/>
<circle cx="112.3" cy="349.1" r="1.7" stroke="#000" stroke-width="1.45" fill="none"/>
<circle cx="142" cy="349.1" r="1.7" stroke="#000" stroke-width="1.45" fill="none"/>
<circle cx="173.2" cy="349.1" r="1.7" stroke="#000" stroke-width="1.45" fill="none"/>
<circle cx="206.3" cy="349.1" r="1.7" stroke="#000" stroke-width="1.45" fill="none"/>
<circle cx="235" cy="349.1" r="1.7" stroke="#000" stroke-width="1.45" fill="none"/>
<circle cx="252" cy="349.1" r="1.7" stroke="#000" stroke-width="1.45" fill="none"/>
<circle cx="278.6" cy="349.1" r="1.7" stroke="#000" stroke-width="1.45" fill="none"/>
<circle cx="298.5" cy="349.1" r="1.7" stroke="#000" stroke-width="1.45" fill="none"/>
<circle cx="322.3" cy="349.1" r="1.7" stroke="#000" stroke-width="1.45" fill="none"/>
<circle cx="342.8" cy="349.1" r="1.7" stroke="#000" stroke-width="1.45" fill="none"/>
<circle cx="370.6" cy="349.1" r="1.7" stroke="#000" stroke-width="1.45" fill="none"/>
<circle cx="382.2" cy="349.1" r="1.7" stroke="#000" stroke-width="1.45" fill="none"/>
<circle cx="391.6" cy="349.1" r="1.7" stroke="#000" stroke-width="1.45" fill="none"/>
<circle cx="408.7" cy="349.1" r="1.7" stroke="#000" stroke-width="1.45" fill="none"/>
<circle cx="427.2" cy="349.1" r="1.7" stroke="#000" stroke-width="1.45" fill="none"/>
<circle cx="439.2" cy="349.1" r="1.7" stroke="#000" stroke-width="1.45" fill="none"/>
<circle cx="458.5" cy="349.1" r="1.7" stroke="#000" stroke-width="1.45" fill="none"/>
<circle cx="475.6" cy="349.1" r="1.7" stroke="#000" stroke-width="1.45" fill="none"/>
<text x="37.7" y="484.6" font-size="9.5" text-anchor="end" >1995</text>
<text x="37.7" y="454.375" font-size="9.5" text-anchor="end" >2000</text>
<text x="37.7" y="424.15" font-size="9.5" text-anchor="end" >2005</text>
<text x="37.7" y="393.925" font-size="9.5" text-anchor="end" >2010</text>
<text x="37.7" y="363.7" font-size="9.5" text-anchor="end" >2015</text>
<text x="40.5" y="496.1" font-size="9.5" text-anchor="middle" >−2.5</text>
<text x="85.6" y="496.1" font-size="9.5" text-anchor="middle" >−2</text>
<text x="130.7" y="496.1" font-size="9.5" text-anchor="middle" >−1.5</text>
<text x="175.8" y="496.1" font-size="9.5" text-anchor="middle" >−1</text>
<text x="220.9" y="496.1" font-size="9.5" text-anchor="middle" >−0.5</text>
<text x="266" y="496.1" font-size="9.5" text-anchor="middle" >0</text>
<text x="311.1" y="496.1" font-size="9.5" text-anchor="middle" >0.5</text>
<text x="356.2" y="496.1" font-size="9.5" text-anchor="middle" >1</text>
<text x="401.3" y="496.1" font-size="9.5" text-anchor="middle" >1.5</text>
<text x="446.4" y="496.1" font-size="9.5" text-anchor="middle" >2</text>
<text x="491.5" y="496.1" font-size="9.5" text-anchor="middle" >2.5</text>
<text x="267.3" y="507.8" font-size="10.3" text-anchor="middle"><tspan font-style="italic">x</tspan>  [km]</text>
<text transform="translate(14.8 415.05) rotate(-90)" font-size="10.3" text-anchor="middle"><tspan font-style="italic">T</tspan>  [yr]</text>
<rect x="501.6" y="348.7" width="7.2" height="135.2" fill="url(#cbar)"/>
<line x1="507.6" y1="349" x2="508.8" y2="349" stroke="#333" stroke-width="0.5"/>
<text x="512" y="352.3" font-size="8.2" text-anchor="start" >−27</text>
<line x1="507.6" y1="368.243" x2="508.8" y2="368.243" stroke="#333" stroke-width="0.5"/>
<text x="512" y="371.543" font-size="8.2" text-anchor="start" >−28</text>
<line x1="507.6" y1="387.486" x2="508.8" y2="387.486" stroke="#333" stroke-width="0.5"/>
<text x="512" y="390.786" font-size="8.2" text-anchor="start" >−29</text>
<line x1="507.6" y1="406.729" x2="508.8" y2="406.729" stroke="#333" stroke-width="0.5"/>
<text x="512" y="410.029" font-size="8.2" text-anchor="start" >−30</text>
<line x1="507.6" y1="425.971" x2="508.8" y2="425.971" stroke="#333" stroke-width="0.5"/>
<text x="512" y="429.271" font-size="8.2" text-anchor="start" >−31</text>
<line x1="507.6" y1="445.214" x2="508.8" y2="445.214" stroke="#333" stroke-width="0.5"/>
<text x="512" y="448.514" font-size="8.2" text-anchor="start" >−32</text>
<line x1="507.6" y1="464.457" x2="508.8" y2="464.457" stroke="#333" stroke-width="0.5"/>
<text x="512" y="467.757" font-size="8.2" text-anchor="start" >−33</text>
<line x1="507.6" y1="483.7" x2="508.8" y2="483.7" stroke="#333" stroke-width="0.5"/>
<text x="512" y="487" font-size="8.2" text-anchor="start" >−34</text>
<text transform="translate(533.3 415.55) rotate(-90)" font-size="8.8" text-anchor="middle"><tspan font-style="italic">z</tspan><tspan font-style="italic" font-size="6.16" dy="2">b</tspan><tspan dy="-2"> [m]</tspan></text>
<text x="491.7" y="357.2" font-size="11" font-weight="bold" text-anchor="end" style="fill:#000" stroke="#000" stroke-width="0.25">(c)</text>
</g>
</svg>
</body>
</html>
